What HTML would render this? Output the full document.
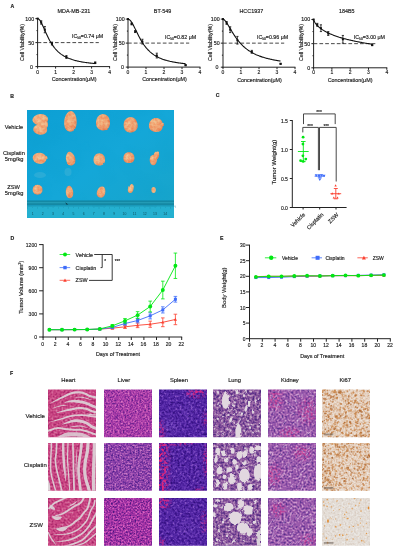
<!DOCTYPE html><html><head><meta charset="utf-8"><title>Figure</title><style>html,body{margin:0;padding:0;background:#fff;width:398px;height:550px;overflow:hidden}svg{display:block}</style></head><body><svg xmlns="http://www.w3.org/2000/svg" width="398" height="550" viewBox="0 0 398 550" font-family="'Liberation Sans', Arial, sans-serif"><style>text{stroke:#1e1e1e;stroke-width:0.16px}</style><defs><filter id="n_heart0" x="0" y="0" width="100%" height="100%" color-interpolation-filters="sRGB"><feTurbulence type="fractalNoise" baseFrequency="0.5" numOctaves="2" seed="1"/><feColorMatrix type="matrix" values="1 0 0 0 0 1 0 0 0 0 1 0 0 0 0 0 0 0 0 1"/><feComponentTransfer><feFuncR type="table" tableValues="0.604 0.604 0.604 0.604 0.604 0.646 0.688 0.729 0.748 0.766 0.784 0.795 0.805 0.816 0.824 0.831 0.839 0.839 0.839 0.839 0.839"/><feFuncG type="table" tableValues="0.141 0.141 0.141 0.141 0.141 0.162 0.183 0.204 0.225 0.246 0.267 0.295 0.324 0.353 0.403 0.452 0.502 0.502 0.502 0.502 0.502"/><feFuncB type="table" tableValues="0.384 0.384 0.384 0.384 0.384 0.410 0.437 0.463 0.478 0.494 0.510 0.528 0.546 0.565 0.593 0.622 0.651 0.651 0.651 0.651 0.651"/></feComponentTransfer></filter><filter id="n_heart1" x="0" y="0" width="100%" height="100%" color-interpolation-filters="sRGB"><feTurbulence type="fractalNoise" baseFrequency="0.5" numOctaves="2" seed="8"/><feColorMatrix type="matrix" values="1 0 0 0 0 1 0 0 0 0 1 0 0 0 0 0 0 0 0 1"/><feComponentTransfer><feFuncR type="table" tableValues="0.604 0.604 0.604 0.604 0.604 0.646 0.688 0.729 0.748 0.766 0.784 0.795 0.805 0.816 0.824 0.831 0.839 0.839 0.839 0.839 0.839"/><feFuncG type="table" tableValues="0.141 0.141 0.141 0.141 0.141 0.162 0.183 0.204 0.225 0.246 0.267 0.295 0.324 0.353 0.403 0.452 0.502 0.502 0.502 0.502 0.502"/><feFuncB type="table" tableValues="0.384 0.384 0.384 0.384 0.384 0.410 0.437 0.463 0.478 0.494 0.510 0.528 0.546 0.565 0.593 0.622 0.651 0.651 0.651 0.651 0.651"/></feComponentTransfer></filter><filter id="n_heart2" x="0" y="0" width="100%" height="100%" color-interpolation-filters="sRGB"><feTurbulence type="fractalNoise" baseFrequency="0.5" numOctaves="2" seed="15"/><feColorMatrix type="matrix" values="1 0 0 0 0 1 0 0 0 0 1 0 0 0 0 0 0 0 0 1"/><feComponentTransfer><feFuncR type="table" tableValues="0.604 0.604 0.604 0.604 0.604 0.646 0.688 0.729 0.748 0.766 0.784 0.795 0.805 0.816 0.824 0.831 0.839 0.839 0.839 0.839 0.839"/><feFuncG type="table" tableValues="0.141 0.141 0.141 0.141 0.141 0.162 0.183 0.204 0.225 0.246 0.267 0.295 0.324 0.353 0.403 0.452 0.502 0.502 0.502 0.502 0.502"/><feFuncB type="table" tableValues="0.384 0.384 0.384 0.384 0.384 0.410 0.437 0.463 0.478 0.494 0.510 0.528 0.546 0.565 0.593 0.622 0.651 0.651 0.651 0.651 0.651"/></feComponentTransfer></filter><filter id="n_liver0" x="0" y="0" width="100%" height="100%" color-interpolation-filters="sRGB"><feTurbulence type="fractalNoise" baseFrequency="0.6" numOctaves="2" seed="4"/><feColorMatrix type="matrix" values="1 0 0 0 0 1 0 0 0 0 1 0 0 0 0 0 0 0 0 1"/><feComponentTransfer><feFuncR type="table" tableValues="0.353 0.353 0.353 0.353 0.353 0.413 0.473 0.533 0.575 0.617 0.659 0.695 0.732 0.769 0.795 0.821 0.847 0.847 0.847 0.847 0.847"/><feFuncG type="table" tableValues="0.125 0.125 0.125 0.125 0.125 0.141 0.157 0.173 0.193 0.214 0.235 0.269 0.303 0.337 0.382 0.426 0.471 0.471 0.471 0.471 0.471"/><feFuncB type="table" tableValues="0.533 0.533 0.533 0.533 0.533 0.559 0.586 0.612 0.627 0.643 0.659 0.675 0.690 0.706 0.727 0.748 0.769 0.769 0.769 0.769 0.769"/></feComponentTransfer></filter><filter id="n_liver1" x="0" y="0" width="100%" height="100%" color-interpolation-filters="sRGB"><feTurbulence type="fractalNoise" baseFrequency="0.6" numOctaves="2" seed="11"/><feColorMatrix type="matrix" values="1 0 0 0 0 1 0 0 0 0 1 0 0 0 0 0 0 0 0 1"/><feComponentTransfer><feFuncR type="table" tableValues="0.290 0.290 0.290 0.290 0.290 0.337 0.384 0.431 0.473 0.515 0.557 0.599 0.641 0.682 0.722 0.761 0.800 0.800 0.800 0.800 0.800"/><feFuncG type="table" tableValues="0.125 0.125 0.125 0.125 0.125 0.146 0.167 0.188 0.212 0.235 0.259 0.293 0.327 0.361 0.408 0.455 0.502 0.502 0.502 0.502 0.502"/><feFuncB type="table" tableValues="0.533 0.533 0.533 0.533 0.533 0.559 0.586 0.612 0.630 0.648 0.667 0.685 0.703 0.722 0.742 0.763 0.784 0.784 0.784 0.784 0.784"/></feComponentTransfer></filter><filter id="n_liver2" x="0" y="0" width="100%" height="100%" color-interpolation-filters="sRGB"><feTurbulence type="fractalNoise" baseFrequency="0.6" numOctaves="2" seed="18"/><feColorMatrix type="matrix" values="1 0 0 0 0 1 0 0 0 0 1 0 0 0 0 0 0 0 0 1"/><feComponentTransfer><feFuncR type="table" tableValues="0.290 0.290 0.290 0.290 0.290 0.353 0.416 0.478 0.531 0.583 0.635 0.680 0.724 0.769 0.800 0.831 0.863 0.863 0.863 0.863 0.863"/><feFuncG type="table" tableValues="0.094 0.094 0.094 0.094 0.094 0.110 0.125 0.141 0.159 0.178 0.196 0.230 0.264 0.298 0.345 0.392 0.439 0.439 0.439 0.439 0.439"/><feFuncB type="table" tableValues="0.502 0.502 0.502 0.502 0.502 0.531 0.559 0.588 0.607 0.625 0.643 0.664 0.685 0.706 0.727 0.748 0.769 0.769 0.769 0.769 0.769"/></feComponentTransfer></filter><filter id="n_spleen0" x="0" y="0" width="100%" height="100%" color-interpolation-filters="sRGB"><feTurbulence type="fractalNoise" baseFrequency="0.45" numOctaves="2" seed="7"/><feColorMatrix type="matrix" values="1 0 0 0 0 1 0 0 0 0 1 0 0 0 0 0 0 0 0 1"/><feComponentTransfer><feFuncR type="table" tableValues="0.188 0.188 0.188 0.188 0.188 0.212 0.235 0.259 0.280 0.301 0.322 0.348 0.374 0.400 0.447 0.494 0.541 0.541 0.541 0.541 0.541"/><feFuncG type="table" tableValues="0.063 0.063 0.063 0.063 0.063 0.073 0.084 0.094 0.112 0.131 0.149 0.170 0.191 0.212 0.254 0.295 0.337 0.337 0.337 0.337 0.337"/><feFuncB type="table" tableValues="0.478 0.478 0.478 0.478 0.478 0.510 0.541 0.573 0.596 0.620 0.643 0.664 0.685 0.706 0.727 0.748 0.769 0.769 0.769 0.769 0.769"/></feComponentTransfer></filter><filter id="n_spleen1" x="0" y="0" width="100%" height="100%" color-interpolation-filters="sRGB"><feTurbulence type="fractalNoise" baseFrequency="0.45" numOctaves="2" seed="14"/><feColorMatrix type="matrix" values="1 0 0 0 0 1 0 0 0 0 1 0 0 0 0 0 0 0 0 1"/><feComponentTransfer><feFuncR type="table" tableValues="0.188 0.188 0.188 0.188 0.188 0.212 0.235 0.259 0.280 0.301 0.322 0.348 0.374 0.400 0.447 0.494 0.541 0.541 0.541 0.541 0.541"/><feFuncG type="table" tableValues="0.063 0.063 0.063 0.063 0.063 0.073 0.084 0.094 0.112 0.131 0.149 0.170 0.191 0.212 0.254 0.295 0.337 0.337 0.337 0.337 0.337"/><feFuncB type="table" tableValues="0.478 0.478 0.478 0.478 0.478 0.510 0.541 0.573 0.596 0.620 0.643 0.664 0.685 0.706 0.727 0.748 0.769 0.769 0.769 0.769 0.769"/></feComponentTransfer></filter><filter id="n_spleen2" x="0" y="0" width="100%" height="100%" color-interpolation-filters="sRGB"><feTurbulence type="fractalNoise" baseFrequency="0.45" numOctaves="2" seed="21"/><feColorMatrix type="matrix" values="1 0 0 0 0 1 0 0 0 0 1 0 0 0 0 0 0 0 0 1"/><feComponentTransfer><feFuncR type="table" tableValues="0.188 0.188 0.188 0.188 0.188 0.212 0.235 0.259 0.280 0.301 0.322 0.348 0.374 0.400 0.447 0.494 0.541 0.541 0.541 0.541 0.541"/><feFuncG type="table" tableValues="0.063 0.063 0.063 0.063 0.063 0.073 0.084 0.094 0.112 0.131 0.149 0.170 0.191 0.212 0.254 0.295 0.337 0.337 0.337 0.337 0.337"/><feFuncB type="table" tableValues="0.478 0.478 0.478 0.478 0.478 0.510 0.541 0.573 0.596 0.620 0.643 0.664 0.685 0.706 0.727 0.748 0.769 0.769 0.769 0.769 0.769"/></feComponentTransfer></filter><filter id="n_lung0" x="0" y="0" width="100%" height="100%" color-interpolation-filters="sRGB"><feTurbulence type="fractalNoise" baseFrequency="0.42" numOctaves="2" seed="10"/><feColorMatrix type="matrix" values="1 0 0 0 0 1 0 0 0 0 1 0 0 0 0 0 0 0 0 1"/><feComponentTransfer><feFuncR type="table" tableValues="0.267 0.267 0.267 0.267 0.267 0.311 0.356 0.400 0.450 0.499 0.549 0.588 0.627 0.667 0.716 0.766 0.816 0.816 0.816 0.816 0.816"/><feFuncG type="table" tableValues="0.157 0.157 0.157 0.157 0.157 0.180 0.204 0.227 0.264 0.301 0.337 0.392 0.447 0.502 0.575 0.648 0.722 0.722 0.722 0.722 0.722"/><feFuncB type="table" tableValues="0.478 0.478 0.478 0.478 0.478 0.505 0.531 0.557 0.578 0.599 0.620 0.646 0.672 0.698 0.737 0.776 0.816 0.816 0.816 0.816 0.816"/></feComponentTransfer></filter><filter id="n_lung1" x="0" y="0" width="100%" height="100%" color-interpolation-filters="sRGB"><feTurbulence type="fractalNoise" baseFrequency="0.42" numOctaves="2" seed="17"/><feColorMatrix type="matrix" values="1 0 0 0 0 1 0 0 0 0 1 0 0 0 0 0 0 0 0 1"/><feComponentTransfer><feFuncR type="table" tableValues="0.267 0.267 0.267 0.267 0.267 0.311 0.356 0.400 0.450 0.499 0.549 0.588 0.627 0.667 0.716 0.766 0.816 0.816 0.816 0.816 0.816"/><feFuncG type="table" tableValues="0.157 0.157 0.157 0.157 0.157 0.180 0.204 0.227 0.264 0.301 0.337 0.392 0.447 0.502 0.575 0.648 0.722 0.722 0.722 0.722 0.722"/><feFuncB type="table" tableValues="0.478 0.478 0.478 0.478 0.478 0.505 0.531 0.557 0.578 0.599 0.620 0.646 0.672 0.698 0.737 0.776 0.816 0.816 0.816 0.816 0.816"/></feComponentTransfer></filter><filter id="n_lung2" x="0" y="0" width="100%" height="100%" color-interpolation-filters="sRGB"><feTurbulence type="fractalNoise" baseFrequency="0.42" numOctaves="2" seed="24"/><feColorMatrix type="matrix" values="1 0 0 0 0 1 0 0 0 0 1 0 0 0 0 0 0 0 0 1"/><feComponentTransfer><feFuncR type="table" tableValues="0.267 0.267 0.267 0.267 0.267 0.311 0.356 0.400 0.450 0.499 0.549 0.588 0.627 0.667 0.716 0.766 0.816 0.816 0.816 0.816 0.816"/><feFuncG type="table" tableValues="0.157 0.157 0.157 0.157 0.157 0.180 0.204 0.227 0.264 0.301 0.337 0.392 0.447 0.502 0.575 0.648 0.722 0.722 0.722 0.722 0.722"/><feFuncB type="table" tableValues="0.478 0.478 0.478 0.478 0.478 0.505 0.531 0.557 0.578 0.599 0.620 0.646 0.672 0.698 0.737 0.776 0.816 0.816 0.816 0.816 0.816"/></feComponentTransfer></filter><filter id="n_kidney0" x="0" y="0" width="100%" height="100%" color-interpolation-filters="sRGB"><feTurbulence type="fractalNoise" baseFrequency="0.5" numOctaves="2" seed="13"/><feColorMatrix type="matrix" values="1 0 0 0 0 1 0 0 0 0 1 0 0 0 0 0 0 0 0 1"/><feComponentTransfer><feFuncR type="table" tableValues="0.322 0.322 0.322 0.322 0.322 0.374 0.426 0.478 0.520 0.562 0.604 0.643 0.682 0.722 0.763 0.805 0.847 0.847 0.847 0.847 0.847"/><feFuncG type="table" tableValues="0.188 0.188 0.188 0.188 0.188 0.214 0.241 0.267 0.295 0.324 0.353 0.395 0.437 0.478 0.544 0.609 0.675 0.675 0.675 0.675 0.675"/><feFuncB type="table" tableValues="0.541 0.541 0.541 0.541 0.541 0.567 0.593 0.620 0.638 0.656 0.675 0.695 0.716 0.737 0.771 0.805 0.839 0.839 0.839 0.839 0.839"/></feComponentTransfer></filter><filter id="n_kidney1" x="0" y="0" width="100%" height="100%" color-interpolation-filters="sRGB"><feTurbulence type="fractalNoise" baseFrequency="0.5" numOctaves="2" seed="20"/><feColorMatrix type="matrix" values="1 0 0 0 0 1 0 0 0 0 1 0 0 0 0 0 0 0 0 1"/><feComponentTransfer><feFuncR type="table" tableValues="0.322 0.322 0.322 0.322 0.322 0.374 0.426 0.478 0.520 0.562 0.604 0.643 0.682 0.722 0.763 0.805 0.847 0.847 0.847 0.847 0.847"/><feFuncG type="table" tableValues="0.188 0.188 0.188 0.188 0.188 0.214 0.241 0.267 0.295 0.324 0.353 0.395 0.437 0.478 0.544 0.609 0.675 0.675 0.675 0.675 0.675"/><feFuncB type="table" tableValues="0.541 0.541 0.541 0.541 0.541 0.567 0.593 0.620 0.638 0.656 0.675 0.695 0.716 0.737 0.771 0.805 0.839 0.839 0.839 0.839 0.839"/></feComponentTransfer></filter><filter id="n_kidney2" x="0" y="0" width="100%" height="100%" color-interpolation-filters="sRGB"><feTurbulence type="fractalNoise" baseFrequency="0.5" numOctaves="2" seed="27"/><feColorMatrix type="matrix" values="1 0 0 0 0 1 0 0 0 0 1 0 0 0 0 0 0 0 0 1"/><feComponentTransfer><feFuncR type="table" tableValues="0.322 0.322 0.322 0.322 0.322 0.374 0.426 0.478 0.520 0.562 0.604 0.643 0.682 0.722 0.763 0.805 0.847 0.847 0.847 0.847 0.847"/><feFuncG type="table" tableValues="0.188 0.188 0.188 0.188 0.188 0.214 0.241 0.267 0.295 0.324 0.353 0.395 0.437 0.478 0.544 0.609 0.675 0.675 0.675 0.675 0.675"/><feFuncB type="table" tableValues="0.541 0.541 0.541 0.541 0.541 0.567 0.593 0.620 0.638 0.656 0.675 0.695 0.716 0.737 0.771 0.805 0.839 0.839 0.839 0.839 0.839"/></feComponentTransfer></filter><filter id="n_ki670" x="0" y="0" width="100%" height="100%" color-interpolation-filters="sRGB"><feTurbulence type="fractalNoise" baseFrequency="0.55" numOctaves="2" seed="16"/><feColorMatrix type="matrix" values="1 0 0 0 0 1 0 0 0 0 1 0 0 0 0 0 0 0 0 1"/><feComponentTransfer><feFuncR type="table" tableValues="0.847 0.847 0.847 0.847 0.847 0.858 0.868 0.878 0.886 0.894 0.902 0.907 0.912 0.918 0.923 0.928 0.933 0.933 0.933 0.933 0.933"/><feFuncG type="table" tableValues="0.706 0.706 0.706 0.706 0.706 0.727 0.748 0.769 0.787 0.805 0.824 0.837 0.850 0.863 0.876 0.889 0.902 0.902 0.902 0.902 0.902"/><feFuncB type="table" tableValues="0.596 0.596 0.596 0.596 0.596 0.622 0.648 0.675 0.703 0.732 0.761 0.779 0.797 0.816 0.834 0.852 0.871 0.871 0.871 0.871 0.871"/></feComponentTransfer></filter><filter id="n_ki671" x="0" y="0" width="100%" height="100%" color-interpolation-filters="sRGB"><feTurbulence type="fractalNoise" baseFrequency="0.55" numOctaves="2" seed="23"/><feColorMatrix type="matrix" values="1 0 0 0 0 1 0 0 0 0 1 0 0 0 0 0 0 0 0 1"/><feComponentTransfer><feFuncR type="table" tableValues="0.847 0.847 0.847 0.847 0.847 0.858 0.868 0.878 0.886 0.894 0.902 0.907 0.912 0.918 0.923 0.928 0.933 0.933 0.933 0.933 0.933"/><feFuncG type="table" tableValues="0.706 0.706 0.706 0.706 0.706 0.727 0.748 0.769 0.787 0.805 0.824 0.837 0.850 0.863 0.876 0.889 0.902 0.902 0.902 0.902 0.902"/><feFuncB type="table" tableValues="0.596 0.596 0.596 0.596 0.596 0.622 0.648 0.675 0.703 0.732 0.761 0.779 0.797 0.816 0.834 0.852 0.871 0.871 0.871 0.871 0.871"/></feComponentTransfer></filter><filter id="n_ki672" x="0" y="0" width="100%" height="100%" color-interpolation-filters="sRGB"><feTurbulence type="fractalNoise" baseFrequency="0.55" numOctaves="2" seed="30"/><feColorMatrix type="matrix" values="1 0 0 0 0 1 0 0 0 0 1 0 0 0 0 0 0 0 0 1"/><feComponentTransfer><feFuncR type="table" tableValues="0.847 0.847 0.847 0.847 0.847 0.856 0.865 0.875 0.881 0.888 0.894 0.899 0.905 0.910 0.915 0.920 0.925 0.925 0.925 0.925 0.925"/><feFuncG type="table" tableValues="0.800 0.800 0.800 0.800 0.800 0.813 0.826 0.839 0.848 0.858 0.867 0.875 0.882 0.890 0.901 0.911 0.922 0.922 0.922 0.922 0.922"/><feFuncB type="table" tableValues="0.753 0.753 0.753 0.753 0.753 0.771 0.790 0.808 0.818 0.829 0.839 0.850 0.860 0.871 0.884 0.897 0.910 0.910 0.910 0.910 0.910"/></feComponentTransfer></filter><filter id="spk" x="-5%" y="-5%" width="110%" height="110%" color-interpolation-filters="sRGB"><feTurbulence type="fractalNoise" baseFrequency="0.45" numOctaves="1" seed="9" result="n"/><feColorMatrix in="n" type="matrix" values="0 0 0 0 0  0 0 0 0 0  0 0 0 0 0  5 0 0 0 -2.2" result="m"/><feComposite in="SourceGraphic" in2="m" operator="in"/></filter><filter id="lumpy" x="-5%" y="-5%" width="110%" height="110%"><feTurbulence type="fractalNoise" baseFrequency="0.22" numOctaves="2" seed="4" result="n"/><feDisplacementMap in="SourceGraphic" in2="n" scale="3.2" xChannelSelector="R" yChannelSelector="G"/></filter><radialGradient id="pinkR"><stop offset="0" stop-color="#f0287c"/><stop offset="0.6" stop-color="#e02a8a" stop-opacity="0.8"/><stop offset="1" stop-color="#d030a0" stop-opacity="0"/></radialGradient><filter id="spk2" x="-5%" y="-5%" width="110%" height="110%" color-interpolation-filters="sRGB"><feTurbulence type="fractalNoise" baseFrequency="0.5" numOctaves="1" seed="3" result="n"/><feColorMatrix in="n" type="matrix" values="0 0 0 0 0  0 0 0 0 0  0 0 0 0 0  7 0 0 0 -3.7" result="m"/><feComposite in="SourceGraphic" in2="m" operator="in"/></filter><radialGradient id="resR"><stop offset="0" stop-color="#a8dcec" stop-opacity="0.8"/><stop offset="1" stop-color="#a8dcec" stop-opacity="0"/></radialGradient><radialGradient id="lavR"><stop offset="0" stop-color="#9a70d8"/><stop offset="1" stop-color="#9a70d8" stop-opacity="0"/></radialGradient><linearGradient id="pinkL" x1="0" y1="0" x2="1" y2="0"><stop offset="0" stop-color="#f02270"/><stop offset="0.5" stop-color="#e82a80" stop-opacity="0.85"/><stop offset="1" stop-color="#d0309a" stop-opacity="0"/></linearGradient><filter id="soft2" x="-10%" y="-10%" width="120%" height="120%"><feGaussianBlur stdDeviation="0.7"/></filter><clipPath id="clip00"><rect x="48" y="389.5" width="48" height="47.8"/></clipPath><clipPath id="clip01"><rect x="104" y="389.5" width="48" height="47.8"/></clipPath><clipPath id="clip02"><rect x="159" y="389.5" width="48" height="47.8"/></clipPath><clipPath id="clip03"><rect x="213" y="389.5" width="48" height="47.8"/></clipPath><clipPath id="clip04"><rect x="268" y="389.5" width="48" height="47.8"/></clipPath><clipPath id="clip05"><rect x="322" y="389.5" width="48" height="47.8"/></clipPath><clipPath id="clip10"><rect x="48" y="443.0" width="48" height="47.8"/></clipPath><clipPath id="clip11"><rect x="104" y="443.0" width="48" height="47.8"/></clipPath><clipPath id="clip12"><rect x="159" y="443.0" width="48" height="47.8"/></clipPath><clipPath id="clip13"><rect x="213" y="443.0" width="48" height="47.8"/></clipPath><clipPath id="clip14"><rect x="268" y="443.0" width="48" height="47.8"/></clipPath><clipPath id="clip15"><rect x="322" y="443.0" width="48" height="47.8"/></clipPath><clipPath id="clip20"><rect x="48" y="498.0" width="48" height="47.8"/></clipPath><clipPath id="clip21"><rect x="104" y="498.0" width="48" height="47.8"/></clipPath><clipPath id="clip22"><rect x="159" y="498.0" width="48" height="47.8"/></clipPath><clipPath id="clip23"><rect x="213" y="498.0" width="48" height="47.8"/></clipPath><clipPath id="clip24"><rect x="268" y="498.0" width="48" height="47.8"/></clipPath><clipPath id="clip25"><rect x="322" y="498.0" width="48" height="47.8"/></clipPath><radialGradient id="tumL" cx="42%" cy="40%" r="65%"><stop offset="0" stop-color="#f8cca2"/><stop offset="0.6" stop-color="#f2b080"/><stop offset="1" stop-color="#e89466"/></radialGradient><radialGradient id="tumO" cx="40%" cy="40%" r="65%"><stop offset="0" stop-color="#f6c08e"/><stop offset="0.6" stop-color="#f0a474"/><stop offset="1" stop-color="#e4845a"/></radialGradient><radialGradient id="tumY" cx="40%" cy="40%" r="65%"><stop offset="0" stop-color="#f6d0a0"/><stop offset="1" stop-color="#eaa870"/></radialGradient><filter id="tumf" x="-5%" y="-5%" width="110%" height="110%" color-interpolation-filters="sRGB"><feTurbulence type="fractalNoise" baseFrequency="0.35" numOctaves="2" seed="11" result="n"/><feTurbulence type="fractalNoise" baseFrequency="0.18" numOctaves="1" seed="5" result="n2"/><feDisplacementMap in="SourceGraphic" in2="n2" scale="2.0" xChannelSelector="R" yChannelSelector="G" result="d0"/><feGaussianBlur in="d0" stdDeviation="0.5" result="d"/><feColorMatrix in="n" type="matrix" values="0 0 0 0 0.93  0.9 0 0 0 0.15  0.9 0 0 0 -0.05  0 0 0 0 1" result="c"/><feComposite in="c" in2="d" operator="in" result="t"/><feComposite in="t" in2="d" operator="arithmetic" k1="0" k2="0.35" k3="0.65" k4="0"/></filter><filter id="bluetex" x="0" y="0" width="100%" height="100%" color-interpolation-filters="sRGB"><feTurbulence type="fractalNoise" baseFrequency="0.04" numOctaves="2" seed="2"/><feColorMatrix type="matrix" values="0 0 0 0 0.05  0 0 0 0 0.62  0 0 0 0 0.80  1.2 0 0 0 -0.55"/></filter><linearGradient id="blueGrad" x1="0" y1="0" x2="1" y2="1"><stop offset="0" stop-color="#0c9fd4"/><stop offset="0.5" stop-color="#14a7d8"/><stop offset="1" stop-color="#18a4c8"/></linearGradient></defs><rect width="398" height="550" fill="#fff"/><text x="10.60" y="8.00" font-size="5.2" text-anchor="start" font-weight="bold" fill="#1e1e1e" >A</text>
<line x1="37.60" y1="18.20" x2="37.60" y2="67.05" stroke="#222" stroke-width="1.0" />
<line x1="37.15" y1="66.60" x2="110.05" y2="66.60" stroke="#222" stroke-width="1.0" />
<line x1="35.40" y1="66.60" x2="37.60" y2="66.60" stroke="#222" stroke-width="1.0" />
<text x="33.00" y="68.50" font-size="5.3" text-anchor="end" fill="#1e1e1e" >0</text>
<line x1="35.40" y1="42.60" x2="37.60" y2="42.60" stroke="#222" stroke-width="1.0" />
<text x="34.20" y="44.50" font-size="5.3" text-anchor="end" fill="#1e1e1e" >50</text>
<line x1="35.40" y1="18.60" x2="37.60" y2="18.60" stroke="#222" stroke-width="1.0" />
<text x="34.20" y="20.50" font-size="5.3" text-anchor="end" fill="#1e1e1e" >100</text>
<line x1="36.50" y1="54.60" x2="37.60" y2="54.60" stroke="#222" stroke-width="1.0" />
<line x1="36.50" y1="30.60" x2="37.60" y2="30.60" stroke="#222" stroke-width="1.0" />
<line x1="37.60" y1="66.60" x2="37.60" y2="68.60" stroke="#222" stroke-width="1.0" />
<text x="37.60" y="73.70" font-size="5.0" text-anchor="middle" fill="#1e1e1e" >0</text>
<line x1="55.60" y1="66.60" x2="55.60" y2="68.60" stroke="#222" stroke-width="1.0" />
<text x="55.60" y="73.70" font-size="5.0" text-anchor="middle" fill="#1e1e1e" >1</text>
<line x1="73.60" y1="66.60" x2="73.60" y2="68.60" stroke="#222" stroke-width="1.0" />
<text x="73.60" y="73.70" font-size="5.0" text-anchor="middle" fill="#1e1e1e" >2</text>
<line x1="91.60" y1="66.60" x2="91.60" y2="68.60" stroke="#222" stroke-width="1.0" />
<text x="91.60" y="73.70" font-size="5.0" text-anchor="middle" fill="#1e1e1e" >3</text>
<line x1="109.60" y1="66.60" x2="109.60" y2="68.60" stroke="#222" stroke-width="1.0" />
<text x="109.60" y="73.70" font-size="5.0" text-anchor="middle" fill="#1e1e1e" >4</text>
<text x="74.10" y="81.30" font-size="5.4" text-anchor="middle" fill="#1e1e1e" >Concentration(μM)</text>
<text x="73.90" y="12.60" font-size="5.4" text-anchor="middle" fill="#1e1e1e" >MDA-MB-231</text>
<text transform="translate(23.60,42.60) rotate(-90)" x="0" y="0" font-size="5.3" text-anchor="middle" fill="#1e1e1e">Cell Viability(%)</text>
<line x1="37.60" y1="42.60" x2="98.80" y2="42.60" stroke="#333" stroke-width="0.9" stroke-dasharray="3.7,2.1"/>
<text x="72.00" y="38.00" font-size="5.3" fill="#1e1e1e">IC<tspan font-size="3.2" dy="1.2">50</tspan><tspan dy="-1.2">=0.74 μM</tspan></text>
<polyline points="37.60,18.60 38.32,18.82 39.04,19.37 39.76,20.20 40.48,21.27 41.20,22.52 41.92,23.92 42.64,25.42 43.36,27.00 44.08,28.62 44.80,30.25 45.52,31.87 46.24,33.47 46.96,35.03 47.68,36.55 48.40,38.00 49.12,39.40 49.84,40.73 50.56,41.99 51.28,43.19 52.00,44.33 52.72,45.40 53.44,46.41 54.16,47.37 54.88,48.27 55.60,49.12 56.32,49.92 57.04,50.67 57.76,51.37 58.48,52.04 59.20,52.67 59.92,53.26 60.64,53.82 61.36,54.35 62.08,54.84 62.80,55.31 63.52,55.76 64.24,56.18 64.96,56.57 65.68,56.95 66.40,57.31 67.12,57.64 67.84,57.96 68.56,58.27 69.28,58.56 70.00,58.83 70.72,59.09 71.44,59.34 72.16,59.58 72.88,59.80 73.60,60.02 74.32,60.22 75.04,60.42 75.76,60.61 76.48,60.79 77.20,60.96 77.92,61.12 78.64,61.28 79.36,61.43 80.08,61.57 80.80,61.71 81.52,61.84 82.24,61.97 82.96,62.09 83.68,62.21 84.40,62.32 85.12,62.43 85.84,62.54 86.56,62.64 87.28,62.73 88.00,62.83 88.72,62.92 89.44,63.01 90.16,63.09 90.88,63.17 91.60,63.25 92.32,63.32 93.04,63.40 93.76,63.47 94.48,63.54 95.20,63.60" fill="none" stroke="#111" stroke-width="1.1"/>
<rect x="36.60" y="17.60" width="2.0" height="2.0" fill="#111"/>
<line x1="41.20" y1="20.76" x2="41.20" y2="24.12" stroke="#111" stroke-width="0.8" />
<line x1="40.10" y1="20.76" x2="42.30" y2="20.76" stroke="#111" stroke-width="0.8" />
<line x1="40.10" y1="24.12" x2="42.30" y2="24.12" stroke="#111" stroke-width="0.8" />
<rect x="40.20" y="21.44" width="2.0" height="2.0" fill="#111"/>
<line x1="44.80" y1="26.52" x2="44.80" y2="32.76" stroke="#111" stroke-width="0.8" />
<line x1="43.70" y1="26.52" x2="45.90" y2="26.52" stroke="#111" stroke-width="0.8" />
<line x1="43.70" y1="32.76" x2="45.90" y2="32.76" stroke="#111" stroke-width="0.8" />
<rect x="43.80" y="28.64" width="2.0" height="2.0" fill="#111"/>
<line x1="52.00" y1="42.12" x2="52.00" y2="45.00" stroke="#111" stroke-width="0.8" />
<line x1="50.90" y1="42.12" x2="53.10" y2="42.12" stroke="#111" stroke-width="0.8" />
<line x1="50.90" y1="45.00" x2="53.10" y2="45.00" stroke="#111" stroke-width="0.8" />
<rect x="51.00" y="42.56" width="2.0" height="2.0" fill="#111"/>
<line x1="66.40" y1="55.56" x2="66.40" y2="58.44" stroke="#111" stroke-width="0.8" />
<line x1="65.30" y1="55.56" x2="67.50" y2="55.56" stroke="#111" stroke-width="0.8" />
<line x1="65.30" y1="58.44" x2="67.50" y2="58.44" stroke="#111" stroke-width="0.8" />
<rect x="65.40" y="56.00" width="2.0" height="2.0" fill="#111"/>
<line x1="95.20" y1="62.04" x2="95.20" y2="63.48" stroke="#111" stroke-width="0.8" />
<line x1="94.10" y1="62.04" x2="96.30" y2="62.04" stroke="#111" stroke-width="0.8" />
<line x1="94.10" y1="63.48" x2="96.30" y2="63.48" stroke="#111" stroke-width="0.8" />
<rect x="94.20" y="61.76" width="2.0" height="2.0" fill="#111"/>
<line x1="128.00" y1="18.70" x2="128.00" y2="67.55" stroke="#222" stroke-width="1.0" />
<line x1="127.55" y1="67.10" x2="200.45" y2="67.10" stroke="#222" stroke-width="1.0" />
<line x1="125.80" y1="67.10" x2="128.00" y2="67.10" stroke="#222" stroke-width="1.0" />
<text x="124.00" y="69.00" font-size="5.3" text-anchor="end" fill="#1e1e1e" >0</text>
<line x1="125.80" y1="43.10" x2="128.00" y2="43.10" stroke="#222" stroke-width="1.0" />
<text x="124.60" y="45.00" font-size="5.3" text-anchor="end" fill="#1e1e1e" >50</text>
<line x1="125.80" y1="19.10" x2="128.00" y2="19.10" stroke="#222" stroke-width="1.0" />
<text x="124.60" y="21.00" font-size="5.3" text-anchor="end" fill="#1e1e1e" >100</text>
<line x1="126.90" y1="55.10" x2="128.00" y2="55.10" stroke="#222" stroke-width="1.0" />
<line x1="126.90" y1="31.10" x2="128.00" y2="31.10" stroke="#222" stroke-width="1.0" />
<line x1="128.00" y1="67.10" x2="128.00" y2="69.10" stroke="#222" stroke-width="1.0" />
<text x="128.00" y="73.95" font-size="5.0" text-anchor="middle" fill="#1e1e1e" >0</text>
<line x1="146.00" y1="67.10" x2="146.00" y2="69.10" stroke="#222" stroke-width="1.0" />
<text x="146.00" y="73.95" font-size="5.0" text-anchor="middle" fill="#1e1e1e" >1</text>
<line x1="164.00" y1="67.10" x2="164.00" y2="69.10" stroke="#222" stroke-width="1.0" />
<text x="164.00" y="73.95" font-size="5.0" text-anchor="middle" fill="#1e1e1e" >2</text>
<line x1="182.00" y1="67.10" x2="182.00" y2="69.10" stroke="#222" stroke-width="1.0" />
<text x="182.00" y="73.95" font-size="5.0" text-anchor="middle" fill="#1e1e1e" >3</text>
<line x1="200.00" y1="67.10" x2="200.00" y2="69.10" stroke="#222" stroke-width="1.0" />
<text x="200.00" y="73.95" font-size="5.0" text-anchor="middle" fill="#1e1e1e" >4</text>
<text x="164.50" y="81.47" font-size="5.4" text-anchor="middle" fill="#1e1e1e" >Concentration(μM)</text>
<text x="162.50" y="12.60" font-size="5.4" text-anchor="middle" fill="#1e1e1e" >BT-549</text>
<text transform="translate(116.90,42.60) rotate(-90)" x="0" y="0" font-size="5.3" text-anchor="middle" fill="#1e1e1e">Cell Viability(%)</text>
<line x1="128.00" y1="43.10" x2="189.20" y2="43.10" stroke="#333" stroke-width="0.9" stroke-dasharray="3.7,2.1"/>
<text x="165.00" y="38.70" font-size="5.3" fill="#1e1e1e">IC<tspan font-size="3.2" dy="1.2">50</tspan><tspan dy="-1.2">=0.82 μM</tspan></text>
<polyline points="128.00,19.10 128.72,19.25 129.44,19.67 130.16,20.31 130.88,21.16 131.60,22.18 132.32,23.34 133.04,24.62 133.76,25.98 134.48,27.41 135.20,28.87 135.92,30.36 136.64,31.84 137.36,33.32 138.08,34.77 138.80,36.18 139.52,37.55 140.24,38.88 140.96,40.15 141.68,41.37 142.40,42.54 143.12,43.65 143.84,44.71 144.56,45.71 145.28,46.67 146.00,47.57 146.72,48.43 147.44,49.24 148.16,50.01 148.88,50.73 149.60,51.42 150.32,52.07 151.04,52.69 151.76,53.27 152.48,53.82 153.20,54.34 153.92,54.84 154.64,55.31 155.36,55.75 156.08,56.18 156.80,56.58 157.52,56.96 158.24,57.32 158.96,57.66 159.68,57.99 160.40,58.30 161.12,58.60 161.84,58.88 162.56,59.15 163.28,59.40 164.00,59.65 164.72,59.88 165.44,60.11 166.16,60.32 166.88,60.52 167.60,60.72 168.32,60.91 169.04,61.08 169.76,61.26 170.48,61.42 171.20,61.58 171.92,61.73 172.64,61.88 173.36,62.02 174.08,62.15 174.80,62.28 175.52,62.40 176.24,62.52 176.96,62.64 177.68,62.75 178.40,62.86 179.12,62.96 179.84,63.06 180.56,63.16 181.28,63.25 182.00,63.34 182.72,63.42 183.44,63.51 184.16,63.59 184.88,63.67 185.60,63.74" fill="none" stroke="#111" stroke-width="1.1"/>
<rect x="127.00" y="18.10" width="2.0" height="2.0" fill="#111"/>
<line x1="131.60" y1="22.94" x2="131.60" y2="24.86" stroke="#111" stroke-width="0.8" />
<line x1="130.50" y1="22.94" x2="132.70" y2="22.94" stroke="#111" stroke-width="0.8" />
<line x1="130.50" y1="24.86" x2="132.70" y2="24.86" stroke="#111" stroke-width="0.8" />
<rect x="130.60" y="22.90" width="2.0" height="2.0" fill="#111"/>
<line x1="135.20" y1="30.62" x2="135.20" y2="32.54" stroke="#111" stroke-width="0.8" />
<line x1="134.10" y1="30.62" x2="136.30" y2="30.62" stroke="#111" stroke-width="0.8" />
<line x1="134.10" y1="32.54" x2="136.30" y2="32.54" stroke="#111" stroke-width="0.8" />
<rect x="134.20" y="30.58" width="2.0" height="2.0" fill="#111"/>
<line x1="142.40" y1="39.26" x2="142.40" y2="44.06" stroke="#111" stroke-width="0.8" />
<line x1="141.30" y1="39.26" x2="143.50" y2="39.26" stroke="#111" stroke-width="0.8" />
<line x1="141.30" y1="44.06" x2="143.50" y2="44.06" stroke="#111" stroke-width="0.8" />
<rect x="141.40" y="40.66" width="2.0" height="2.0" fill="#111"/>
<line x1="156.80" y1="53.18" x2="156.80" y2="57.98" stroke="#111" stroke-width="0.8" />
<line x1="155.70" y1="53.18" x2="157.90" y2="53.18" stroke="#111" stroke-width="0.8" />
<line x1="155.70" y1="57.98" x2="157.90" y2="57.98" stroke="#111" stroke-width="0.8" />
<rect x="155.80" y="54.58" width="2.0" height="2.0" fill="#111"/>
<line x1="185.60" y1="64.70" x2="185.60" y2="65.66" stroke="#111" stroke-width="0.8" />
<line x1="184.50" y1="64.70" x2="186.70" y2="64.70" stroke="#111" stroke-width="0.8" />
<line x1="184.50" y1="65.66" x2="186.70" y2="65.66" stroke="#111" stroke-width="0.8" />
<rect x="184.60" y="64.18" width="2.0" height="2.0" fill="#111"/>
<line x1="223.00" y1="18.70" x2="223.00" y2="67.65" stroke="#222" stroke-width="1.0" />
<line x1="222.55" y1="67.20" x2="295.45" y2="67.20" stroke="#222" stroke-width="1.0" />
<line x1="220.80" y1="67.20" x2="223.00" y2="67.20" stroke="#222" stroke-width="1.0" />
<text x="218.40" y="69.10" font-size="5.3" text-anchor="end" fill="#1e1e1e" >0</text>
<line x1="220.80" y1="43.15" x2="223.00" y2="43.15" stroke="#222" stroke-width="1.0" />
<text x="219.60" y="45.05" font-size="5.3" text-anchor="end" fill="#1e1e1e" >50</text>
<line x1="220.80" y1="19.10" x2="223.00" y2="19.10" stroke="#222" stroke-width="1.0" />
<text x="219.60" y="21.00" font-size="5.3" text-anchor="end" fill="#1e1e1e" >100</text>
<line x1="221.90" y1="55.18" x2="223.00" y2="55.18" stroke="#222" stroke-width="1.0" />
<line x1="221.90" y1="31.12" x2="223.00" y2="31.12" stroke="#222" stroke-width="1.0" />
<line x1="223.00" y1="67.20" x2="223.00" y2="69.20" stroke="#222" stroke-width="1.0" />
<text x="223.00" y="74.20" font-size="5.0" text-anchor="middle" fill="#1e1e1e" >0</text>
<line x1="241.00" y1="67.20" x2="241.00" y2="69.20" stroke="#222" stroke-width="1.0" />
<text x="241.00" y="74.20" font-size="5.0" text-anchor="middle" fill="#1e1e1e" >1</text>
<line x1="259.00" y1="67.20" x2="259.00" y2="69.20" stroke="#222" stroke-width="1.0" />
<text x="259.00" y="74.20" font-size="5.0" text-anchor="middle" fill="#1e1e1e" >2</text>
<line x1="277.00" y1="67.20" x2="277.00" y2="69.20" stroke="#222" stroke-width="1.0" />
<text x="277.00" y="74.20" font-size="5.0" text-anchor="middle" fill="#1e1e1e" >3</text>
<line x1="295.00" y1="67.20" x2="295.00" y2="69.20" stroke="#222" stroke-width="1.0" />
<text x="295.00" y="74.20" font-size="5.0" text-anchor="middle" fill="#1e1e1e" >4</text>
<text x="259.50" y="81.64" font-size="5.4" text-anchor="middle" fill="#1e1e1e" >Concentration(μM)</text>
<text x="251.30" y="12.60" font-size="5.4" text-anchor="middle" fill="#1e1e1e" >HCC1937</text>
<text transform="translate(211.90,42.60) rotate(-90)" x="0" y="0" font-size="5.3" text-anchor="middle" fill="#1e1e1e">Cell Viability(%)</text>
<line x1="223.00" y1="43.15" x2="284.20" y2="43.15" stroke="#333" stroke-width="0.9" stroke-dasharray="3.7,2.1"/>
<text x="257.00" y="39.25" font-size="5.3" fill="#1e1e1e">IC<tspan font-size="3.2" dy="1.2">50</tspan><tspan dy="-1.2">=0.96 μM</tspan></text>
<polyline points="223.00,19.10 223.72,19.40 224.44,19.99 225.16,20.77 225.88,21.69 226.60,22.72 227.32,23.82 228.04,24.98 228.76,26.17 229.48,27.39 230.20,28.61 230.92,29.83 231.64,31.03 232.36,32.22 233.08,33.38 233.80,34.51 234.52,35.61 235.24,36.68 235.96,37.71 236.68,38.71 237.40,39.67 238.12,40.59 238.84,41.48 239.56,42.33 240.28,43.15 241.00,43.94 241.72,44.69 242.44,45.41 243.16,46.10 243.88,46.76 244.60,47.40 245.32,48.01 246.04,48.59 246.76,49.15 247.48,49.68 248.20,50.20 248.92,50.69 249.64,51.16 250.36,51.61 251.08,52.05 251.80,52.47 252.52,52.87 253.24,53.25 253.96,53.62 254.68,53.98 255.40,54.32 256.12,54.65 256.84,54.96 257.56,55.27 258.28,55.56 259.00,55.85 259.72,56.12 260.44,56.38 261.16,56.63 261.88,56.88 262.60,57.11 263.32,57.34 264.04,57.56 264.76,57.77 265.48,57.98 266.20,58.18 266.92,58.37 267.64,58.56 268.36,58.74 269.08,58.91 269.80,59.08 270.52,59.24 271.24,59.40 271.96,59.56 272.68,59.71 273.40,59.85 274.12,59.99 274.84,60.13 275.56,60.26 276.28,60.39 277.00,60.51 277.72,60.63 278.44,60.75 279.16,60.86 279.88,60.98 280.60,61.08" fill="none" stroke="#111" stroke-width="1.1"/>
<rect x="222.00" y="18.10" width="2.0" height="2.0" fill="#111"/>
<line x1="226.60" y1="21.51" x2="226.60" y2="24.39" stroke="#111" stroke-width="0.8" />
<line x1="225.50" y1="21.51" x2="227.70" y2="21.51" stroke="#111" stroke-width="0.8" />
<line x1="225.50" y1="24.39" x2="227.70" y2="24.39" stroke="#111" stroke-width="0.8" />
<rect x="225.60" y="21.95" width="2.0" height="2.0" fill="#111"/>
<line x1="230.20" y1="26.80" x2="230.20" y2="32.57" stroke="#111" stroke-width="0.8" />
<line x1="229.10" y1="26.80" x2="231.30" y2="26.80" stroke="#111" stroke-width="0.8" />
<line x1="229.10" y1="32.57" x2="231.30" y2="32.57" stroke="#111" stroke-width="0.8" />
<rect x="229.20" y="28.68" width="2.0" height="2.0" fill="#111"/>
<line x1="237.40" y1="36.42" x2="237.40" y2="44.11" stroke="#111" stroke-width="0.8" />
<line x1="236.30" y1="36.42" x2="238.50" y2="36.42" stroke="#111" stroke-width="0.8" />
<line x1="236.30" y1="44.11" x2="238.50" y2="44.11" stroke="#111" stroke-width="0.8" />
<rect x="236.40" y="39.26" width="2.0" height="2.0" fill="#111"/>
<line x1="251.80" y1="50.37" x2="251.80" y2="53.25" stroke="#111" stroke-width="0.8" />
<line x1="250.70" y1="50.37" x2="252.90" y2="50.37" stroke="#111" stroke-width="0.8" />
<line x1="250.70" y1="53.25" x2="252.90" y2="53.25" stroke="#111" stroke-width="0.8" />
<rect x="250.80" y="50.81" width="2.0" height="2.0" fill="#111"/>
<line x1="280.60" y1="63.35" x2="280.60" y2="64.31" stroke="#111" stroke-width="0.8" />
<line x1="279.50" y1="63.35" x2="281.70" y2="63.35" stroke="#111" stroke-width="0.8" />
<line x1="279.50" y1="64.31" x2="281.70" y2="64.31" stroke="#111" stroke-width="0.8" />
<rect x="279.60" y="62.83" width="2.0" height="2.0" fill="#111"/>
<line x1="313.60" y1="19.10" x2="313.60" y2="68.25" stroke="#222" stroke-width="1.0" />
<line x1="313.15" y1="67.80" x2="387.25" y2="67.80" stroke="#222" stroke-width="1.0" />
<line x1="311.40" y1="67.80" x2="313.60" y2="67.80" stroke="#222" stroke-width="1.0" />
<text x="310.20" y="69.70" font-size="5.3" text-anchor="end" fill="#1e1e1e" >0</text>
<line x1="311.40" y1="43.65" x2="313.60" y2="43.65" stroke="#222" stroke-width="1.0" />
<text x="310.20" y="45.55" font-size="5.3" text-anchor="end" fill="#1e1e1e" >50</text>
<line x1="311.40" y1="19.50" x2="313.60" y2="19.50" stroke="#222" stroke-width="1.0" />
<text x="310.20" y="21.40" font-size="5.3" text-anchor="end" fill="#1e1e1e" >100</text>
<line x1="312.50" y1="55.72" x2="313.60" y2="55.72" stroke="#222" stroke-width="1.0" />
<line x1="312.50" y1="31.57" x2="313.60" y2="31.57" stroke="#222" stroke-width="1.0" />
<line x1="313.60" y1="67.80" x2="313.60" y2="69.80" stroke="#222" stroke-width="1.0" />
<text x="313.60" y="74.45" font-size="5.0" text-anchor="middle" fill="#1e1e1e" >0</text>
<line x1="331.90" y1="67.80" x2="331.90" y2="69.80" stroke="#222" stroke-width="1.0" />
<text x="331.90" y="74.45" font-size="5.0" text-anchor="middle" fill="#1e1e1e" >1</text>
<line x1="350.20" y1="67.80" x2="350.20" y2="69.80" stroke="#222" stroke-width="1.0" />
<text x="350.20" y="74.45" font-size="5.0" text-anchor="middle" fill="#1e1e1e" >2</text>
<line x1="368.50" y1="67.80" x2="368.50" y2="69.80" stroke="#222" stroke-width="1.0" />
<text x="368.50" y="74.45" font-size="5.0" text-anchor="middle" fill="#1e1e1e" >3</text>
<line x1="386.80" y1="67.80" x2="386.80" y2="69.80" stroke="#222" stroke-width="1.0" />
<text x="386.80" y="74.45" font-size="5.0" text-anchor="middle" fill="#1e1e1e" >4</text>
<text x="350.10" y="81.81" font-size="5.4" text-anchor="middle" fill="#1e1e1e" >Concentration(μM)</text>
<text x="346.70" y="12.60" font-size="5.4" text-anchor="middle" fill="#1e1e1e" >184B5</text>
<text transform="translate(303.00,42.60) rotate(-90)" x="0" y="0" font-size="5.3" text-anchor="middle" fill="#1e1e1e">Cell Viability(%)</text>
<line x1="313.60" y1="43.65" x2="375.82" y2="43.65" stroke="#333" stroke-width="0.9" stroke-dasharray="3.7,2.1"/>
<text x="353.80" y="39.05" font-size="5.3" fill="#1e1e1e">IC<tspan font-size="3.2" dy="1.2">50</tspan><tspan dy="-1.2">=3.00 μM</tspan></text>
<polyline points="313.60,19.50 314.33,21.57 315.06,22.81 315.80,23.83 316.53,24.72 317.26,25.52 317.99,26.24 318.72,26.91 319.46,27.54 320.19,28.12 320.92,28.67 321.65,29.19 322.38,29.69 323.12,30.16 323.85,30.61 324.58,31.04 325.31,31.45 326.04,31.85 326.78,32.23 327.51,32.60 328.24,32.95 328.97,33.30 329.70,33.63 330.44,33.95 331.17,34.26 331.90,34.57 332.63,34.86 333.36,35.15 334.10,35.43 334.83,35.70 335.56,35.96 336.29,36.22 337.02,36.47 337.76,36.71 338.49,36.95 339.22,37.19 339.95,37.41 340.68,37.64 341.42,37.85 342.15,38.07 342.88,38.28 343.61,38.48 344.34,38.68 345.08,38.88 345.81,39.07 346.54,39.26 347.27,39.44 348.00,39.62 348.74,39.80 349.47,39.98 350.20,40.15 350.93,40.32 351.66,40.48 352.40,40.65 353.13,40.81 353.86,40.96 354.59,41.12 355.32,41.27 356.06,41.42 356.79,41.57 357.52,41.71 358.25,41.86 358.98,42.00 359.72,42.14 360.45,42.27 361.18,42.41 361.91,42.54 362.64,42.67 363.38,42.80 364.11,42.93 364.84,43.05 365.57,43.17 366.30,43.30 367.04,43.42 367.77,43.53 368.50,43.65 369.23,43.77 369.96,43.88 370.70,43.99 371.43,44.10 372.16,44.21" fill="none" stroke="#111" stroke-width="1.1"/>
<rect x="312.60" y="18.50" width="2.0" height="2.0" fill="#111"/>
<line x1="317.26" y1="23.36" x2="317.26" y2="26.26" stroke="#111" stroke-width="0.8" />
<line x1="316.16" y1="23.36" x2="318.36" y2="23.36" stroke="#111" stroke-width="0.8" />
<line x1="316.16" y1="26.26" x2="318.36" y2="26.26" stroke="#111" stroke-width="0.8" />
<rect x="316.26" y="23.81" width="2.0" height="2.0" fill="#111"/>
<line x1="320.92" y1="24.81" x2="320.92" y2="31.57" stroke="#111" stroke-width="0.8" />
<line x1="319.82" y1="24.81" x2="322.02" y2="24.81" stroke="#111" stroke-width="0.8" />
<line x1="319.82" y1="31.57" x2="322.02" y2="31.57" stroke="#111" stroke-width="0.8" />
<rect x="319.92" y="27.19" width="2.0" height="2.0" fill="#111"/>
<line x1="328.24" y1="31.57" x2="328.24" y2="35.44" stroke="#111" stroke-width="0.8" />
<line x1="327.14" y1="31.57" x2="329.34" y2="31.57" stroke="#111" stroke-width="0.8" />
<line x1="327.14" y1="35.44" x2="329.34" y2="35.44" stroke="#111" stroke-width="0.8" />
<rect x="327.24" y="32.51" width="2.0" height="2.0" fill="#111"/>
<line x1="342.88" y1="35.44" x2="342.88" y2="43.17" stroke="#111" stroke-width="0.8" />
<line x1="341.78" y1="35.44" x2="343.98" y2="35.44" stroke="#111" stroke-width="0.8" />
<line x1="341.78" y1="43.17" x2="343.98" y2="43.17" stroke="#111" stroke-width="0.8" />
<rect x="341.88" y="38.30" width="2.0" height="2.0" fill="#111"/>
<line x1="372.16" y1="44.62" x2="372.16" y2="45.58" stroke="#111" stroke-width="0.8" />
<line x1="371.06" y1="44.62" x2="373.26" y2="44.62" stroke="#111" stroke-width="0.8" />
<line x1="371.06" y1="45.58" x2="373.26" y2="45.58" stroke="#111" stroke-width="0.8" />
<rect x="371.16" y="44.10" width="2.0" height="2.0" fill="#111"/>
<text x="10.20" y="97.60" font-size="5.2" text-anchor="start" font-weight="bold" fill="#1e1e1e" >B</text>
<text x="13.90" y="128.80" font-size="5.7" text-anchor="middle" fill="#1e1e1e" >Vehicle</text>
<text x="13.90" y="154.60" font-size="5.7" text-anchor="middle" fill="#1e1e1e" >Cisplatin</text>
<text x="14.10" y="160.80" font-size="5.7" text-anchor="middle" fill="#1e1e1e" >5mg/kg</text>
<text x="13.60" y="188.90" font-size="5.7" text-anchor="middle" fill="#1e1e1e" >ZSW</text>
<text x="14.10" y="194.90" font-size="5.7" text-anchor="middle" fill="#1e1e1e" >5mg/kg</text>
<g><rect x="27" y="110" width="147" height="108" fill="url(#blueGrad)"/><rect x="27" y="110" width="147" height="91" filter="url(#bluetex)" opacity="0.5"/><ellipse cx="40" cy="175" rx="6" ry="3" fill="#60bcd8" opacity="0.3" filter="url(#soft2)"/><ellipse cx="68" cy="172" rx="3.5" ry="4" fill="#60bcd8" opacity="0.3" filter="url(#soft2)"/><rect x="27" y="200.4" width="147" height="5.2" fill="#1488a4"/><rect x="27" y="202.2" width="147" height="1.0" fill="#2ca6bf" opacity="0.8"/><rect x="27" y="205.6" width="147" height="12.2" fill="#24b0d0"/><line x1="27.60" y1="205.6" x2="27.60" y2="208.80" stroke="#106a80" stroke-width="0.3" opacity="0.8"/><line x1="28.62" y1="205.6" x2="28.62" y2="206.90" stroke="#106a80" stroke-width="0.3" opacity="0.8"/><line x1="29.64" y1="205.6" x2="29.64" y2="206.90" stroke="#106a80" stroke-width="0.3" opacity="0.8"/><line x1="30.66" y1="205.6" x2="30.66" y2="206.90" stroke="#106a80" stroke-width="0.3" opacity="0.8"/><line x1="31.68" y1="205.6" x2="31.68" y2="206.90" stroke="#106a80" stroke-width="0.3" opacity="0.8"/><line x1="32.70" y1="205.6" x2="32.70" y2="207.90" stroke="#106a80" stroke-width="0.3" opacity="0.8"/><line x1="33.72" y1="205.6" x2="33.72" y2="206.90" stroke="#106a80" stroke-width="0.3" opacity="0.8"/><line x1="34.74" y1="205.6" x2="34.74" y2="206.90" stroke="#106a80" stroke-width="0.3" opacity="0.8"/><line x1="35.76" y1="205.6" x2="35.76" y2="206.90" stroke="#106a80" stroke-width="0.3" opacity="0.8"/><line x1="36.78" y1="205.6" x2="36.78" y2="206.90" stroke="#106a80" stroke-width="0.3" opacity="0.8"/><line x1="37.80" y1="205.6" x2="37.80" y2="208.80" stroke="#106a80" stroke-width="0.3" opacity="0.8"/><line x1="38.82" y1="205.6" x2="38.82" y2="206.90" stroke="#106a80" stroke-width="0.3" opacity="0.8"/><line x1="39.84" y1="205.6" x2="39.84" y2="206.90" stroke="#106a80" stroke-width="0.3" opacity="0.8"/><line x1="40.86" y1="205.6" x2="40.86" y2="206.90" stroke="#106a80" stroke-width="0.3" opacity="0.8"/><line x1="41.88" y1="205.6" x2="41.88" y2="206.90" stroke="#106a80" stroke-width="0.3" opacity="0.8"/><line x1="42.90" y1="205.6" x2="42.90" y2="207.90" stroke="#106a80" stroke-width="0.3" opacity="0.8"/><line x1="43.92" y1="205.6" x2="43.92" y2="206.90" stroke="#106a80" stroke-width="0.3" opacity="0.8"/><line x1="44.94" y1="205.6" x2="44.94" y2="206.90" stroke="#106a80" stroke-width="0.3" opacity="0.8"/><line x1="45.96" y1="205.6" x2="45.96" y2="206.90" stroke="#106a80" stroke-width="0.3" opacity="0.8"/><line x1="46.98" y1="205.6" x2="46.98" y2="206.90" stroke="#106a80" stroke-width="0.3" opacity="0.8"/><line x1="48.00" y1="205.6" x2="48.00" y2="208.80" stroke="#106a80" stroke-width="0.3" opacity="0.8"/><line x1="49.02" y1="205.6" x2="49.02" y2="206.90" stroke="#106a80" stroke-width="0.3" opacity="0.8"/><line x1="50.04" y1="205.6" x2="50.04" y2="206.90" stroke="#106a80" stroke-width="0.3" opacity="0.8"/><line x1="51.06" y1="205.6" x2="51.06" y2="206.90" stroke="#106a80" stroke-width="0.3" opacity="0.8"/><line x1="52.08" y1="205.6" x2="52.08" y2="206.90" stroke="#106a80" stroke-width="0.3" opacity="0.8"/><line x1="53.10" y1="205.6" x2="53.10" y2="207.90" stroke="#106a80" stroke-width="0.3" opacity="0.8"/><line x1="54.12" y1="205.6" x2="54.12" y2="206.90" stroke="#106a80" stroke-width="0.3" opacity="0.8"/><line x1="55.14" y1="205.6" x2="55.14" y2="206.90" stroke="#106a80" stroke-width="0.3" opacity="0.8"/><line x1="56.16" y1="205.6" x2="56.16" y2="206.90" stroke="#106a80" stroke-width="0.3" opacity="0.8"/><line x1="57.18" y1="205.6" x2="57.18" y2="206.90" stroke="#106a80" stroke-width="0.3" opacity="0.8"/><line x1="58.20" y1="205.6" x2="58.20" y2="208.80" stroke="#106a80" stroke-width="0.3" opacity="0.8"/><line x1="59.22" y1="205.6" x2="59.22" y2="206.90" stroke="#106a80" stroke-width="0.3" opacity="0.8"/><line x1="60.24" y1="205.6" x2="60.24" y2="206.90" stroke="#106a80" stroke-width="0.3" opacity="0.8"/><line x1="61.26" y1="205.6" x2="61.26" y2="206.90" stroke="#106a80" stroke-width="0.3" opacity="0.8"/><line x1="62.28" y1="205.6" x2="62.28" y2="206.90" stroke="#106a80" stroke-width="0.3" opacity="0.8"/><line x1="63.30" y1="205.6" x2="63.30" y2="207.90" stroke="#106a80" stroke-width="0.3" opacity="0.8"/><line x1="64.32" y1="205.6" x2="64.32" y2="206.90" stroke="#106a80" stroke-width="0.3" opacity="0.8"/><line x1="65.34" y1="205.6" x2="65.34" y2="206.90" stroke="#106a80" stroke-width="0.3" opacity="0.8"/><line x1="66.36" y1="205.6" x2="66.36" y2="206.90" stroke="#106a80" stroke-width="0.3" opacity="0.8"/><line x1="67.38" y1="205.6" x2="67.38" y2="206.90" stroke="#106a80" stroke-width="0.3" opacity="0.8"/><line x1="68.40" y1="205.6" x2="68.40" y2="208.80" stroke="#106a80" stroke-width="0.3" opacity="0.8"/><line x1="69.42" y1="205.6" x2="69.42" y2="206.90" stroke="#106a80" stroke-width="0.3" opacity="0.8"/><line x1="70.44" y1="205.6" x2="70.44" y2="206.90" stroke="#106a80" stroke-width="0.3" opacity="0.8"/><line x1="71.46" y1="205.6" x2="71.46" y2="206.90" stroke="#106a80" stroke-width="0.3" opacity="0.8"/><line x1="72.48" y1="205.6" x2="72.48" y2="206.90" stroke="#106a80" stroke-width="0.3" opacity="0.8"/><line x1="73.50" y1="205.6" x2="73.50" y2="207.90" stroke="#106a80" stroke-width="0.3" opacity="0.8"/><line x1="74.52" y1="205.6" x2="74.52" y2="206.90" stroke="#106a80" stroke-width="0.3" opacity="0.8"/><line x1="75.54" y1="205.6" x2="75.54" y2="206.90" stroke="#106a80" stroke-width="0.3" opacity="0.8"/><line x1="76.56" y1="205.6" x2="76.56" y2="206.90" stroke="#106a80" stroke-width="0.3" opacity="0.8"/><line x1="77.58" y1="205.6" x2="77.58" y2="206.90" stroke="#106a80" stroke-width="0.3" opacity="0.8"/><line x1="78.60" y1="205.6" x2="78.60" y2="208.80" stroke="#106a80" stroke-width="0.3" opacity="0.8"/><line x1="79.62" y1="205.6" x2="79.62" y2="206.90" stroke="#106a80" stroke-width="0.3" opacity="0.8"/><line x1="80.64" y1="205.6" x2="80.64" y2="206.90" stroke="#106a80" stroke-width="0.3" opacity="0.8"/><line x1="81.66" y1="205.6" x2="81.66" y2="206.90" stroke="#106a80" stroke-width="0.3" opacity="0.8"/><line x1="82.68" y1="205.6" x2="82.68" y2="206.90" stroke="#106a80" stroke-width="0.3" opacity="0.8"/><line x1="83.70" y1="205.6" x2="83.70" y2="207.90" stroke="#106a80" stroke-width="0.3" opacity="0.8"/><line x1="84.72" y1="205.6" x2="84.72" y2="206.90" stroke="#106a80" stroke-width="0.3" opacity="0.8"/><line x1="85.74" y1="205.6" x2="85.74" y2="206.90" stroke="#106a80" stroke-width="0.3" opacity="0.8"/><line x1="86.76" y1="205.6" x2="86.76" y2="206.90" stroke="#106a80" stroke-width="0.3" opacity="0.8"/><line x1="87.78" y1="205.6" x2="87.78" y2="206.90" stroke="#106a80" stroke-width="0.3" opacity="0.8"/><line x1="88.80" y1="205.6" x2="88.80" y2="208.80" stroke="#106a80" stroke-width="0.3" opacity="0.8"/><line x1="89.82" y1="205.6" x2="89.82" y2="206.90" stroke="#106a80" stroke-width="0.3" opacity="0.8"/><line x1="90.84" y1="205.6" x2="90.84" y2="206.90" stroke="#106a80" stroke-width="0.3" opacity="0.8"/><line x1="91.86" y1="205.6" x2="91.86" y2="206.90" stroke="#106a80" stroke-width="0.3" opacity="0.8"/><line x1="92.88" y1="205.6" x2="92.88" y2="206.90" stroke="#106a80" stroke-width="0.3" opacity="0.8"/><line x1="93.90" y1="205.6" x2="93.90" y2="207.90" stroke="#106a80" stroke-width="0.3" opacity="0.8"/><line x1="94.92" y1="205.6" x2="94.92" y2="206.90" stroke="#106a80" stroke-width="0.3" opacity="0.8"/><line x1="95.94" y1="205.6" x2="95.94" y2="206.90" stroke="#106a80" stroke-width="0.3" opacity="0.8"/><line x1="96.96" y1="205.6" x2="96.96" y2="206.90" stroke="#106a80" stroke-width="0.3" opacity="0.8"/><line x1="97.98" y1="205.6" x2="97.98" y2="206.90" stroke="#106a80" stroke-width="0.3" opacity="0.8"/><line x1="99.00" y1="205.6" x2="99.00" y2="208.80" stroke="#106a80" stroke-width="0.3" opacity="0.8"/><line x1="100.02" y1="205.6" x2="100.02" y2="206.90" stroke="#106a80" stroke-width="0.3" opacity="0.8"/><line x1="101.04" y1="205.6" x2="101.04" y2="206.90" stroke="#106a80" stroke-width="0.3" opacity="0.8"/><line x1="102.06" y1="205.6" x2="102.06" y2="206.90" stroke="#106a80" stroke-width="0.3" opacity="0.8"/><line x1="103.08" y1="205.6" x2="103.08" y2="206.90" stroke="#106a80" stroke-width="0.3" opacity="0.8"/><line x1="104.10" y1="205.6" x2="104.10" y2="207.90" stroke="#106a80" stroke-width="0.3" opacity="0.8"/><line x1="105.12" y1="205.6" x2="105.12" y2="206.90" stroke="#106a80" stroke-width="0.3" opacity="0.8"/><line x1="106.14" y1="205.6" x2="106.14" y2="206.90" stroke="#106a80" stroke-width="0.3" opacity="0.8"/><line x1="107.16" y1="205.6" x2="107.16" y2="206.90" stroke="#106a80" stroke-width="0.3" opacity="0.8"/><line x1="108.18" y1="205.6" x2="108.18" y2="206.90" stroke="#106a80" stroke-width="0.3" opacity="0.8"/><line x1="109.20" y1="205.6" x2="109.20" y2="208.80" stroke="#106a80" stroke-width="0.3" opacity="0.8"/><line x1="110.22" y1="205.6" x2="110.22" y2="206.90" stroke="#106a80" stroke-width="0.3" opacity="0.8"/><line x1="111.24" y1="205.6" x2="111.24" y2="206.90" stroke="#106a80" stroke-width="0.3" opacity="0.8"/><line x1="112.26" y1="205.6" x2="112.26" y2="206.90" stroke="#106a80" stroke-width="0.3" opacity="0.8"/><line x1="113.28" y1="205.6" x2="113.28" y2="206.90" stroke="#106a80" stroke-width="0.3" opacity="0.8"/><line x1="114.30" y1="205.6" x2="114.30" y2="207.90" stroke="#106a80" stroke-width="0.3" opacity="0.8"/><line x1="115.32" y1="205.6" x2="115.32" y2="206.90" stroke="#106a80" stroke-width="0.3" opacity="0.8"/><line x1="116.34" y1="205.6" x2="116.34" y2="206.90" stroke="#106a80" stroke-width="0.3" opacity="0.8"/><line x1="117.36" y1="205.6" x2="117.36" y2="206.90" stroke="#106a80" stroke-width="0.3" opacity="0.8"/><line x1="118.38" y1="205.6" x2="118.38" y2="206.90" stroke="#106a80" stroke-width="0.3" opacity="0.8"/><line x1="119.40" y1="205.6" x2="119.40" y2="208.80" stroke="#106a80" stroke-width="0.3" opacity="0.8"/><line x1="120.42" y1="205.6" x2="120.42" y2="206.90" stroke="#106a80" stroke-width="0.3" opacity="0.8"/><line x1="121.44" y1="205.6" x2="121.44" y2="206.90" stroke="#106a80" stroke-width="0.3" opacity="0.8"/><line x1="122.46" y1="205.6" x2="122.46" y2="206.90" stroke="#106a80" stroke-width="0.3" opacity="0.8"/><line x1="123.48" y1="205.6" x2="123.48" y2="206.90" stroke="#106a80" stroke-width="0.3" opacity="0.8"/><line x1="124.50" y1="205.6" x2="124.50" y2="207.90" stroke="#106a80" stroke-width="0.3" opacity="0.8"/><line x1="125.52" y1="205.6" x2="125.52" y2="206.90" stroke="#106a80" stroke-width="0.3" opacity="0.8"/><line x1="126.54" y1="205.6" x2="126.54" y2="206.90" stroke="#106a80" stroke-width="0.3" opacity="0.8"/><line x1="127.56" y1="205.6" x2="127.56" y2="206.90" stroke="#106a80" stroke-width="0.3" opacity="0.8"/><line x1="128.58" y1="205.6" x2="128.58" y2="206.90" stroke="#106a80" stroke-width="0.3" opacity="0.8"/><line x1="129.60" y1="205.6" x2="129.60" y2="208.80" stroke="#106a80" stroke-width="0.3" opacity="0.8"/><line x1="130.62" y1="205.6" x2="130.62" y2="206.90" stroke="#106a80" stroke-width="0.3" opacity="0.8"/><line x1="131.64" y1="205.6" x2="131.64" y2="206.90" stroke="#106a80" stroke-width="0.3" opacity="0.8"/><line x1="132.66" y1="205.6" x2="132.66" y2="206.90" stroke="#106a80" stroke-width="0.3" opacity="0.8"/><line x1="133.68" y1="205.6" x2="133.68" y2="206.90" stroke="#106a80" stroke-width="0.3" opacity="0.8"/><line x1="134.70" y1="205.6" x2="134.70" y2="207.90" stroke="#106a80" stroke-width="0.3" opacity="0.8"/><line x1="135.72" y1="205.6" x2="135.72" y2="206.90" stroke="#106a80" stroke-width="0.3" opacity="0.8"/><line x1="136.74" y1="205.6" x2="136.74" y2="206.90" stroke="#106a80" stroke-width="0.3" opacity="0.8"/><line x1="137.76" y1="205.6" x2="137.76" y2="206.90" stroke="#106a80" stroke-width="0.3" opacity="0.8"/><line x1="138.78" y1="205.6" x2="138.78" y2="206.90" stroke="#106a80" stroke-width="0.3" opacity="0.8"/><line x1="139.80" y1="205.6" x2="139.80" y2="208.80" stroke="#106a80" stroke-width="0.3" opacity="0.8"/><line x1="140.82" y1="205.6" x2="140.82" y2="206.90" stroke="#106a80" stroke-width="0.3" opacity="0.8"/><line x1="141.84" y1="205.6" x2="141.84" y2="206.90" stroke="#106a80" stroke-width="0.3" opacity="0.8"/><line x1="142.86" y1="205.6" x2="142.86" y2="206.90" stroke="#106a80" stroke-width="0.3" opacity="0.8"/><line x1="143.88" y1="205.6" x2="143.88" y2="206.90" stroke="#106a80" stroke-width="0.3" opacity="0.8"/><line x1="144.90" y1="205.6" x2="144.90" y2="207.90" stroke="#106a80" stroke-width="0.3" opacity="0.8"/><line x1="145.92" y1="205.6" x2="145.92" y2="206.90" stroke="#106a80" stroke-width="0.3" opacity="0.8"/><line x1="146.94" y1="205.6" x2="146.94" y2="206.90" stroke="#106a80" stroke-width="0.3" opacity="0.8"/><line x1="147.96" y1="205.6" x2="147.96" y2="206.90" stroke="#106a80" stroke-width="0.3" opacity="0.8"/><line x1="148.98" y1="205.6" x2="148.98" y2="206.90" stroke="#106a80" stroke-width="0.3" opacity="0.8"/><line x1="150.00" y1="205.6" x2="150.00" y2="208.80" stroke="#106a80" stroke-width="0.3" opacity="0.8"/><line x1="151.02" y1="205.6" x2="151.02" y2="206.90" stroke="#106a80" stroke-width="0.3" opacity="0.8"/><line x1="152.04" y1="205.6" x2="152.04" y2="206.90" stroke="#106a80" stroke-width="0.3" opacity="0.8"/><line x1="153.06" y1="205.6" x2="153.06" y2="206.90" stroke="#106a80" stroke-width="0.3" opacity="0.8"/><line x1="154.08" y1="205.6" x2="154.08" y2="206.90" stroke="#106a80" stroke-width="0.3" opacity="0.8"/><line x1="155.10" y1="205.6" x2="155.10" y2="207.90" stroke="#106a80" stroke-width="0.3" opacity="0.8"/><line x1="156.12" y1="205.6" x2="156.12" y2="206.90" stroke="#106a80" stroke-width="0.3" opacity="0.8"/><line x1="157.14" y1="205.6" x2="157.14" y2="206.90" stroke="#106a80" stroke-width="0.3" opacity="0.8"/><line x1="158.16" y1="205.6" x2="158.16" y2="206.90" stroke="#106a80" stroke-width="0.3" opacity="0.8"/><line x1="159.18" y1="205.6" x2="159.18" y2="206.90" stroke="#106a80" stroke-width="0.3" opacity="0.8"/><line x1="160.20" y1="205.6" x2="160.20" y2="208.80" stroke="#106a80" stroke-width="0.3" opacity="0.8"/><line x1="161.22" y1="205.6" x2="161.22" y2="206.90" stroke="#106a80" stroke-width="0.3" opacity="0.8"/><line x1="162.24" y1="205.6" x2="162.24" y2="206.90" stroke="#106a80" stroke-width="0.3" opacity="0.8"/><line x1="163.26" y1="205.6" x2="163.26" y2="206.90" stroke="#106a80" stroke-width="0.3" opacity="0.8"/><line x1="164.28" y1="205.6" x2="164.28" y2="206.90" stroke="#106a80" stroke-width="0.3" opacity="0.8"/><line x1="165.30" y1="205.6" x2="165.30" y2="207.90" stroke="#106a80" stroke-width="0.3" opacity="0.8"/><line x1="166.32" y1="205.6" x2="166.32" y2="206.90" stroke="#106a80" stroke-width="0.3" opacity="0.8"/><line x1="167.34" y1="205.6" x2="167.34" y2="206.90" stroke="#106a80" stroke-width="0.3" opacity="0.8"/><line x1="168.36" y1="205.6" x2="168.36" y2="206.90" stroke="#106a80" stroke-width="0.3" opacity="0.8"/><line x1="169.38" y1="205.6" x2="169.38" y2="206.90" stroke="#106a80" stroke-width="0.3" opacity="0.8"/><line x1="170.40" y1="205.6" x2="170.40" y2="208.80" stroke="#106a80" stroke-width="0.3" opacity="0.8"/><line x1="171.42" y1="205.6" x2="171.42" y2="206.90" stroke="#106a80" stroke-width="0.3" opacity="0.8"/><line x1="172.44" y1="205.6" x2="172.44" y2="206.90" stroke="#106a80" stroke-width="0.3" opacity="0.8"/><line x1="173.46" y1="205.6" x2="173.46" y2="206.90" stroke="#106a80" stroke-width="0.3" opacity="0.8"/><line x1="174.48" y1="205.6" x2="174.48" y2="206.90" stroke="#106a80" stroke-width="0.3" opacity="0.8"/><line x1="175.50" y1="205.6" x2="175.50" y2="207.90" stroke="#106a80" stroke-width="0.3" opacity="0.8"/><text x="32.6" y="214.6" font-size="3.4" fill="#104e5c" style="stroke:none" text-anchor="middle">1</text><text x="42.8" y="214.6" font-size="3.4" fill="#104e5c" style="stroke:none" text-anchor="middle">2</text><text x="53.0" y="214.6" font-size="3.4" fill="#104e5c" style="stroke:none" text-anchor="middle">3</text><text x="63.2" y="214.6" font-size="3.4" fill="#104e5c" style="stroke:none" text-anchor="middle">4</text><text x="73.4" y="214.6" font-size="3.4" fill="#104e5c" style="stroke:none" text-anchor="middle">5</text><text x="83.6" y="214.6" font-size="3.4" fill="#104e5c" style="stroke:none" text-anchor="middle">6</text><text x="93.8" y="214.6" font-size="3.4" fill="#104e5c" style="stroke:none" text-anchor="middle">7</text><text x="104.0" y="214.6" font-size="3.4" fill="#104e5c" style="stroke:none" text-anchor="middle">8</text><text x="114.2" y="214.6" font-size="3.4" fill="#104e5c" style="stroke:none" text-anchor="middle">9</text><text x="124.4" y="214.6" font-size="3.4" fill="#104e5c" style="stroke:none" text-anchor="middle">10</text><text x="134.6" y="214.6" font-size="3.4" fill="#104e5c" style="stroke:none" text-anchor="middle">11</text><text x="144.8" y="214.6" font-size="3.4" fill="#104e5c" style="stroke:none" text-anchor="middle">12</text><text x="155.0" y="214.6" font-size="3.4" fill="#104e5c" style="stroke:none" text-anchor="middle">13</text><text x="165.2" y="214.6" font-size="3.4" fill="#104e5c" style="stroke:none" text-anchor="middle">14</text><path d="M65.2,202.3 L68.2,204.6 L66.4,204.4 Z" fill="#0c3440"/></g>
<g filter="url(#tumf)"><ellipse cx="40.3" cy="119.6" rx="7.9" ry="5.6" transform="rotate(-5 40.3 119.6)" fill="url(#tumL)"/><ellipse cx="40.2" cy="129.6" rx="7.0" ry="5.2" transform="rotate(5 40.2 129.6)" fill="url(#tumL)"/><ellipse cx="44.5" cy="124.5" rx="3.5" ry="4" transform="rotate(0 44.5 124.5)" fill="url(#tumL)"/><path d="M70.50,111.10 C73.42,111.10 76.80,115.71 76.80,122.43 C76.80,128.61 73.98,131.70 70.50,131.70 C67.02,131.70 64.20,128.61 64.20,122.43 C64.20,115.71 67.58,111.10 70.50,111.10Z" transform="rotate(3 70.5 121.4)" fill="url(#tumO)"/><path d="M103.00,114.10 C106.94,114.10 110.00,117.77 110.00,123.12 C110.00,128.04 106.87,130.50 103.00,130.50 C99.13,130.50 96.00,128.04 96.00,123.12 C96.00,117.77 99.06,114.10 103.00,114.10Z" transform="rotate(0 103.0 122.3)" fill="url(#tumO)"/><path d="M130.60,117.10 C134.78,117.10 137.60,120.55 137.60,125.57 C137.60,130.19 134.47,132.50 130.60,132.50 C126.73,132.50 123.60,130.19 123.60,125.57 C123.60,120.55 126.42,117.10 130.60,117.10Z" transform="rotate(-8 130.6 124.8)" fill="url(#tumO)"/><path d="M156.00,118.00 C160.18,118.00 163.00,121.13 163.00,125.70 C163.00,129.90 159.87,132.00 156.00,132.00 C152.13,132.00 149.00,129.90 149.00,125.70 C149.00,121.13 151.82,118.00 156.00,118.00Z" transform="rotate(10 156.0 125.0)" fill="url(#tumO)"/><ellipse cx="39.6" cy="158.3" rx="7.0" ry="5.6" transform="rotate(8 39.6 158.3)" fill="url(#tumL)"/><path d="M70.50,151.60 C72.18,151.60 75.10,154.73 75.10,159.30 C75.10,163.50 73.04,165.60 70.50,165.60 C67.96,165.60 65.90,163.50 65.90,159.30 C65.90,154.73 68.82,151.60 70.50,151.60Z" transform="rotate(-12 70.5 158.6)" fill="url(#tumO)"/><path d="M99.30,153.20 C102.76,153.20 105.10,155.98 105.10,160.02 C105.10,163.74 102.50,165.60 99.30,165.60 C96.10,165.60 93.50,163.74 93.50,160.02 C93.50,155.98 95.84,153.20 99.30,153.20Z" transform="rotate(0 99.3 159.4)" fill="url(#tumL)"/><path d="M128.90,152.20 C132.55,152.20 134.40,154.62 134.40,158.14 C134.40,161.38 131.94,163.00 128.90,163.00 C125.86,163.00 123.40,161.38 123.40,158.14 C123.40,154.62 125.25,152.20 128.90,152.20Z" transform="rotate(0 128.9 157.6)" fill="url(#tumO)"/><ellipse cx="153.3" cy="160.0" rx="3.6" ry="5.2" transform="rotate(0 153.3 160.0)" fill="url(#tumO)"/><ellipse cx="156.3" cy="156.0" rx="2.8" ry="4.5" transform="rotate(10 156.3 156.0)" fill="url(#tumO)"/><ellipse cx="37.6" cy="189.8" rx="5.0" ry="5.0" transform="rotate(0 37.6 189.8)" fill="url(#tumO)"/><path d="M69.50,185.80 C71.22,185.80 73.20,188.58 73.20,192.62 C73.20,196.34 71.54,198.20 69.50,198.20 C67.46,198.20 65.80,196.34 65.80,192.62 C65.80,188.58 67.78,185.80 69.50,185.80Z" transform="rotate(-5 69.5 192.0)" fill="url(#tumO)"/><path d="M101.20,186.30 C103.43,186.30 105.40,188.85 105.40,192.57 C105.40,195.99 103.52,197.70 101.20,197.70 C98.88,197.70 97.00,195.99 97.00,192.57 C97.00,188.85 98.97,186.30 101.20,186.30Z" transform="rotate(15 101.2 192.0)" fill="url(#tumO)"/><ellipse cx="130.8" cy="188.5" rx="2.8" ry="4.6" transform="rotate(12 130.8 188.5)" fill="url(#tumY)"/><ellipse cx="153.6" cy="190.1" rx="2.2" ry="3.0" transform="rotate(0 153.6 190.1)" fill="url(#tumY)"/></g>
<text x="215.80" y="97.40" font-size="5.2" text-anchor="start" font-weight="bold" fill="#1e1e1e" >C</text>
<line x1="292.30" y1="120.10" x2="292.30" y2="207.95" stroke="#222" stroke-width="1.0" />
<line x1="291.85" y1="207.50" x2="346.60" y2="207.50" stroke="#222" stroke-width="1.0" />
<line x1="289.80" y1="207.50" x2="292.30" y2="207.50" stroke="#222" stroke-width="1.0" />
<text x="287.90" y="209.80" font-size="5.0" text-anchor="end" fill="#1e1e1e" >0.0</text>
<line x1="289.80" y1="178.50" x2="292.30" y2="178.50" stroke="#222" stroke-width="1.0" />
<text x="287.90" y="180.80" font-size="5.0" text-anchor="end" fill="#1e1e1e" >0.5</text>
<line x1="289.80" y1="149.50" x2="292.30" y2="149.50" stroke="#222" stroke-width="1.0" />
<text x="287.90" y="151.80" font-size="5.0" text-anchor="end" fill="#1e1e1e" >1.0</text>
<line x1="289.80" y1="120.50" x2="292.30" y2="120.50" stroke="#222" stroke-width="1.0" />
<text x="287.90" y="122.80" font-size="5.0" text-anchor="end" fill="#1e1e1e" >1.5</text>
<line x1="303.10" y1="207.50" x2="303.10" y2="209.50" stroke="#222" stroke-width="1.0" />
<line x1="319.70" y1="207.50" x2="319.70" y2="209.50" stroke="#222" stroke-width="1.0" />
<line x1="336.00" y1="207.50" x2="336.00" y2="209.50" stroke="#222" stroke-width="1.0" />
<text transform="translate(276.20,162.10) rotate(-90)" x="0" y="0" font-size="6.0" text-anchor="middle" fill="#1e1e1e">Tumor Weight(g)</text>
<text transform="translate(305.60,215.00) rotate(-45)" x="0" y="0" font-size="5.5" text-anchor="end" fill="#1e1e1e">Vehicle</text>
<text transform="translate(323.80,215.00) rotate(-45)" x="0" y="0" font-size="5.5" text-anchor="end" fill="#1e1e1e">Cisplatin</text>
<text transform="translate(339.00,215.00) rotate(-45)" x="0" y="0" font-size="5.5" text-anchor="end" fill="#1e1e1e">ZSW</text>
<polyline points="303.5,124.1 303.5,113.9 335.2,113.9 335.2,124.1" fill="none" stroke="#333" stroke-width="0.9"/>
<polyline points="302.8,132.4 302.8,127.4 318.4,127.4 318.4,170.2" fill="none" stroke="#333" stroke-width="0.9"/>
<polyline points="319.5,170.2 319.5,127.4 336.2,127.4 336.2,181.5" fill="none" stroke="#333" stroke-width="0.9"/>
<text x="319.00" y="113.60" font-size="4.8" text-anchor="middle" fill="#333" >***</text>
<text x="310.00" y="128.40" font-size="4.8" text-anchor="middle" fill="#333" >***</text>
<text x="326.20" y="128.40" font-size="4.8" text-anchor="middle" fill="#333" >***</text>
<line x1="303.30" y1="141.50" x2="303.30" y2="161.60" stroke="#00e812" stroke-width="0.9" />
<line x1="301.00" y1="141.50" x2="305.60" y2="141.50" stroke="#00e812" stroke-width="0.9" />
<line x1="301.00" y1="161.60" x2="305.60" y2="161.60" stroke="#00e812" stroke-width="0.9" />
<line x1="297.90" y1="151.50" x2="308.70" y2="151.50" stroke="#00e812" stroke-width="0.9" />
<circle cx="303.1" cy="137.2" r="1.4" fill="#00e812"/>
<circle cx="302.9" cy="144.1" r="1.4" fill="#00e812"/>
<circle cx="302.9" cy="155.8" r="1.4" fill="#00e812"/>
<circle cx="300.6" cy="160.7" r="1.4" fill="#00e812"/>
<circle cx="303.2" cy="161.4" r="1.4" fill="#00e812"/>
<circle cx="305.8" cy="159.1" r="1.4" fill="#00e812"/>
<line x1="319.80" y1="174.80" x2="319.80" y2="177.80" stroke="#3e6cfa" stroke-width="0.9" />
<line x1="317.80" y1="174.80" x2="321.80" y2="174.80" stroke="#3e6cfa" stroke-width="0.9" />
<line x1="317.80" y1="177.80" x2="321.80" y2="177.80" stroke="#3e6cfa" stroke-width="0.9" />
<line x1="314.60" y1="176.20" x2="325.00" y2="176.20" stroke="#3e6cfa" stroke-width="0.9" />
<polygon points="314.7,174.3 317.7,174.3 316.2,176.9" fill="#3e6cfa"/>
<polygon points="317.4,174.8 320.4,174.8 318.9,177.4" fill="#3e6cfa"/>
<polygon points="320.3,174.3 323.3,174.3 321.8,176.9" fill="#3e6cfa"/>
<polygon points="322.5,174.70000000000002 325.5,174.70000000000002 324.0,177.3" fill="#3e6cfa"/>
<polygon points="318.3,178.5 321.3,178.5 319.8,181.1" fill="#3e6cfa"/>
<line x1="335.80" y1="188.50" x2="335.80" y2="198.80" stroke="#fb4030" stroke-width="0.9" />
<line x1="333.80" y1="188.50" x2="337.80" y2="188.50" stroke="#fb4030" stroke-width="0.9" />
<line x1="333.80" y1="198.80" x2="337.80" y2="198.80" stroke="#fb4030" stroke-width="0.9" />
<line x1="330.40" y1="193.70" x2="341.20" y2="193.70" stroke="#fb4030" stroke-width="0.9" />
<polygon points="334.40000000000003,186.5 336.8,186.5 335.6,184.3" fill="#fb4030"/>
<polygon points="331.0,194.4 333.4,194.4 332.2,192.20000000000002" fill="#fb4030"/>
<polygon points="337.40000000000003,194.6 339.8,194.6 338.6,192.4" fill="#fb4030"/>
<polygon points="332.6,198.6 335.0,198.6 333.8,196.4" fill="#fb4030"/>
<polygon points="336.3,198.6 338.7,198.6 337.5,196.4" fill="#fb4030"/>
<text x="10.50" y="240.20" font-size="5.2" text-anchor="start" font-weight="bold" fill="#1e1e1e" >D</text>
<line x1="43.10" y1="244.20" x2="43.10" y2="337.45" stroke="#222" stroke-width="1.0" />
<line x1="42.65" y1="337.00" x2="182.15" y2="337.00" stroke="#222" stroke-width="1.0" />
<line x1="39.10" y1="337.00" x2="43.10" y2="337.00" stroke="#222" stroke-width="1.0" />
<text transform="translate(37.00,339.10) scale(0.9,1)" font-size="5.6" text-anchor="end" fill="#1e1e1e">0</text>
<line x1="39.10" y1="313.90" x2="43.10" y2="313.90" stroke="#222" stroke-width="1.0" />
<text transform="translate(37.00,316.00) scale(0.9,1)" font-size="5.6" text-anchor="end" fill="#1e1e1e">300</text>
<line x1="39.10" y1="290.80" x2="43.10" y2="290.80" stroke="#222" stroke-width="1.0" />
<text transform="translate(37.00,292.90) scale(0.9,1)" font-size="5.6" text-anchor="end" fill="#1e1e1e">600</text>
<line x1="39.10" y1="267.70" x2="43.10" y2="267.70" stroke="#222" stroke-width="1.0" />
<text transform="translate(37.00,269.80) scale(0.9,1)" font-size="5.6" text-anchor="end" fill="#1e1e1e">900</text>
<line x1="39.10" y1="244.60" x2="43.10" y2="244.60" stroke="#222" stroke-width="1.0" />
<text transform="translate(37.00,246.70) scale(0.9,1)" font-size="5.6" text-anchor="end" fill="#1e1e1e">1200</text>
<line x1="43.10" y1="337.00" x2="43.10" y2="340.00" stroke="#222" stroke-width="1.0" />
<text transform="translate(42.60,346.00) scale(0.9,1)" font-size="5.6" text-anchor="middle" fill="#1e1e1e">0</text>
<line x1="55.70" y1="337.00" x2="55.70" y2="340.00" stroke="#222" stroke-width="1.0" />
<text transform="translate(55.20,346.00) scale(0.9,1)" font-size="5.6" text-anchor="middle" fill="#1e1e1e">2</text>
<line x1="68.30" y1="337.00" x2="68.30" y2="340.00" stroke="#222" stroke-width="1.0" />
<text transform="translate(67.80,346.00) scale(0.9,1)" font-size="5.6" text-anchor="middle" fill="#1e1e1e">4</text>
<line x1="80.90" y1="337.00" x2="80.90" y2="340.00" stroke="#222" stroke-width="1.0" />
<text transform="translate(80.40,346.00) scale(0.9,1)" font-size="5.6" text-anchor="middle" fill="#1e1e1e">6</text>
<line x1="93.50" y1="337.00" x2="93.50" y2="340.00" stroke="#222" stroke-width="1.0" />
<text transform="translate(93.00,346.00) scale(0.9,1)" font-size="5.6" text-anchor="middle" fill="#1e1e1e">8</text>
<line x1="106.10" y1="337.00" x2="106.10" y2="340.00" stroke="#222" stroke-width="1.0" />
<text transform="translate(105.60,346.00) scale(0.9,1)" font-size="5.6" text-anchor="middle" fill="#1e1e1e">10</text>
<line x1="118.70" y1="337.00" x2="118.70" y2="340.00" stroke="#222" stroke-width="1.0" />
<text transform="translate(118.20,346.00) scale(0.9,1)" font-size="5.6" text-anchor="middle" fill="#1e1e1e">12</text>
<line x1="131.30" y1="337.00" x2="131.30" y2="340.00" stroke="#222" stroke-width="1.0" />
<text transform="translate(130.80,346.00) scale(0.9,1)" font-size="5.6" text-anchor="middle" fill="#1e1e1e">14</text>
<line x1="143.90" y1="337.00" x2="143.90" y2="340.00" stroke="#222" stroke-width="1.0" />
<text transform="translate(143.40,346.00) scale(0.9,1)" font-size="5.6" text-anchor="middle" fill="#1e1e1e">16</text>
<line x1="156.50" y1="337.00" x2="156.50" y2="340.00" stroke="#222" stroke-width="1.0" />
<text transform="translate(156.00,346.00) scale(0.9,1)" font-size="5.6" text-anchor="middle" fill="#1e1e1e">18</text>
<line x1="169.10" y1="337.00" x2="169.10" y2="340.00" stroke="#222" stroke-width="1.0" />
<text transform="translate(168.60,346.00) scale(0.9,1)" font-size="5.6" text-anchor="middle" fill="#1e1e1e">20</text>
<line x1="181.70" y1="337.00" x2="181.70" y2="340.00" stroke="#222" stroke-width="1.0" />
<text transform="translate(181.20,346.00) scale(0.9,1)" font-size="5.6" text-anchor="middle" fill="#1e1e1e">22</text>
<text x="117.90" y="356.30" font-size="5.4" text-anchor="middle" fill="#1e1e1e" >Days of Treatment</text>
<text transform="translate(23.0,287.2) rotate(-90)" font-size="5.65" text-anchor="middle" fill="#1e1e1e">Tumor Volume (mm<tspan font-size="3.4" dy="-2">3</tspan><tspan dy="2">)</tspan></text>
<polyline points="49.40,329.69 62.00,329.69 74.60,329.61 87.20,329.53 99.80,329.15 112.40,328.14 125.00,326.84 137.60,325.30 150.20,324.22 162.80,322.29 175.40,319.44" fill="none" stroke="#fb4030" stroke-width="0.9"/>
<polygon points="47.80,330.99 51.00,330.99 49.40,328.08" fill="#fb4030"/>
<polygon points="60.40,330.99 63.60,330.99 62.00,328.08" fill="#fb4030"/>
<polygon points="73.00,330.91 76.20,330.91 74.60,328.01" fill="#fb4030"/>
<polygon points="85.60,330.83 88.80,330.83 87.20,327.93" fill="#fb4030"/>
<polygon points="98.20,330.45 101.40,330.45 99.80,327.55" fill="#fb4030"/>
<line x1="112.40" y1="327.22" x2="112.40" y2="329.07" stroke="#fb4030" stroke-width="0.8" />
<line x1="110.60" y1="327.22" x2="114.20" y2="327.22" stroke="#fb4030" stroke-width="0.8" />
<line x1="110.60" y1="329.07" x2="114.20" y2="329.07" stroke="#fb4030" stroke-width="0.8" />
<polygon points="110.80,329.44 114.00,329.44 112.40,326.54" fill="#fb4030"/>
<line x1="125.00" y1="325.30" x2="125.00" y2="328.38" stroke="#fb4030" stroke-width="0.8" />
<line x1="123.20" y1="325.30" x2="126.80" y2="325.30" stroke="#fb4030" stroke-width="0.8" />
<line x1="123.20" y1="328.38" x2="126.80" y2="328.38" stroke="#fb4030" stroke-width="0.8" />
<polygon points="123.40,328.14 126.60,328.14 125.00,325.24" fill="#fb4030"/>
<line x1="137.60" y1="322.99" x2="137.60" y2="327.61" stroke="#fb4030" stroke-width="0.8" />
<line x1="135.80" y1="322.99" x2="139.40" y2="322.99" stroke="#fb4030" stroke-width="0.8" />
<line x1="135.80" y1="327.61" x2="139.40" y2="327.61" stroke="#fb4030" stroke-width="0.8" />
<polygon points="136.00,326.60 139.20,326.60 137.60,323.70" fill="#fb4030"/>
<line x1="150.20" y1="321.14" x2="150.20" y2="327.30" stroke="#fb4030" stroke-width="0.8" />
<line x1="148.40" y1="321.14" x2="152.00" y2="321.14" stroke="#fb4030" stroke-width="0.8" />
<line x1="148.40" y1="327.30" x2="152.00" y2="327.30" stroke="#fb4030" stroke-width="0.8" />
<polygon points="148.60,325.52 151.80,325.52 150.20,322.62" fill="#fb4030"/>
<line x1="162.80" y1="317.90" x2="162.80" y2="326.68" stroke="#fb4030" stroke-width="0.8" />
<line x1="161.00" y1="317.90" x2="164.60" y2="317.90" stroke="#fb4030" stroke-width="0.8" />
<line x1="161.00" y1="326.68" x2="164.60" y2="326.68" stroke="#fb4030" stroke-width="0.8" />
<polygon points="161.20,323.59 164.40,323.59 162.80,320.69" fill="#fb4030"/>
<line x1="175.40" y1="314.21" x2="175.40" y2="324.68" stroke="#fb4030" stroke-width="0.8" />
<line x1="173.60" y1="314.21" x2="177.20" y2="314.21" stroke="#fb4030" stroke-width="0.8" />
<line x1="173.60" y1="324.68" x2="177.20" y2="324.68" stroke="#fb4030" stroke-width="0.8" />
<polygon points="173.80,320.74 177.00,320.74 175.40,317.84" fill="#fb4030"/>
<polyline points="49.40,329.69 62.00,329.69 74.60,329.61 87.20,329.53 99.80,329.07 112.40,327.38 125.00,323.52 137.60,320.52 150.20,315.82 162.80,309.90 175.40,299.27" fill="none" stroke="#3e6cfa" stroke-width="0.9"/>
<rect x="47.90" y="328.19" width="3" height="3" fill="#3e6cfa"/>
<rect x="60.50" y="328.19" width="3" height="3" fill="#3e6cfa"/>
<rect x="73.10" y="328.11" width="3" height="3" fill="#3e6cfa"/>
<rect x="85.70" y="328.03" width="3" height="3" fill="#3e6cfa"/>
<rect x="98.30" y="327.57" width="3" height="3" fill="#3e6cfa"/>
<line x1="112.40" y1="326.45" x2="112.40" y2="328.30" stroke="#3e6cfa" stroke-width="0.8" />
<line x1="110.60" y1="326.45" x2="114.20" y2="326.45" stroke="#3e6cfa" stroke-width="0.8" />
<line x1="110.60" y1="328.30" x2="114.20" y2="328.30" stroke="#3e6cfa" stroke-width="0.8" />
<rect x="110.90" y="325.88" width="3" height="3" fill="#3e6cfa"/>
<line x1="125.00" y1="321.99" x2="125.00" y2="325.06" stroke="#3e6cfa" stroke-width="0.8" />
<line x1="123.20" y1="321.99" x2="126.80" y2="321.99" stroke="#3e6cfa" stroke-width="0.8" />
<line x1="123.20" y1="325.06" x2="126.80" y2="325.06" stroke="#3e6cfa" stroke-width="0.8" />
<rect x="123.50" y="322.02" width="3" height="3" fill="#3e6cfa"/>
<line x1="137.60" y1="318.21" x2="137.60" y2="322.83" stroke="#3e6cfa" stroke-width="0.8" />
<line x1="135.80" y1="318.21" x2="139.40" y2="318.21" stroke="#3e6cfa" stroke-width="0.8" />
<line x1="135.80" y1="322.83" x2="139.40" y2="322.83" stroke="#3e6cfa" stroke-width="0.8" />
<rect x="136.10" y="319.02" width="3" height="3" fill="#3e6cfa"/>
<line x1="150.20" y1="312.75" x2="150.20" y2="318.90" stroke="#3e6cfa" stroke-width="0.8" />
<line x1="148.40" y1="312.75" x2="152.00" y2="312.75" stroke="#3e6cfa" stroke-width="0.8" />
<line x1="148.40" y1="318.90" x2="152.00" y2="318.90" stroke="#3e6cfa" stroke-width="0.8" />
<rect x="148.70" y="314.32" width="3" height="3" fill="#3e6cfa"/>
<line x1="162.80" y1="306.82" x2="162.80" y2="312.98" stroke="#3e6cfa" stroke-width="0.8" />
<line x1="161.00" y1="306.82" x2="164.60" y2="306.82" stroke="#3e6cfa" stroke-width="0.8" />
<line x1="161.00" y1="312.98" x2="164.60" y2="312.98" stroke="#3e6cfa" stroke-width="0.8" />
<rect x="161.30" y="308.40" width="3" height="3" fill="#3e6cfa"/>
<line x1="175.40" y1="296.42" x2="175.40" y2="302.12" stroke="#3e6cfa" stroke-width="0.8" />
<line x1="173.60" y1="296.42" x2="177.20" y2="296.42" stroke="#3e6cfa" stroke-width="0.8" />
<line x1="173.60" y1="302.12" x2="177.20" y2="302.12" stroke="#3e6cfa" stroke-width="0.8" />
<rect x="173.90" y="297.77" width="3" height="3" fill="#3e6cfa"/>
<polyline points="49.40,329.69 62.00,329.69 74.60,329.61 87.20,329.53 99.80,328.92 112.40,325.83 125.00,320.83 137.60,315.13 150.20,306.51 162.80,290.03 175.40,265.77" fill="none" stroke="#00e812" stroke-width="0.9"/>
<circle cx="49.40" cy="329.69" r="1.95" fill="#00e812"/>
<circle cx="62.00" cy="329.69" r="1.95" fill="#00e812"/>
<circle cx="74.60" cy="329.61" r="1.95" fill="#00e812"/>
<circle cx="87.20" cy="329.53" r="1.95" fill="#00e812"/>
<circle cx="99.80" cy="328.92" r="1.95" fill="#00e812"/>
<line x1="112.40" y1="324.68" x2="112.40" y2="326.99" stroke="#00e812" stroke-width="0.8" />
<line x1="110.60" y1="324.68" x2="114.20" y2="324.68" stroke="#00e812" stroke-width="0.8" />
<line x1="110.60" y1="326.99" x2="114.20" y2="326.99" stroke="#00e812" stroke-width="0.8" />
<circle cx="112.40" cy="325.83" r="1.95" fill="#00e812"/>
<line x1="125.00" y1="318.52" x2="125.00" y2="323.14" stroke="#00e812" stroke-width="0.8" />
<line x1="123.20" y1="318.52" x2="126.80" y2="318.52" stroke="#00e812" stroke-width="0.8" />
<line x1="123.20" y1="323.14" x2="126.80" y2="323.14" stroke="#00e812" stroke-width="0.8" />
<circle cx="125.00" cy="320.83" r="1.95" fill="#00e812"/>
<line x1="137.60" y1="311.67" x2="137.60" y2="318.60" stroke="#00e812" stroke-width="0.8" />
<line x1="135.80" y1="311.67" x2="139.40" y2="311.67" stroke="#00e812" stroke-width="0.8" />
<line x1="135.80" y1="318.60" x2="139.40" y2="318.60" stroke="#00e812" stroke-width="0.8" />
<circle cx="137.60" cy="315.13" r="1.95" fill="#00e812"/>
<line x1="150.20" y1="301.12" x2="150.20" y2="311.90" stroke="#00e812" stroke-width="0.8" />
<line x1="148.40" y1="301.12" x2="152.00" y2="301.12" stroke="#00e812" stroke-width="0.8" />
<line x1="148.40" y1="311.90" x2="152.00" y2="311.90" stroke="#00e812" stroke-width="0.8" />
<circle cx="150.20" cy="306.51" r="1.95" fill="#00e812"/>
<line x1="162.80" y1="281.18" x2="162.80" y2="298.88" stroke="#00e812" stroke-width="0.8" />
<line x1="161.00" y1="281.18" x2="164.60" y2="281.18" stroke="#00e812" stroke-width="0.8" />
<line x1="161.00" y1="298.88" x2="164.60" y2="298.88" stroke="#00e812" stroke-width="0.8" />
<circle cx="162.80" cy="290.03" r="1.95" fill="#00e812"/>
<line x1="175.40" y1="253.07" x2="175.40" y2="278.48" stroke="#00e812" stroke-width="0.8" />
<line x1="173.60" y1="253.07" x2="177.20" y2="253.07" stroke="#00e812" stroke-width="0.8" />
<line x1="173.60" y1="278.48" x2="177.20" y2="278.48" stroke="#00e812" stroke-width="0.8" />
<circle cx="175.40" cy="265.77" r="1.95" fill="#00e812"/>
<line x1="59.60" y1="254.50" x2="70.20" y2="254.50" stroke="#00e812" stroke-width="0.75" />
<circle cx="65" cy="254.5" r="2.0" fill="#00e812"/>
<text x="75.60" y="256.50" font-size="5.4" text-anchor="start" fill="#1e1e1e" >Vehicle</text>
<line x1="59.60" y1="267.60" x2="70.20" y2="267.60" stroke="#3e6cfa" stroke-width="0.75" />
<rect x="63.3" y="265.90000000000003" width="3.4" height="3.4" fill="#3e6cfa"/>
<text x="75.60" y="269.60" font-size="5.4" text-anchor="start" fill="#1e1e1e" >Cisplatin</text>
<line x1="59.60" y1="280.30" x2="70.20" y2="280.30" stroke="#fb4030" stroke-width="0.75" />
<polygon points="63.2,281.7 66.8,281.7 65,278.5" fill="#fb4030"/>
<text x="75.60" y="282.30" font-size="5.4" text-anchor="start" fill="#1e1e1e" >ZSW</text>
<polyline points="94.2,254.5 112.2,254.5 112.2,280.4 89.0,280.4" fill="none" stroke="#222" stroke-width="0.9"/>
<polyline points="102.2,254.5 102.2,267.6 100.6,267.6" fill="none" stroke="#222" stroke-width="0.9"/>
<text x="105.20" y="262.80" font-size="4.6" text-anchor="middle" fill="#1e1e1e" >*</text>
<text x="117.40" y="263.40" font-size="4.6" text-anchor="middle" fill="#1e1e1e" >***</text>
<text x="220.00" y="239.60" font-size="5.2" text-anchor="start" font-weight="bold" fill="#1e1e1e" >E</text>
<line x1="249.50" y1="244.70" x2="249.50" y2="339.15" stroke="#222" stroke-width="1.0" />
<line x1="249.05" y1="338.70" x2="390.75" y2="338.70" stroke="#222" stroke-width="1.0" />
<line x1="246.00" y1="338.70" x2="249.50" y2="338.70" stroke="#222" stroke-width="1.0" />
<text transform="translate(245.40,340.80) scale(0.88,1)" font-size="5.6" text-anchor="end" fill="#1e1e1e">0</text>
<line x1="246.00" y1="323.10" x2="249.50" y2="323.10" stroke="#222" stroke-width="1.0" />
<text transform="translate(245.40,325.20) scale(0.88,1)" font-size="5.6" text-anchor="end" fill="#1e1e1e">5</text>
<line x1="246.00" y1="307.50" x2="249.50" y2="307.50" stroke="#222" stroke-width="1.0" />
<text transform="translate(245.40,309.60) scale(0.88,1)" font-size="5.6" text-anchor="end" fill="#1e1e1e">10</text>
<line x1="246.00" y1="291.90" x2="249.50" y2="291.90" stroke="#222" stroke-width="1.0" />
<text transform="translate(245.40,294.00) scale(0.88,1)" font-size="5.6" text-anchor="end" fill="#1e1e1e">15</text>
<line x1="246.00" y1="276.30" x2="249.50" y2="276.30" stroke="#222" stroke-width="1.0" />
<text transform="translate(245.40,278.40) scale(0.88,1)" font-size="5.6" text-anchor="end" fill="#1e1e1e">20</text>
<line x1="246.00" y1="260.70" x2="249.50" y2="260.70" stroke="#222" stroke-width="1.0" />
<text transform="translate(245.40,262.80) scale(0.88,1)" font-size="5.6" text-anchor="end" fill="#1e1e1e">25</text>
<line x1="246.00" y1="245.10" x2="249.50" y2="245.10" stroke="#222" stroke-width="1.0" />
<text transform="translate(245.40,247.20) scale(0.88,1)" font-size="5.6" text-anchor="end" fill="#1e1e1e">30</text>
<line x1="249.50" y1="338.70" x2="249.50" y2="341.70" stroke="#222" stroke-width="1.0" />
<text transform="translate(249.20,347.30) scale(0.9,1)" font-size="5.6" text-anchor="middle" fill="#1e1e1e">0</text>
<line x1="262.30" y1="338.70" x2="262.30" y2="341.70" stroke="#222" stroke-width="1.0" />
<text transform="translate(262.00,347.30) scale(0.9,1)" font-size="5.6" text-anchor="middle" fill="#1e1e1e">2</text>
<line x1="275.10" y1="338.70" x2="275.10" y2="341.70" stroke="#222" stroke-width="1.0" />
<text transform="translate(274.80,347.30) scale(0.9,1)" font-size="5.6" text-anchor="middle" fill="#1e1e1e">4</text>
<line x1="287.90" y1="338.70" x2="287.90" y2="341.70" stroke="#222" stroke-width="1.0" />
<text transform="translate(287.60,347.30) scale(0.9,1)" font-size="5.6" text-anchor="middle" fill="#1e1e1e">6</text>
<line x1="300.70" y1="338.70" x2="300.70" y2="341.70" stroke="#222" stroke-width="1.0" />
<text transform="translate(300.40,347.30) scale(0.9,1)" font-size="5.6" text-anchor="middle" fill="#1e1e1e">8</text>
<line x1="313.50" y1="338.70" x2="313.50" y2="341.70" stroke="#222" stroke-width="1.0" />
<text transform="translate(313.20,347.30) scale(0.9,1)" font-size="5.6" text-anchor="middle" fill="#1e1e1e">10</text>
<line x1="326.30" y1="338.70" x2="326.30" y2="341.70" stroke="#222" stroke-width="1.0" />
<text transform="translate(326.00,347.30) scale(0.9,1)" font-size="5.6" text-anchor="middle" fill="#1e1e1e">12</text>
<line x1="339.10" y1="338.70" x2="339.10" y2="341.70" stroke="#222" stroke-width="1.0" />
<text transform="translate(338.80,347.30) scale(0.9,1)" font-size="5.6" text-anchor="middle" fill="#1e1e1e">14</text>
<line x1="351.90" y1="338.70" x2="351.90" y2="341.70" stroke="#222" stroke-width="1.0" />
<text transform="translate(351.60,347.30) scale(0.9,1)" font-size="5.6" text-anchor="middle" fill="#1e1e1e">16</text>
<line x1="364.70" y1="338.70" x2="364.70" y2="341.70" stroke="#222" stroke-width="1.0" />
<text transform="translate(364.40,347.30) scale(0.9,1)" font-size="5.6" text-anchor="middle" fill="#1e1e1e">18</text>
<line x1="377.50" y1="338.70" x2="377.50" y2="341.70" stroke="#222" stroke-width="1.0" />
<text transform="translate(377.20,347.30) scale(0.9,1)" font-size="5.6" text-anchor="middle" fill="#1e1e1e">20</text>
<line x1="390.30" y1="338.70" x2="390.30" y2="341.70" stroke="#222" stroke-width="1.0" />
<text transform="translate(390.00,347.30) scale(0.9,1)" font-size="5.6" text-anchor="middle" fill="#1e1e1e">22</text>
<text x="322.20" y="358.30" font-size="5.4" text-anchor="middle" fill="#1e1e1e" >Days of Treatment</text>
<text transform="translate(226.20,287.70) rotate(-90)" x="0" y="0" font-size="5.9" text-anchor="middle" fill="#1e1e1e">Body Weight(g)</text>
<polyline points="255.90,277.55 268.70,277.55 281.50,277.24 294.30,276.61 307.10,276.30 319.90,275.99 332.70,275.68 345.50,275.68 358.30,275.36 371.10,275.05 383.90,274.74" fill="none" stroke="#3e6cfa" stroke-width="0.9"/>
<rect x="254.40" y="276.05" width="3" height="3" fill="#3e6cfa"/>
<rect x="267.20" y="276.05" width="3" height="3" fill="#3e6cfa"/>
<rect x="280.00" y="275.74" width="3" height="3" fill="#3e6cfa"/>
<rect x="292.80" y="275.11" width="3" height="3" fill="#3e6cfa"/>
<rect x="305.60" y="274.80" width="3" height="3" fill="#3e6cfa"/>
<rect x="318.40" y="274.49" width="3" height="3" fill="#3e6cfa"/>
<rect x="331.20" y="274.18" width="3" height="3" fill="#3e6cfa"/>
<rect x="344.00" y="274.18" width="3" height="3" fill="#3e6cfa"/>
<rect x="356.80" y="273.86" width="3" height="3" fill="#3e6cfa"/>
<rect x="369.60" y="273.55" width="3" height="3" fill="#3e6cfa"/>
<rect x="382.40" y="273.24" width="3" height="3" fill="#3e6cfa"/>
<polyline points="255.90,276.61 268.70,276.30 281.50,276.30 294.30,275.99 307.10,275.99 319.90,275.99 332.70,275.68 345.50,275.68 358.30,275.68 371.10,275.36 383.90,275.36" fill="none" stroke="#fb4030" stroke-width="0.9"/>
<polygon points="254.30,277.91 257.50,277.91 255.90,275.01" fill="#fb4030"/>
<polygon points="267.10,277.60 270.30,277.60 268.70,274.70" fill="#fb4030"/>
<polygon points="279.90,277.60 283.10,277.60 281.50,274.70" fill="#fb4030"/>
<polygon points="292.70,277.29 295.90,277.29 294.30,274.39" fill="#fb4030"/>
<polygon points="305.50,277.29 308.70,277.29 307.10,274.39" fill="#fb4030"/>
<polygon points="318.30,277.29 321.50,277.29 319.90,274.39" fill="#fb4030"/>
<polygon points="331.10,276.98 334.30,276.98 332.70,274.08" fill="#fb4030"/>
<polygon points="343.90,276.98 347.10,276.98 345.50,274.08" fill="#fb4030"/>
<polygon points="356.70,276.98 359.90,276.98 358.30,274.08" fill="#fb4030"/>
<polygon points="369.50,276.66 372.70,276.66 371.10,273.76" fill="#fb4030"/>
<polygon points="382.30,276.66 385.50,276.66 383.90,273.76" fill="#fb4030"/>
<polyline points="255.90,276.92 268.70,276.30 281.50,276.30 294.30,275.99 307.10,275.68 319.90,275.99 332.70,275.68 345.50,275.36 358.30,275.68 371.10,275.36 383.90,275.05" fill="none" stroke="#00e812" stroke-width="0.9"/>
<circle cx="255.90" cy="276.92" r="1.9" fill="#00e812"/>
<circle cx="268.70" cy="276.30" r="1.9" fill="#00e812"/>
<circle cx="281.50" cy="276.30" r="1.9" fill="#00e812"/>
<circle cx="294.30" cy="275.99" r="1.9" fill="#00e812"/>
<circle cx="307.10" cy="275.68" r="1.9" fill="#00e812"/>
<circle cx="319.90" cy="275.99" r="1.9" fill="#00e812"/>
<circle cx="332.70" cy="275.68" r="1.9" fill="#00e812"/>
<circle cx="345.50" cy="275.36" r="1.9" fill="#00e812"/>
<circle cx="358.30" cy="275.68" r="1.9" fill="#00e812"/>
<circle cx="371.10" cy="275.36" r="1.9" fill="#00e812"/>
<circle cx="383.90" cy="275.05" r="1.9" fill="#00e812"/>
<line x1="264.90" y1="257.80" x2="276.30" y2="257.80" stroke="#00e812" stroke-width="0.8" />
<circle cx="271.20" cy="257.8" r="2.2" fill="#00e812"/>
<text x="281.90" y="259.70" font-size="5.0" text-anchor="start" fill="#1e1e1e" >Vehicle</text>
<line x1="311.60" y1="257.80" x2="322.00" y2="257.80" stroke="#3e6cfa" stroke-width="0.8" />
<rect x="315.60" y="255.8" width="4.0" height="4.0" fill="#3e6cfa"/>
<text x="325.40" y="259.70" font-size="5.0" text-anchor="start" fill="#1e1e1e" >Cisplatin</text>
<line x1="357.40" y1="257.80" x2="367.80" y2="257.80" stroke="#fb4030" stroke-width="0.8" />
<polygon points="361.90,259.5 365.90,259.5 363.90,255.70000000000002" fill="#fb4030"/>
<text x="372.70" y="259.70" font-size="5.0" text-anchor="start" fill="#1e1e1e" >ZSW</text>
<text x="10.00" y="375.20" font-size="5.2" text-anchor="start" font-weight="bold" fill="#1e1e1e" >F</text>
<text x="68.40" y="381.70" font-size="5.8" text-anchor="middle" fill="#1e1e1e" >Heart</text>
<text x="123.90" y="381.70" font-size="5.8" text-anchor="middle" fill="#1e1e1e" >Liver</text>
<text x="179.00" y="381.70" font-size="5.8" text-anchor="middle" fill="#1e1e1e" >Spleen</text>
<text x="234.60" y="381.70" font-size="5.8" text-anchor="middle" fill="#1e1e1e" >Lung</text>
<text x="289.90" y="381.70" font-size="5.8" text-anchor="middle" fill="#1e1e1e" >Kidney</text>
<text x="345.20" y="381.70" font-size="5.8" text-anchor="middle" fill="#1e1e1e" >Ki67</text>
<text x="35.30" y="417.80" font-size="6.0" text-anchor="middle" fill="#1e1e1e" >Vehicle</text>
<text x="35.30" y="467.10" font-size="6.0" text-anchor="middle" fill="#1e1e1e" >Cisplatin</text>
<text x="36.20" y="526.90" font-size="6.0" text-anchor="middle" fill="#1e1e1e" >ZSW</text>
<g clip-path="url(#clip00)">
<rect x="48" y="389.5" width="48" height="47.8" filter="url(#n_heart0)"/>
<g><polygon points="50.46,403.51 51.20,403.18 52.20,402.78 53.37,402.29 54.67,401.72 56.07,401.10 57.50,400.47 58.95,399.84 60.36,399.23 61.79,398.61 63.32,397.92 64.91,397.22 66.50,396.51 68.06,395.78 69.57,395.12 70.99,394.56 72.30,394.14 73.52,393.84 74.71,393.63 75.86,393.50 76.97,393.44 78.04,393.43 79.06,393.46 80.02,393.51 80.90,393.58 81.66,393.66 82.31,393.79 82.88,393.95 83.42,394.14 83.94,394.36 84.47,394.60 85.01,394.85 85.57,395.09 86.06,395.31 86.49,395.53 86.92,395.78 87.36,396.04 87.84,396.32 88.37,396.60 88.98,396.88 89.67,397.13 90.46,397.36 91.36,397.58 92.32,397.79 93.29,397.98 94.23,398.16 95.07,398.32 95.78,398.46 96.29,398.56 96.71,396.44 96.19,396.34 95.47,396.20 94.63,396.04 93.71,395.87 92.76,395.67 91.85,395.47 91.01,395.27 90.33,395.07 89.79,394.88 89.32,394.66 88.88,394.43 88.45,394.18 88.01,393.92 87.53,393.64 87.00,393.36 86.43,393.11 85.89,392.88 85.36,392.64 84.81,392.38 84.20,392.13 83.54,391.89 82.80,391.69 81.99,391.52 81.10,391.42 80.15,391.36 79.15,391.30 78.06,391.27 76.90,391.28 75.68,391.35 74.40,391.49 73.07,391.72 71.70,392.06 70.26,392.53 68.74,393.13 67.17,393.81 65.57,394.56 64.01,395.38 62.48,396.22 61.02,397.02 59.64,397.77 58.29,398.50 56.91,399.28 55.54,400.08 54.23,400.86 53.01,401.60 51.94,402.28 51.04,402.87 50.34,403.29" fill="#dcd4d8" opacity="0.92"/><polygon points="64.33,402.82 64.94,402.78 65.75,402.72 66.70,402.61 67.74,402.47 68.84,402.34 69.96,402.23 71.04,402.16 72.06,402.16 73.08,402.23 74.17,402.35 75.31,402.51 76.47,402.64 77.62,402.78 78.74,402.92 79.81,403.08 80.78,403.23 81.65,403.38 82.45,403.55 83.19,403.72 83.89,403.91 84.56,404.10 85.22,404.31 85.88,404.54 86.54,404.77 87.17,405.01 87.78,405.27 88.39,405.56 88.99,405.85 89.60,406.16 90.22,406.46 90.84,406.76 91.47,407.04 92.12,407.31 92.78,407.57 93.45,407.82 94.10,408.06 94.70,408.28 95.24,408.48 95.69,408.64 96.03,408.77 96.97,406.23 96.62,406.11 96.16,405.94 95.63,405.74 95.03,405.53 94.40,405.29 93.75,405.05 93.12,404.80 92.53,404.56 91.97,404.31 91.40,404.04 90.81,403.74 90.19,403.43 89.55,403.12 88.88,402.81 88.18,402.51 87.46,402.23 86.76,401.98 86.06,401.75 85.35,401.52 84.61,401.31 83.84,401.10 83.02,400.91 82.15,400.73 81.22,400.57 80.21,400.41 79.12,400.25 77.95,400.10 76.75,399.96 75.52,399.87 74.29,399.88 73.09,399.93 71.94,400.04 70.80,400.23 69.65,400.51 68.52,400.85 67.43,401.23 66.44,401.61 65.56,401.99 64.83,402.34 64.27,402.58" fill="#dcd4d8" opacity="0.92"/><polygon points="56.03,413.12 56.66,412.99 57.51,412.88 58.51,412.71 59.62,412.51 60.79,412.29 61.97,412.06 63.12,411.84 64.18,411.65 65.19,411.47 66.21,411.29 67.23,411.12 68.25,410.95 69.27,410.78 70.27,410.63 71.24,410.44 72.20,410.26 73.15,410.08 74.07,409.90 74.98,409.73 75.87,409.56 76.73,409.42 77.58,409.31 78.41,409.22 79.24,409.18 80.06,409.17 80.88,409.19 81.70,409.23 82.50,409.31 83.30,409.40 84.09,409.53 84.87,409.68 85.63,409.85 86.38,410.06 87.13,410.32 87.89,410.62 88.65,410.95 89.42,411.29 90.17,411.63 90.92,411.94 91.64,412.22 92.34,412.45 93.03,412.67 93.71,412.86 94.35,413.04 94.93,413.20 95.45,413.34 95.88,413.45 96.21,413.54 96.79,411.46 96.44,411.36 96.00,411.25 95.49,411.11 94.92,410.96 94.30,410.79 93.65,410.60 93.00,410.40 92.36,410.18 91.72,409.94 91.03,409.65 90.30,409.32 89.52,408.97 88.72,408.63 87.88,408.29 87.03,408.00 86.17,407.75 85.31,407.56 84.46,407.40 83.60,407.26 82.73,407.16 81.85,407.08 80.97,407.03 80.07,407.01 79.16,407.02 78.25,407.07 77.33,407.16 76.41,407.29 75.50,407.44 74.58,407.60 73.66,407.78 72.74,407.96 71.80,408.14 70.83,408.32 69.85,408.52 68.85,408.77 67.85,409.03 66.84,409.30 65.83,409.58 64.82,409.86 63.82,410.15 62.77,410.47 61.65,410.83 60.51,411.21 59.38,411.60 58.32,411.99 57.37,412.35 56.57,412.68 55.97,412.88" fill="#dcd4d8" opacity="0.92"/><polygon points="49.83,422.12 50.61,421.93 51.65,421.76 52.88,421.53 54.25,421.26 55.72,420.95 57.22,420.62 58.73,420.28 60.18,419.94 61.63,419.57 63.11,419.15 64.63,418.70 66.16,418.25 67.68,417.77 69.19,417.33 70.68,416.96 72.15,416.66 73.61,416.45 75.07,416.29 76.53,416.17 78.00,416.10 79.47,416.07 80.95,416.08 82.45,416.11 83.95,416.18 85.54,416.29 87.28,416.48 89.08,416.72 90.87,416.99 92.57,417.26 94.10,417.51 95.40,417.72 96.37,417.87 96.63,416.13 95.67,415.99 94.38,415.78 92.85,415.52 91.13,415.25 89.32,414.98 87.49,414.74 85.70,414.55 84.05,414.42 82.50,414.36 80.98,414.32 79.46,414.32 77.94,414.35 76.42,414.42 74.91,414.54 73.38,414.71 71.85,414.94 70.30,415.24 68.73,415.64 67.17,416.09 65.62,416.58 64.11,417.13 62.63,417.67 61.20,418.19 59.82,418.66 58.41,419.11 56.94,419.57 55.47,420.03 54.05,420.48 52.72,420.91 51.53,421.31 50.54,421.66 49.77,421.88" fill="#dcd4d8" opacity="0.92"/><polygon points="61.94,424.61 62.79,424.48 63.93,424.27 65.26,423.96 66.72,423.61 68.23,423.24 69.71,422.90 71.08,422.62 72.26,422.43 73.31,422.32 74.30,422.24 75.23,422.16 76.13,422.11 77.00,422.10 77.87,422.13 78.73,422.20 79.59,422.30 80.46,422.45 81.34,422.66 82.23,422.91 83.11,423.21 83.98,423.53 84.82,423.87 85.63,424.23 86.37,424.57 87.01,424.91 87.60,425.29 88.17,425.70 88.73,426.14 89.31,426.60 89.90,427.06 90.53,427.51 91.19,427.93 91.88,428.30 92.59,428.63 93.29,428.94 93.97,429.23 94.61,429.48 95.17,429.69 95.62,429.87 95.96,430.01 97.04,427.39 96.67,427.24 96.19,427.05 95.64,426.84 95.04,426.60 94.41,426.34 93.77,426.06 93.16,425.77 92.61,425.47 92.11,425.16 91.60,424.79 91.07,424.37 90.49,423.91 89.87,423.43 89.19,422.94 88.44,422.46 87.63,422.03 86.80,421.64 85.93,421.26 85.01,420.89 84.05,420.53 83.06,420.20 82.05,419.91 81.03,419.68 80.01,419.50 79.01,419.38 78.03,419.30 77.04,419.27 76.03,419.28 75.01,419.34 73.95,419.46 72.87,419.68 71.74,419.97 70.48,420.36 69.09,420.88 67.64,421.48 66.20,422.13 64.84,422.78 63.61,423.41 62.60,423.97 61.86,424.39" fill="#dcd4d8" opacity="0.92"/><polygon points="47.81,431.99 48.56,431.73 49.56,431.35 50.72,430.90 52.01,430.43 53.35,429.96 54.69,429.55 55.97,429.23 57.11,429.04 58.17,428.98 59.24,429.02 60.34,429.13 61.44,429.30 62.55,429.50 63.67,429.71 64.79,429.90 65.89,430.04 66.96,430.15 68.00,430.25 69.03,430.35 70.04,430.45 71.04,430.54 72.02,430.62 72.99,430.69 73.96,430.74 74.91,430.77 75.82,430.76 76.69,430.73 77.54,430.70 78.36,430.68 79.18,430.69 80.01,430.73 80.86,430.83 81.76,431.00 82.69,431.21 83.66,431.46 84.64,431.75 85.64,432.06 86.64,432.37 87.63,432.69 88.61,433.00 89.62,433.32 90.70,433.68 91.80,434.05 92.88,434.43 93.91,434.79 94.83,435.11 95.60,435.39 96.19,435.59 96.81,433.81 96.23,433.60 95.46,433.33 94.53,433.01 93.51,432.65 92.41,432.27 91.30,431.89 90.21,431.52 89.19,431.20 88.21,430.89 87.21,430.57 86.20,430.25 85.18,429.94 84.16,429.64 83.14,429.38 82.14,429.15 81.14,428.97 80.17,428.85 79.24,428.80 78.34,428.79 77.48,428.81 76.62,428.84 75.78,428.87 74.93,428.88 74.04,428.86 73.12,428.80 72.17,428.73 71.20,428.65 70.21,428.57 69.21,428.47 68.19,428.37 67.15,428.27 66.11,428.16 65.07,428.03 64.00,427.85 62.89,427.64 61.75,427.44 60.58,427.26 59.37,427.13 58.15,427.09 56.89,427.16 55.58,427.38 54.18,427.73 52.76,428.17 51.37,428.65 50.06,429.13 48.88,429.58 47.91,429.95 47.19,430.21" fill="#dcd4d8" opacity="0.92"/><polygon points="56.05,438.61 56.76,438.57 57.68,438.43 58.75,438.19 59.91,437.91 61.11,437.61 62.30,437.33 63.43,437.09 64.45,436.92 65.39,436.80 66.29,436.71 67.16,436.65 68.02,436.62 68.90,436.58 69.84,436.51 70.86,436.47 72.00,436.46 73.29,436.47 74.73,436.52 76.26,436.59 77.84,436.69 79.41,436.82 80.94,436.83 82.37,436.87 83.64,436.94 84.82,437.08 86.01,437.30 87.19,437.57 88.34,437.87 89.42,438.16 90.40,438.40 91.26,438.56 91.95,438.61 92.05,438.39 91.56,437.92 90.91,437.35 90.10,436.72 89.16,436.06 88.10,435.39 86.93,434.74 85.67,434.15 84.36,433.66 82.96,433.24 81.43,432.87 79.83,432.53 78.16,432.38 76.50,432.28 74.90,432.20 73.38,432.15 72.00,432.14 70.75,432.15 69.60,432.20 68.51,432.28 67.48,432.46 66.49,432.70 65.52,432.99 64.56,433.31 63.55,433.68 62.46,434.15 61.32,434.71 60.19,435.35 59.09,436.01 58.08,436.68 57.19,437.32 56.47,437.91 55.95,438.39" fill="#dcd4d8" opacity="0.85"/><polygon points="85.99,414.12 86.86,414.32 88.09,414.61 89.57,414.91 91.19,415.09 92.81,415.26 94.31,415.41 95.56,415.54 96.44,415.64 96.56,414.56 95.67,414.47 94.42,414.34 92.93,414.18 91.31,414.01 89.69,413.85 88.17,413.84 86.91,413.86 86.01,413.88" fill="#dcd4d8" opacity="0.92"/><polygon points="52.04,408.61 52.66,408.42 53.51,408.22 54.51,407.95 55.61,407.66 56.78,407.35 57.95,407.03 59.07,406.71 60.10,406.46 61.14,406.26 62.25,406.09 63.40,405.89 64.54,405.69 65.61,405.52 66.58,405.35 67.40,405.19 68.01,405.12 67.99,404.88 67.37,404.94 66.54,404.94 65.56,404.96 64.46,404.99 63.30,405.06 62.12,405.15 60.97,405.33 59.90,405.54 58.82,405.80 57.68,406.13 56.52,406.53 55.39,406.97 54.32,407.41 53.37,407.81 52.58,408.18 51.96,408.39" fill="#dcd4d8" opacity="0.92"/><polygon points="70.01,427.12 70.81,427.05 71.88,427.00 73.15,426.91 74.56,426.81 76.01,426.72 77.45,426.60 78.79,426.53 79.97,426.54 81.07,426.65 82.22,426.84 83.38,427.05 84.52,427.30 85.58,427.55 86.54,427.78 87.36,427.95 87.97,428.12 88.03,427.88 87.44,427.70 86.68,427.36 85.77,426.98 84.73,426.58 83.61,426.18 82.43,425.83 81.23,425.59 80.03,425.46 78.76,425.45 77.37,425.52 75.90,425.68 74.44,425.94 73.06,426.22 71.81,426.50 70.76,426.75 69.99,426.88" fill="#dcd4d8" opacity="0.92"/><polygon points="74.01,397.62 74.61,397.58 75.41,397.58 76.35,397.57 77.40,397.55 78.52,397.55 79.67,397.59 80.82,397.66 81.93,397.77 83.13,397.98 84.48,398.29 85.92,398.66 87.39,399.01 88.80,399.36 90.09,399.67 91.18,399.90 91.97,400.12 92.03,399.88 91.25,399.64 90.22,399.23 88.99,398.76 87.61,398.26 86.17,397.77 84.71,397.38 83.32,397.05 82.07,396.83 80.88,396.72 79.67,396.71 78.49,396.79 77.35,396.91 76.30,397.06 75.37,397.21 74.59,397.35 73.99,397.38" fill="#dcd4d8" opacity="0.92"/></g>
</g>
<g clip-path="url(#clip01)">
<rect x="104" y="389.5" width="48" height="47.8" filter="url(#n_liver0)"/>
</g>
<g clip-path="url(#clip02)">
<rect x="159" y="389.5" width="48" height="47.8" filter="url(#n_spleen0)"/>
<g><g filter="url(#spk)"><ellipse cx="196" cy="392.5" rx="13" ry="7" fill="url(#pinkR)" opacity="0.9"/><ellipse cx="161" cy="429.5" rx="6" ry="12" fill="url(#pinkR)" opacity="0.7"/><ellipse cx="171" cy="425.5" rx="12" ry="10" fill="url(#lavR)" opacity="0.5"/><ellipse cx="205" cy="419.5" rx="4" ry="10" fill="url(#pinkR)" opacity="0.5"/><ellipse cx="189" cy="411.5" rx="10" ry="14" fill="url(#lavR)" opacity="0.3"/></g></g>
</g>
<g clip-path="url(#clip03)">
<rect x="213" y="389.5" width="48" height="47.8" filter="url(#n_lung0)"/>
<g><g filter="url(#lumpy)"><path d="M225.4,391.0 C230.2,396.5 230.2,408.5 225.4,408.7 C220.8,408.5 220.8,396.5 225.4,391.0Z" fill="#e2d8e0"/><path d="M238.3,423.3 C242.5,426.5 242.5,438.5 238.3,438.5 C234.2,438.5 234.5,427.5 238.3,423.3Z" fill="#e2d8e0"/><ellipse cx="246.0" cy="408.5" rx="1.2" ry="3.5" transform="rotate(20 246.0 408.5)" fill="#e2d8e0"/><ellipse cx="231.2" cy="420.0" rx="1.8" ry="2.4" transform="rotate(0 231.2 420.0)" fill="#e2d8e0"/><ellipse cx="249.0" cy="403.5" rx="1.2" ry="2.5" transform="rotate(0 249.0 403.5)" fill="#e2d8e0"/><ellipse cx="242.0" cy="413.5" rx="1.0" ry="2.5" transform="rotate(30 242.0 413.5)" fill="#e2d8e0"/><ellipse cx="253.0" cy="411.5" rx="1.0" ry="2.4" transform="rotate(0 253.0 411.5)" fill="#e2d8e0"/><ellipse cx="234.0" cy="405.5" rx="0.9" ry="1.6" transform="rotate(0 234.0 405.5)" fill="#e2d8e0"/><ellipse cx="218.0" cy="419.5" rx="1.0" ry="1.4" transform="rotate(0 218.0 419.5)" fill="#e2d8e0"/><ellipse cx="250.0" cy="427.5" rx="1.0" ry="1.6" transform="rotate(0 250.0 427.5)" fill="#e2d8e0"/><ellipse cx="237.0" cy="392.5" rx="1.2" ry="2.0" transform="rotate(0 237.0 392.5)" fill="#e2d8e0"/><ellipse cx="244.0" cy="395.5" rx="1.0" ry="1.6" transform="rotate(0 244.0 395.5)" fill="#e2d8e0"/><ellipse cx="256.0" cy="401.5" rx="1.0" ry="1.8" transform="rotate(0 256.0 401.5)" fill="#e2d8e0"/><ellipse cx="217.3" cy="435.1" rx="0.50" ry="1.17" transform="rotate(151 217.3 435.1)" fill="#e2d8e0" opacity="0.85"/><ellipse cx="248.9" cy="404.0" rx="0.65" ry="1.15" transform="rotate(174 248.9 404.0)" fill="#e2d8e0" opacity="0.85"/><ellipse cx="244.8" cy="415.4" rx="0.67" ry="0.87" transform="rotate(129 244.8 415.4)" fill="#e2d8e0" opacity="0.85"/><ellipse cx="233.6" cy="415.1" rx="0.84" ry="1.07" transform="rotate(7 233.6 415.1)" fill="#e2d8e0" opacity="0.85"/><ellipse cx="224.1" cy="423.4" rx="0.80" ry="1.25" transform="rotate(9 224.1 423.4)" fill="#e2d8e0" opacity="0.85"/><ellipse cx="224.1" cy="413.6" rx="0.92" ry="0.68" transform="rotate(138 224.1 413.6)" fill="#e2d8e0" opacity="0.85"/><ellipse cx="232.7" cy="404.2" rx="0.98" ry="0.60" transform="rotate(168 232.7 404.2)" fill="#e2d8e0" opacity="0.85"/><ellipse cx="227.9" cy="406.9" rx="0.54" ry="0.92" transform="rotate(152 227.9 406.9)" fill="#e2d8e0" opacity="0.85"/><ellipse cx="223.6" cy="416.1" rx="0.71" ry="0.77" transform="rotate(23 223.6 416.1)" fill="#e2d8e0" opacity="0.85"/><ellipse cx="246.5" cy="409.4" rx="0.73" ry="1.04" transform="rotate(19 246.5 409.4)" fill="#e2d8e0" opacity="0.85"/><ellipse cx="252.3" cy="432.3" rx="0.58" ry="1.23" transform="rotate(126 252.3 432.3)" fill="#e2d8e0" opacity="0.85"/><ellipse cx="227.3" cy="402.5" rx="0.46" ry="0.87" transform="rotate(81 227.3 402.5)" fill="#e2d8e0" opacity="0.85"/><ellipse cx="236.4" cy="412.6" rx="0.78" ry="0.61" transform="rotate(40 236.4 412.6)" fill="#e2d8e0" opacity="0.85"/><ellipse cx="239.8" cy="412.2" rx="0.52" ry="0.75" transform="rotate(176 239.8 412.2)" fill="#e2d8e0" opacity="0.85"/><ellipse cx="251.4" cy="424.4" rx="0.65" ry="0.88" transform="rotate(127 251.4 424.4)" fill="#e2d8e0" opacity="0.85"/><ellipse cx="240.0" cy="420.2" rx="0.42" ry="1.14" transform="rotate(36 240.0 420.2)" fill="#e2d8e0" opacity="0.85"/><ellipse cx="228.7" cy="415.0" rx="1.06" ry="0.87" transform="rotate(116 228.7 415.0)" fill="#e2d8e0" opacity="0.85"/><ellipse cx="223.0" cy="434.6" rx="0.57" ry="0.99" transform="rotate(123 223.0 434.6)" fill="#e2d8e0" opacity="0.85"/><ellipse cx="246.6" cy="410.9" rx="0.85" ry="0.51" transform="rotate(177 246.6 410.9)" fill="#e2d8e0" opacity="0.85"/><ellipse cx="239.8" cy="418.1" rx="0.58" ry="0.93" transform="rotate(116 239.8 418.1)" fill="#e2d8e0" opacity="0.85"/><ellipse cx="232.8" cy="395.3" rx="0.54" ry="1.29" transform="rotate(37 232.8 395.3)" fill="#e2d8e0" opacity="0.85"/><ellipse cx="237.7" cy="423.6" rx="0.55" ry="1.23" transform="rotate(86 237.7 423.6)" fill="#e2d8e0" opacity="0.85"/><ellipse cx="258.5" cy="399.3" rx="0.70" ry="0.83" transform="rotate(49 258.5 399.3)" fill="#e2d8e0" opacity="0.85"/><ellipse cx="233.5" cy="410.0" rx="0.68" ry="1.28" transform="rotate(59 233.5 410.0)" fill="#e2d8e0" opacity="0.85"/><ellipse cx="215.7" cy="425.5" rx="0.70" ry="0.52" transform="rotate(136 215.7 425.5)" fill="#e2d8e0" opacity="0.85"/><ellipse cx="247.8" cy="420.9" rx="0.97" ry="0.74" transform="rotate(151 247.8 420.9)" fill="#e2d8e0" opacity="0.85"/><ellipse cx="230.5" cy="430.7" rx="1.10" ry="1.00" transform="rotate(76 230.5 430.7)" fill="#e2d8e0" opacity="0.85"/><ellipse cx="248.3" cy="424.0" rx="0.75" ry="0.57" transform="rotate(64 248.3 424.0)" fill="#e2d8e0" opacity="0.85"/><ellipse cx="245.7" cy="390.2" rx="0.69" ry="1.32" transform="rotate(129 245.7 390.2)" fill="#e2d8e0" opacity="0.85"/><ellipse cx="225.5" cy="396.0" rx="0.80" ry="1.05" transform="rotate(52 225.5 396.0)" fill="#e2d8e0" opacity="0.85"/><ellipse cx="237.8" cy="437.1" rx="0.86" ry="0.99" transform="rotate(11 237.8 437.1)" fill="#e2d8e0" opacity="0.85"/><ellipse cx="235.8" cy="390.6" rx="1.07" ry="0.97" transform="rotate(108 235.8 390.6)" fill="#e2d8e0" opacity="0.85"/><ellipse cx="245.7" cy="391.4" rx="0.97" ry="1.13" transform="rotate(13 245.7 391.4)" fill="#e2d8e0" opacity="0.85"/><ellipse cx="256.9" cy="431.1" rx="1.09" ry="0.58" transform="rotate(165 256.9 431.1)" fill="#e2d8e0" opacity="0.85"/><ellipse cx="250.4" cy="401.7" rx="0.46" ry="1.11" transform="rotate(11 250.4 401.7)" fill="#e2d8e0" opacity="0.85"/><ellipse cx="239.3" cy="428.2" rx="0.68" ry="0.80" transform="rotate(75 239.3 428.2)" fill="#e2d8e0" opacity="0.85"/><ellipse cx="218.5" cy="392.5" rx="0.80" ry="1.24" transform="rotate(179 218.5 392.5)" fill="#e2d8e0" opacity="0.85"/><ellipse cx="218.0" cy="404.0" rx="0.97" ry="0.76" transform="rotate(138 218.0 404.0)" fill="#e2d8e0" opacity="0.85"/><ellipse cx="258.2" cy="430.7" rx="0.84" ry="1.16" transform="rotate(154 258.2 430.7)" fill="#e2d8e0" opacity="0.85"/><ellipse cx="219.8" cy="405.7" rx="0.91" ry="0.93" transform="rotate(138 219.8 405.7)" fill="#e2d8e0" opacity="0.85"/><ellipse cx="259.8" cy="424.3" rx="0.81" ry="1.15" transform="rotate(167 259.8 424.3)" fill="#e2d8e0" opacity="0.85"/><ellipse cx="217.7" cy="391.8" rx="0.95" ry="1.27" transform="rotate(119 217.7 391.8)" fill="#e2d8e0" opacity="0.85"/><ellipse cx="234.9" cy="402.3" rx="1.09" ry="1.13" transform="rotate(177 234.9 402.3)" fill="#e2d8e0" opacity="0.85"/><ellipse cx="244.7" cy="430.5" rx="0.56" ry="1.15" transform="rotate(17 244.7 430.5)" fill="#e2d8e0" opacity="0.85"/><ellipse cx="228.7" cy="411.0" rx="0.77" ry="1.39" transform="rotate(113 228.7 411.0)" fill="#e2d8e0" opacity="0.85"/></g></g>
</g>
<g clip-path="url(#clip04)">
<rect x="268" y="389.5" width="48" height="47.8" filter="url(#n_kidney0)"/>
<g><line x1="273.4" y1="413.4" x2="276.5" y2="409.3" stroke="#ecdcec" stroke-width="0.65" stroke-linecap="round" opacity="0.6"/><line x1="302.9" y1="412.9" x2="303.4" y2="407.7" stroke="#ecdcec" stroke-width="0.65" stroke-linecap="round" opacity="0.6"/><line x1="270.6" y1="411.7" x2="273.1" y2="411.1" stroke="#ecdcec" stroke-width="0.65" stroke-linecap="round" opacity="0.6"/><line x1="312.1" y1="406.8" x2="314.8" y2="404.4" stroke="#ecdcec" stroke-width="0.65" stroke-linecap="round" opacity="0.6"/><line x1="278.5" y1="399.4" x2="277.1" y2="396.7" stroke="#ecdcec" stroke-width="0.65" stroke-linecap="round" opacity="0.6"/><line x1="296.5" y1="436.0" x2="299.6" y2="435.5" stroke="#ecdcec" stroke-width="0.65" stroke-linecap="round" opacity="0.6"/><line x1="297.0" y1="434.0" x2="292.3" y2="431.5" stroke="#ecdcec" stroke-width="0.65" stroke-linecap="round" opacity="0.6"/><line x1="299.5" y1="396.6" x2="298.7" y2="394.3" stroke="#ecdcec" stroke-width="0.65" stroke-linecap="round" opacity="0.6"/><line x1="303.8" y1="417.4" x2="306.5" y2="415.9" stroke="#ecdcec" stroke-width="0.65" stroke-linecap="round" opacity="0.6"/><line x1="311.0" y1="402.7" x2="312.7" y2="399.1" stroke="#ecdcec" stroke-width="0.65" stroke-linecap="round" opacity="0.6"/><line x1="309.1" y1="395.8" x2="313.5" y2="395.4" stroke="#ecdcec" stroke-width="0.65" stroke-linecap="round" opacity="0.6"/><line x1="297.2" y1="426.5" x2="297.3" y2="421.3" stroke="#ecdcec" stroke-width="0.65" stroke-linecap="round" opacity="0.6"/><line x1="282.9" y1="419.7" x2="280.9" y2="415.9" stroke="#ecdcec" stroke-width="0.65" stroke-linecap="round" opacity="0.6"/><line x1="307.5" y1="408.3" x2="310.5" y2="405.5" stroke="#ecdcec" stroke-width="0.65" stroke-linecap="round" opacity="0.6"/><line x1="308.7" y1="433.9" x2="305.4" y2="430.6" stroke="#ecdcec" stroke-width="0.65" stroke-linecap="round" opacity="0.6"/><line x1="306.8" y1="434.8" x2="310.5" y2="431.5" stroke="#ecdcec" stroke-width="0.65" stroke-linecap="round" opacity="0.6"/><line x1="294.7" y1="414.2" x2="290.6" y2="412.2" stroke="#ecdcec" stroke-width="0.65" stroke-linecap="round" opacity="0.6"/><line x1="299.4" y1="431.9" x2="301.5" y2="429.8" stroke="#ecdcec" stroke-width="0.65" stroke-linecap="round" opacity="0.6"/><line x1="301.5" y1="396.5" x2="302.3" y2="394.1" stroke="#ecdcec" stroke-width="0.65" stroke-linecap="round" opacity="0.6"/><line x1="277.5" y1="406.4" x2="279.6" y2="402.3" stroke="#ecdcec" stroke-width="0.65" stroke-linecap="round" opacity="0.6"/><line x1="305.7" y1="416.8" x2="302.1" y2="416.7" stroke="#ecdcec" stroke-width="0.65" stroke-linecap="round" opacity="0.6"/><line x1="272.1" y1="400.4" x2="274.8" y2="397.1" stroke="#ecdcec" stroke-width="0.65" stroke-linecap="round" opacity="0.6"/><line x1="278.9" y1="411.0" x2="277.2" y2="405.5" stroke="#ecdcec" stroke-width="0.65" stroke-linecap="round" opacity="0.6"/><line x1="302.4" y1="421.6" x2="302.1" y2="416.8" stroke="#ecdcec" stroke-width="0.65" stroke-linecap="round" opacity="0.6"/><line x1="293.0" y1="424.0" x2="295.4" y2="422.3" stroke="#ecdcec" stroke-width="0.65" stroke-linecap="round" opacity="0.6"/><line x1="311.0" y1="392.9" x2="308.8" y2="390.7" stroke="#ecdcec" stroke-width="0.65" stroke-linecap="round" opacity="0.6"/><line x1="274.7" y1="397.1" x2="270.3" y2="395.3" stroke="#ecdcec" stroke-width="0.65" stroke-linecap="round" opacity="0.6"/><line x1="271.0" y1="436.8" x2="271.5" y2="433.0" stroke="#ecdcec" stroke-width="0.65" stroke-linecap="round" opacity="0.6"/><line x1="292.4" y1="407.2" x2="289.1" y2="404.8" stroke="#ecdcec" stroke-width="0.65" stroke-linecap="round" opacity="0.6"/><line x1="297.0" y1="402.4" x2="294.7" y2="400.7" stroke="#ecdcec" stroke-width="0.65" stroke-linecap="round" opacity="0.6"/><line x1="285.5" y1="434.3" x2="290.1" y2="434.0" stroke="#ecdcec" stroke-width="0.65" stroke-linecap="round" opacity="0.6"/><line x1="289.3" y1="403.4" x2="285.2" y2="400.6" stroke="#ecdcec" stroke-width="0.65" stroke-linecap="round" opacity="0.6"/><line x1="317.0" y1="409.5" x2="314.8" y2="407.0" stroke="#ecdcec" stroke-width="0.65" stroke-linecap="round" opacity="0.6"/><line x1="282.1" y1="437.4" x2="283.2" y2="431.5" stroke="#ecdcec" stroke-width="0.65" stroke-linecap="round" opacity="0.6"/><line x1="279.9" y1="391.0" x2="278.3" y2="388.9" stroke="#ecdcec" stroke-width="0.65" stroke-linecap="round" opacity="0.6"/><line x1="296.5" y1="421.0" x2="301.2" y2="418.1" stroke="#ecdcec" stroke-width="0.65" stroke-linecap="round" opacity="0.6"/><line x1="283.6" y1="423.4" x2="286.2" y2="420.3" stroke="#ecdcec" stroke-width="0.65" stroke-linecap="round" opacity="0.6"/><line x1="276.4" y1="437.5" x2="277.3" y2="435.2" stroke="#ecdcec" stroke-width="0.65" stroke-linecap="round" opacity="0.6"/><line x1="283.5" y1="428.4" x2="286.3" y2="427.4" stroke="#ecdcec" stroke-width="0.65" stroke-linecap="round" opacity="0.6"/><line x1="268.1" y1="427.3" x2="268.2" y2="422.3" stroke="#ecdcec" stroke-width="0.65" stroke-linecap="round" opacity="0.6"/><line x1="277.9" y1="409.1" x2="274.8" y2="406.6" stroke="#ecdcec" stroke-width="0.65" stroke-linecap="round" opacity="0.6"/><line x1="277.2" y1="431.6" x2="274.3" y2="428.3" stroke="#ecdcec" stroke-width="0.65" stroke-linecap="round" opacity="0.6"/><line x1="297.6" y1="421.3" x2="298.4" y2="418.5" stroke="#ecdcec" stroke-width="0.65" stroke-linecap="round" opacity="0.6"/><line x1="294.5" y1="395.6" x2="297.6" y2="394.1" stroke="#ecdcec" stroke-width="0.65" stroke-linecap="round" opacity="0.6"/><line x1="296.0" y1="402.1" x2="295.5" y2="398.3" stroke="#ecdcec" stroke-width="0.65" stroke-linecap="round" opacity="0.6"/><line x1="303.3" y1="431.0" x2="300.7" y2="430.6" stroke="#ecdcec" stroke-width="0.65" stroke-linecap="round" opacity="0.6"/><line x1="290.6" y1="390.9" x2="287.8" y2="390.0" stroke="#ecdcec" stroke-width="0.65" stroke-linecap="round" opacity="0.6"/><line x1="272.0" y1="420.9" x2="272.5" y2="418.2" stroke="#ecdcec" stroke-width="0.65" stroke-linecap="round" opacity="0.6"/><g filter="url(#spk)"><ellipse cx="274" cy="399.5" rx="12" ry="14" fill="url(#pinkR)" opacity="0.5"/><ellipse cx="308" cy="411.5" rx="12" ry="16" fill="url(#pinkR)" opacity="0.5"/><ellipse cx="290" cy="433.5" rx="14" ry="8" fill="url(#pinkR)" opacity="0.5"/></g></g>
</g>
<g clip-path="url(#clip05)">
<rect x="322" y="389.5" width="48" height="47.8" filter="url(#n_ki670)"/>
<g><circle cx="322.1" cy="394.5" r="0.75" fill="#c88448" opacity="0.57"/><circle cx="368.1" cy="415.2" r="0.91" fill="#b86e34" opacity="0.60"/><circle cx="357.8" cy="421.4" r="0.62" fill="#a8622c" opacity="0.81"/><circle cx="347.3" cy="399.0" r="0.85" fill="#c07a40" opacity="0.56"/><circle cx="367.6" cy="408.7" r="0.65" fill="#cc8a50" opacity="0.69"/><circle cx="350.7" cy="401.1" r="0.91" fill="#d49a62" opacity="0.75"/><circle cx="348.3" cy="435.7" r="0.97" fill="#cc8a50" opacity="0.60"/><circle cx="328.7" cy="428.0" r="0.74" fill="#c07a40" opacity="0.81"/><circle cx="364.0" cy="420.9" r="0.66" fill="#d49a62" opacity="0.81"/><circle cx="331.0" cy="420.4" r="0.66" fill="#c07a40" opacity="0.64"/><circle cx="335.9" cy="417.0" r="0.79" fill="#c88448" opacity="0.84"/><circle cx="368.6" cy="436.8" r="1.05" fill="#cc8a50" opacity="0.86"/><circle cx="348.9" cy="434.9" r="0.97" fill="#cc8a50" opacity="0.58"/><circle cx="330.9" cy="434.1" r="0.85" fill="#c88448" opacity="0.88"/><circle cx="354.3" cy="403.0" r="0.70" fill="#b86e34" opacity="0.59"/><circle cx="331.4" cy="405.4" r="0.75" fill="#c07a40" opacity="0.75"/><circle cx="327.3" cy="393.8" r="1.04" fill="#c07a40" opacity="0.89"/><circle cx="331.4" cy="397.0" r="1.05" fill="#b86e34" opacity="0.72"/><circle cx="345.9" cy="427.6" r="0.69" fill="#cc8a50" opacity="0.89"/><circle cx="345.5" cy="417.9" r="0.98" fill="#d49a62" opacity="0.60"/><circle cx="357.0" cy="423.0" r="1.04" fill="#c07a40" opacity="0.64"/><circle cx="359.0" cy="437.3" r="0.72" fill="#c07a40" opacity="0.58"/><circle cx="350.1" cy="410.8" r="1.05" fill="#b86e34" opacity="0.59"/><circle cx="363.9" cy="391.4" r="0.86" fill="#b86e34" opacity="0.83"/><circle cx="367.9" cy="431.5" r="0.89" fill="#a8622c" opacity="0.71"/><circle cx="355.6" cy="414.7" r="0.98" fill="#d49a62" opacity="0.63"/><circle cx="331.0" cy="419.1" r="0.70" fill="#d49a62" opacity="0.66"/><circle cx="339.7" cy="414.6" r="0.72" fill="#b86e34" opacity="0.88"/><circle cx="355.3" cy="417.4" r="0.63" fill="#c88448" opacity="0.59"/><circle cx="342.3" cy="395.9" r="0.74" fill="#cc8a50" opacity="0.62"/><circle cx="365.1" cy="404.0" r="0.84" fill="#cc8a50" opacity="0.81"/><circle cx="362.0" cy="390.6" r="0.86" fill="#cc8a50" opacity="0.64"/><circle cx="331.4" cy="428.9" r="0.73" fill="#d49a62" opacity="0.56"/><circle cx="343.2" cy="423.7" r="0.67" fill="#cc8a50" opacity="0.67"/><circle cx="355.7" cy="407.0" r="0.94" fill="#c07a40" opacity="0.89"/><circle cx="364.9" cy="423.0" r="0.99" fill="#d49a62" opacity="0.88"/><circle cx="335.1" cy="397.9" r="0.57" fill="#d49a62" opacity="0.60"/><circle cx="361.1" cy="429.8" r="1.04" fill="#cc8a50" opacity="0.68"/><circle cx="358.6" cy="403.7" r="1.01" fill="#a8622c" opacity="0.66"/><circle cx="365.3" cy="436.5" r="0.67" fill="#b86e34" opacity="0.85"/><circle cx="348.0" cy="404.7" r="0.60" fill="#a8622c" opacity="0.80"/><circle cx="322.5" cy="433.4" r="0.80" fill="#cc8a50" opacity="0.79"/><circle cx="346.9" cy="431.1" r="0.70" fill="#d49a62" opacity="0.69"/><circle cx="332.0" cy="432.4" r="0.93" fill="#c07a40" opacity="0.84"/><circle cx="333.4" cy="423.6" r="0.57" fill="#d49a62" opacity="0.79"/><circle cx="337.4" cy="437.2" r="0.95" fill="#c07a40" opacity="0.66"/><circle cx="357.2" cy="426.3" r="0.76" fill="#c07a40" opacity="0.66"/><circle cx="360.6" cy="434.8" r="0.66" fill="#d49a62" opacity="0.74"/><circle cx="325.3" cy="413.2" r="0.79" fill="#cc8a50" opacity="0.72"/><circle cx="344.9" cy="422.6" r="1.00" fill="#c88448" opacity="0.78"/><circle cx="333.0" cy="437.7" r="0.78" fill="#cc8a50" opacity="0.57"/><circle cx="349.4" cy="433.6" r="0.71" fill="#d49a62" opacity="0.62"/><circle cx="332.2" cy="391.8" r="0.98" fill="#d49a62" opacity="0.56"/><circle cx="357.3" cy="411.1" r="0.75" fill="#c88448" opacity="0.83"/><circle cx="368.3" cy="414.3" r="0.71" fill="#b86e34" opacity="0.74"/><circle cx="360.0" cy="411.2" r="0.62" fill="#a8622c" opacity="0.66"/><circle cx="356.2" cy="398.6" r="0.87" fill="#d49a62" opacity="0.63"/><circle cx="338.2" cy="436.0" r="0.76" fill="#cc8a50" opacity="0.84"/><circle cx="350.8" cy="429.2" r="0.76" fill="#c07a40" opacity="0.62"/><circle cx="332.6" cy="401.7" r="1.00" fill="#b86e34" opacity="0.59"/><circle cx="363.2" cy="423.7" r="0.71" fill="#c88448" opacity="0.82"/><circle cx="342.7" cy="392.8" r="0.60" fill="#a8622c" opacity="0.85"/><circle cx="344.9" cy="396.0" r="0.77" fill="#b86e34" opacity="0.57"/><circle cx="350.9" cy="404.4" r="0.97" fill="#a8622c" opacity="0.57"/><circle cx="337.4" cy="422.8" r="0.97" fill="#c88448" opacity="0.86"/><circle cx="348.5" cy="418.0" r="0.93" fill="#cc8a50" opacity="0.60"/><circle cx="336.4" cy="408.1" r="0.77" fill="#cc8a50" opacity="0.85"/><circle cx="369.3" cy="401.7" r="0.59" fill="#a8622c" opacity="0.61"/><circle cx="355.2" cy="396.0" r="1.03" fill="#c88448" opacity="0.84"/><circle cx="364.1" cy="396.0" r="0.78" fill="#b86e34" opacity="0.61"/><circle cx="346.6" cy="422.4" r="0.84" fill="#d49a62" opacity="0.72"/><circle cx="331.3" cy="412.6" r="0.56" fill="#cc8a50" opacity="0.78"/><circle cx="330.7" cy="395.7" r="0.98" fill="#b86e34" opacity="0.62"/><circle cx="326.2" cy="411.6" r="0.80" fill="#b86e34" opacity="0.83"/><circle cx="325.0" cy="433.0" r="0.87" fill="#cc8a50" opacity="0.83"/><circle cx="324.7" cy="389.9" r="0.58" fill="#cc8a50" opacity="0.75"/><circle cx="333.2" cy="407.2" r="0.76" fill="#a8622c" opacity="0.57"/><circle cx="336.1" cy="429.2" r="0.58" fill="#d49a62" opacity="0.61"/><circle cx="335.9" cy="420.8" r="0.72" fill="#a8622c" opacity="0.60"/><circle cx="369.2" cy="431.2" r="0.90" fill="#c07a40" opacity="0.66"/><circle cx="333.7" cy="431.6" r="0.85" fill="#cc8a50" opacity="0.73"/><circle cx="342.4" cy="437.6" r="0.87" fill="#cc8a50" opacity="0.80"/><circle cx="352.5" cy="400.8" r="0.66" fill="#c07a40" opacity="0.60"/><circle cx="355.4" cy="420.8" r="0.60" fill="#cc8a50" opacity="0.78"/><circle cx="345.5" cy="405.9" r="0.63" fill="#d49a62" opacity="0.79"/><circle cx="367.5" cy="402.6" r="0.73" fill="#cc8a50" opacity="0.89"/><circle cx="344.3" cy="424.1" r="0.74" fill="#d49a62" opacity="0.70"/><circle cx="347.9" cy="424.6" r="0.56" fill="#a8622c" opacity="0.67"/><circle cx="360.9" cy="435.6" r="0.79" fill="#c07a40" opacity="0.73"/><circle cx="355.9" cy="435.5" r="0.98" fill="#d49a62" opacity="0.72"/><circle cx="347.2" cy="416.1" r="0.55" fill="#a8622c" opacity="0.79"/><circle cx="369.4" cy="435.2" r="0.69" fill="#d49a62" opacity="0.65"/><circle cx="343.7" cy="396.8" r="0.85" fill="#d49a62" opacity="0.62"/><circle cx="345.6" cy="400.3" r="0.85" fill="#c88448" opacity="0.76"/><circle cx="334.9" cy="390.7" r="1.02" fill="#c88448" opacity="0.90"/><circle cx="363.7" cy="390.3" r="0.75" fill="#c07a40" opacity="0.71"/><circle cx="348.8" cy="410.9" r="1.03" fill="#d49a62" opacity="0.77"/><circle cx="340.3" cy="403.8" r="0.95" fill="#c07a40" opacity="0.67"/><circle cx="368.0" cy="418.7" r="0.74" fill="#b86e34" opacity="0.59"/><circle cx="333.9" cy="392.4" r="0.89" fill="#d49a62" opacity="0.57"/><circle cx="348.3" cy="399.7" r="0.60" fill="#c07a40" opacity="0.82"/><circle cx="340.2" cy="431.6" r="0.57" fill="#a8622c" opacity="0.62"/><circle cx="334.1" cy="410.9" r="0.59" fill="#c07a40" opacity="0.58"/><circle cx="328.1" cy="407.4" r="0.97" fill="#cc8a50" opacity="0.66"/><circle cx="361.8" cy="407.1" r="0.86" fill="#c07a40" opacity="0.85"/><circle cx="364.5" cy="430.3" r="0.99" fill="#d49a62" opacity="0.63"/><circle cx="344.6" cy="422.7" r="0.66" fill="#a8622c" opacity="0.78"/><circle cx="322.7" cy="391.8" r="0.83" fill="#cc8a50" opacity="0.90"/><circle cx="351.1" cy="401.2" r="0.66" fill="#c07a40" opacity="0.71"/><circle cx="328.6" cy="416.8" r="0.99" fill="#c07a40" opacity="0.79"/><circle cx="340.7" cy="417.7" r="0.59" fill="#cc8a50" opacity="0.72"/><circle cx="347.4" cy="403.3" r="0.82" fill="#d49a62" opacity="0.73"/><circle cx="326.3" cy="416.5" r="0.63" fill="#c07a40" opacity="0.87"/><circle cx="361.4" cy="401.2" r="0.80" fill="#c88448" opacity="0.82"/><circle cx="354.7" cy="430.2" r="0.95" fill="#c88448" opacity="0.87"/><circle cx="322.4" cy="432.2" r="0.88" fill="#d49a62" opacity="0.68"/><circle cx="361.2" cy="414.6" r="0.74" fill="#cc8a50" opacity="0.62"/><circle cx="355.6" cy="422.5" r="0.84" fill="#c88448" opacity="0.77"/><circle cx="348.1" cy="435.0" r="0.88" fill="#b86e34" opacity="0.75"/><circle cx="356.6" cy="431.3" r="0.57" fill="#cc8a50" opacity="0.85"/><circle cx="355.8" cy="414.2" r="0.85" fill="#cc8a50" opacity="0.64"/><circle cx="367.9" cy="410.3" r="0.85" fill="#c88448" opacity="0.76"/><circle cx="361.3" cy="436.5" r="1.05" fill="#a8622c" opacity="0.66"/><circle cx="347.0" cy="420.9" r="0.99" fill="#cc8a50" opacity="0.68"/><circle cx="368.1" cy="424.4" r="0.75" fill="#c88448" opacity="0.77"/><circle cx="369.8" cy="418.2" r="0.92" fill="#b86e34" opacity="0.69"/><circle cx="356.1" cy="412.2" r="0.86" fill="#c88448" opacity="0.81"/><circle cx="330.2" cy="418.7" r="0.96" fill="#c07a40" opacity="0.63"/><circle cx="325.6" cy="398.5" r="0.59" fill="#a8622c" opacity="0.73"/><circle cx="356.1" cy="422.2" r="0.82" fill="#c88448" opacity="0.89"/><circle cx="348.3" cy="400.7" r="1.01" fill="#d49a62" opacity="0.79"/><circle cx="324.5" cy="402.8" r="0.97" fill="#c07a40" opacity="0.81"/><circle cx="364.0" cy="417.3" r="0.60" fill="#cc8a50" opacity="0.69"/><circle cx="346.5" cy="424.4" r="0.87" fill="#cc8a50" opacity="0.77"/><circle cx="358.2" cy="420.4" r="0.87" fill="#d49a62" opacity="0.77"/><circle cx="359.4" cy="410.5" r="0.92" fill="#a8622c" opacity="0.86"/><circle cx="346.6" cy="435.7" r="1.03" fill="#cc8a50" opacity="0.62"/><circle cx="325.3" cy="429.2" r="0.90" fill="#a8622c" opacity="0.67"/><circle cx="336.6" cy="430.0" r="0.68" fill="#d49a62" opacity="0.59"/><circle cx="327.8" cy="390.3" r="0.64" fill="#d49a62" opacity="0.55"/><circle cx="339.8" cy="390.5" r="1.01" fill="#c88448" opacity="0.66"/><circle cx="345.2" cy="407.0" r="0.67" fill="#c88448" opacity="0.64"/><circle cx="340.2" cy="430.1" r="0.93" fill="#b86e34" opacity="0.78"/><circle cx="362.3" cy="435.6" r="0.69" fill="#b86e34" opacity="0.86"/><circle cx="345.7" cy="395.6" r="0.82" fill="#d49a62" opacity="0.85"/><circle cx="331.1" cy="405.9" r="0.69" fill="#a8622c" opacity="0.75"/><circle cx="360.4" cy="423.9" r="0.80" fill="#c88448" opacity="0.86"/><circle cx="347.5" cy="391.6" r="0.69" fill="#c07a40" opacity="0.76"/><circle cx="331.6" cy="427.4" r="0.80" fill="#c07a40" opacity="0.71"/><circle cx="324.3" cy="431.2" r="0.65" fill="#cc8a50" opacity="0.89"/><circle cx="342.9" cy="433.5" r="0.89" fill="#d49a62" opacity="0.61"/><circle cx="343.9" cy="401.8" r="0.70" fill="#d49a62" opacity="0.68"/><circle cx="359.4" cy="429.6" r="0.90" fill="#cc8a50" opacity="0.76"/><circle cx="328.2" cy="395.5" r="0.86" fill="#a8622c" opacity="0.71"/><circle cx="340.6" cy="416.1" r="0.99" fill="#a8622c" opacity="0.77"/><circle cx="366.3" cy="406.1" r="0.81" fill="#c07a40" opacity="0.72"/><circle cx="353.4" cy="392.6" r="1.04" fill="#c88448" opacity="0.85"/><circle cx="370.2" cy="403.9" r="0.98" fill="#cc8a50" opacity="0.60"/><circle cx="333.5" cy="437.5" r="0.73" fill="#c07a40" opacity="0.79"/><circle cx="356.0" cy="417.5" r="0.58" fill="#c88448" opacity="0.88"/><circle cx="340.8" cy="391.4" r="0.82" fill="#a8622c" opacity="0.77"/><circle cx="339.0" cy="413.9" r="0.64" fill="#b86e34" opacity="0.70"/><circle cx="330.6" cy="401.0" r="0.66" fill="#b86e34" opacity="0.57"/><circle cx="341.7" cy="415.1" r="0.67" fill="#c07a40" opacity="0.77"/><circle cx="363.1" cy="395.6" r="0.64" fill="#cc8a50" opacity="0.75"/><circle cx="357.3" cy="390.0" r="0.69" fill="#b86e34" opacity="0.57"/><circle cx="362.0" cy="415.5" r="1.00" fill="#a8622c" opacity="0.71"/><circle cx="356.3" cy="425.7" r="0.95" fill="#d49a62" opacity="0.68"/><circle cx="369.4" cy="417.8" r="1.02" fill="#c07a40" opacity="0.89"/><circle cx="327.9" cy="415.1" r="0.82" fill="#b86e34" opacity="0.85"/><circle cx="340.5" cy="392.6" r="1.04" fill="#b86e34" opacity="0.83"/><circle cx="340.3" cy="392.9" r="1.00" fill="#c88448" opacity="0.63"/><circle cx="340.4" cy="407.8" r="0.90" fill="#c88448" opacity="0.76"/><circle cx="325.0" cy="393.6" r="0.81" fill="#d49a62" opacity="0.61"/><circle cx="346.0" cy="433.6" r="0.81" fill="#c88448" opacity="0.68"/><circle cx="349.9" cy="422.0" r="1.03" fill="#a8622c" opacity="0.71"/><circle cx="350.4" cy="422.5" r="0.75" fill="#a8622c" opacity="0.56"/><circle cx="323.5" cy="411.5" r="0.72" fill="#cc8a50" opacity="0.86"/><circle cx="333.8" cy="427.3" r="1.01" fill="#d49a62" opacity="0.58"/><circle cx="362.1" cy="437.6" r="0.55" fill="#c88448" opacity="0.76"/><circle cx="363.1" cy="402.2" r="0.82" fill="#c07a40" opacity="0.88"/><circle cx="363.5" cy="409.6" r="0.74" fill="#cc8a50" opacity="0.86"/><circle cx="334.9" cy="389.3" r="0.86" fill="#c88448" opacity="0.55"/><circle cx="351.1" cy="410.1" r="1.05" fill="#d49a62" opacity="0.80"/><circle cx="357.2" cy="407.6" r="0.90" fill="#b86e34" opacity="0.76"/><circle cx="356.3" cy="395.1" r="0.83" fill="#c88448" opacity="0.69"/><circle cx="338.4" cy="421.6" r="0.78" fill="#c07a40" opacity="0.60"/><circle cx="360.6" cy="411.6" r="1.02" fill="#a8622c" opacity="0.64"/><circle cx="339.5" cy="409.7" r="0.96" fill="#c07a40" opacity="0.64"/><circle cx="335.2" cy="415.5" r="0.99" fill="#cc8a50" opacity="0.56"/><circle cx="326.3" cy="419.2" r="0.77" fill="#b86e34" opacity="0.89"/><circle cx="336.6" cy="416.1" r="0.86" fill="#c88448" opacity="0.86"/><circle cx="325.2" cy="423.3" r="0.82" fill="#c07a40" opacity="0.82"/><circle cx="345.7" cy="413.2" r="0.57" fill="#b86e34" opacity="0.89"/><circle cx="322.2" cy="437.4" r="0.79" fill="#c07a40" opacity="0.77"/><circle cx="330.4" cy="437.9" r="0.55" fill="#b86e34" opacity="0.85"/><circle cx="321.6" cy="431.6" r="0.63" fill="#b86e34" opacity="0.62"/><circle cx="343.8" cy="427.0" r="0.75" fill="#c88448" opacity="0.70"/><circle cx="361.3" cy="410.2" r="0.71" fill="#cc8a50" opacity="0.58"/><circle cx="344.1" cy="408.4" r="0.56" fill="#b86e34" opacity="0.68"/><circle cx="355.7" cy="413.3" r="0.92" fill="#b86e34" opacity="0.57"/><circle cx="355.6" cy="400.8" r="0.88" fill="#b86e34" opacity="0.87"/><circle cx="340.6" cy="389.7" r="0.68" fill="#d49a62" opacity="0.70"/><circle cx="334.0" cy="392.1" r="1.02" fill="#c88448" opacity="0.81"/><circle cx="325.3" cy="389.6" r="0.78" fill="#c07a40" opacity="0.61"/><circle cx="342.5" cy="395.2" r="0.67" fill="#d49a62" opacity="0.83"/><circle cx="349.2" cy="426.9" r="0.71" fill="#c07a40" opacity="0.66"/><circle cx="343.2" cy="408.2" r="0.88" fill="#cc8a50" opacity="0.73"/><circle cx="331.3" cy="414.0" r="0.63" fill="#c07a40" opacity="0.56"/><circle cx="355.9" cy="429.4" r="0.67" fill="#b86e34" opacity="0.56"/><circle cx="330.3" cy="430.0" r="0.59" fill="#c88448" opacity="0.85"/><circle cx="344.7" cy="409.5" r="0.94" fill="#b86e34" opacity="0.67"/><circle cx="323.4" cy="390.0" r="0.88" fill="#cc8a50" opacity="0.79"/><circle cx="322.3" cy="421.5" r="0.70" fill="#b86e34" opacity="0.77"/><circle cx="325.0" cy="416.8" r="0.55" fill="#cc8a50" opacity="0.77"/><circle cx="342.9" cy="433.7" r="0.63" fill="#c88448" opacity="0.74"/><circle cx="358.0" cy="419.3" r="0.90" fill="#c88448" opacity="0.88"/><circle cx="361.9" cy="416.5" r="0.90" fill="#d49a62" opacity="0.67"/><circle cx="337.5" cy="422.7" r="0.62" fill="#c88448" opacity="0.71"/><circle cx="357.6" cy="423.4" r="0.64" fill="#a8622c" opacity="0.60"/><circle cx="328.5" cy="430.7" r="0.96" fill="#b86e34" opacity="0.83"/><circle cx="336.5" cy="437.1" r="0.99" fill="#a8622c" opacity="0.79"/><circle cx="368.1" cy="437.9" r="0.94" fill="#c07a40" opacity="0.81"/><circle cx="356.1" cy="412.3" r="0.60" fill="#cc8a50" opacity="0.72"/><circle cx="342.3" cy="432.4" r="0.97" fill="#cc8a50" opacity="0.85"/><circle cx="354.1" cy="420.8" r="0.64" fill="#d49a62" opacity="0.74"/><circle cx="349.0" cy="403.0" r="0.92" fill="#c07a40" opacity="0.72"/><circle cx="337.4" cy="397.6" r="0.82" fill="#b86e34" opacity="0.82"/><circle cx="360.8" cy="410.6" r="0.79" fill="#c07a40" opacity="0.77"/><circle cx="363.7" cy="391.6" r="0.78" fill="#d49a62" opacity="0.79"/><circle cx="341.3" cy="403.9" r="0.91" fill="#c07a40" opacity="0.76"/><circle cx="352.2" cy="419.5" r="0.80" fill="#b86e34" opacity="0.58"/><circle cx="346.1" cy="434.9" r="0.93" fill="#c88448" opacity="0.88"/><circle cx="356.0" cy="421.8" r="0.64" fill="#d49a62" opacity="0.88"/><circle cx="322.7" cy="390.2" r="0.57" fill="#c07a40" opacity="0.79"/><circle cx="329.3" cy="411.4" r="0.85" fill="#c07a40" opacity="0.71"/><circle cx="324.6" cy="390.5" r="0.69" fill="#b86e34" opacity="0.67"/><circle cx="343.1" cy="398.8" r="1.04" fill="#b86e34" opacity="0.57"/><circle cx="327.0" cy="421.0" r="1.04" fill="#d49a62" opacity="0.65"/><circle cx="333.1" cy="399.4" r="0.88" fill="#a8622c" opacity="0.60"/><circle cx="328.6" cy="436.7" r="0.88" fill="#c07a40" opacity="0.70"/><circle cx="347.7" cy="406.9" r="0.78" fill="#c88448" opacity="0.68"/><circle cx="337.8" cy="409.9" r="0.72" fill="#c07a40" opacity="0.74"/><circle cx="323.8" cy="403.0" r="0.77" fill="#a8622c" opacity="0.89"/><circle cx="325.8" cy="409.9" r="0.64" fill="#d49a62" opacity="0.62"/><circle cx="352.9" cy="411.9" r="0.63" fill="#c88448" opacity="0.76"/><circle cx="330.5" cy="398.3" r="0.80" fill="#c07a40" opacity="0.67"/><circle cx="355.6" cy="416.3" r="0.93" fill="#c07a40" opacity="0.75"/><circle cx="328.5" cy="417.0" r="0.89" fill="#b86e34" opacity="0.78"/><circle cx="348.8" cy="403.2" r="0.74" fill="#a8622c" opacity="0.65"/><circle cx="341.9" cy="432.7" r="0.80" fill="#b86e34" opacity="0.80"/><circle cx="357.5" cy="402.3" r="0.98" fill="#d49a62" opacity="0.59"/><circle cx="366.8" cy="403.6" r="0.92" fill="#a8622c" opacity="0.72"/><circle cx="348.8" cy="402.3" r="0.59" fill="#cc8a50" opacity="0.76"/><circle cx="355.1" cy="410.0" r="0.56" fill="#a8622c" opacity="0.74"/><circle cx="356.0" cy="425.5" r="0.93" fill="#cc8a50" opacity="0.85"/><circle cx="344.2" cy="409.4" r="0.57" fill="#cc8a50" opacity="0.71"/><circle cx="323.8" cy="425.1" r="0.72" fill="#c88448" opacity="0.65"/><circle cx="357.2" cy="389.8" r="0.57" fill="#b86e34" opacity="0.57"/><circle cx="347.1" cy="390.7" r="0.58" fill="#c07a40" opacity="0.79"/><circle cx="351.7" cy="398.0" r="0.67" fill="#cc8a50" opacity="0.61"/><circle cx="324.4" cy="420.4" r="0.69" fill="#c07a40" opacity="0.86"/><circle cx="332.5" cy="426.3" r="0.99" fill="#cc8a50" opacity="0.89"/><circle cx="337.7" cy="431.2" r="0.75" fill="#d49a62" opacity="0.64"/><circle cx="333.8" cy="405.9" r="0.71" fill="#b86e34" opacity="0.71"/><circle cx="325.2" cy="399.8" r="0.78" fill="#a8622c" opacity="0.85"/><circle cx="334.5" cy="424.2" r="1.04" fill="#c88448" opacity="0.57"/><circle cx="337.1" cy="415.9" r="0.67" fill="#c07a40" opacity="0.74"/><circle cx="344.0" cy="417.8" r="0.80" fill="#a8622c" opacity="0.64"/><circle cx="351.3" cy="432.6" r="0.57" fill="#c88448" opacity="0.86"/><circle cx="362.1" cy="428.3" r="0.76" fill="#b86e34" opacity="0.73"/><circle cx="334.9" cy="409.4" r="0.82" fill="#d49a62" opacity="0.63"/><circle cx="348.1" cy="426.8" r="0.55" fill="#d49a62" opacity="0.85"/><circle cx="369.5" cy="415.5" r="0.93" fill="#c07a40" opacity="0.76"/><circle cx="367.8" cy="391.0" r="0.82" fill="#b86e34" opacity="0.85"/><circle cx="362.9" cy="393.4" r="0.86" fill="#cc8a50" opacity="0.65"/><circle cx="359.7" cy="433.3" r="0.82" fill="#d49a62" opacity="0.64"/><circle cx="345.6" cy="416.6" r="0.76" fill="#c88448" opacity="0.60"/><circle cx="364.9" cy="434.5" r="0.70" fill="#c88448" opacity="0.67"/><circle cx="322.5" cy="433.6" r="0.76" fill="#c88448" opacity="0.81"/><circle cx="358.2" cy="412.8" r="0.82" fill="#c07a40" opacity="0.88"/><circle cx="336.9" cy="398.7" r="0.80" fill="#b86e34" opacity="0.60"/><circle cx="337.1" cy="416.9" r="0.79" fill="#c88448" opacity="0.72"/><circle cx="344.5" cy="409.6" r="0.72" fill="#cc8a50" opacity="0.88"/><circle cx="331.5" cy="409.9" r="1.00" fill="#cc8a50" opacity="0.88"/><circle cx="360.2" cy="403.3" r="0.59" fill="#c88448" opacity="0.61"/><circle cx="333.3" cy="396.7" r="0.97" fill="#b86e34" opacity="0.80"/><circle cx="346.3" cy="411.7" r="0.74" fill="#d49a62" opacity="0.86"/><circle cx="346.0" cy="417.7" r="0.62" fill="#cc8a50" opacity="0.88"/><circle cx="326.6" cy="399.3" r="0.60" fill="#c88448" opacity="0.84"/><circle cx="322.5" cy="392.4" r="0.72" fill="#c88448" opacity="0.74"/><circle cx="356.7" cy="434.1" r="0.56" fill="#c07a40" opacity="0.80"/><circle cx="360.7" cy="437.9" r="0.92" fill="#d49a62" opacity="0.87"/><circle cx="355.3" cy="400.6" r="0.99" fill="#c88448" opacity="0.81"/><circle cx="332.6" cy="391.0" r="0.87" fill="#d49a62" opacity="0.74"/><circle cx="345.7" cy="401.0" r="0.68" fill="#b86e34" opacity="0.81"/><circle cx="322.7" cy="421.7" r="0.84" fill="#a8622c" opacity="0.75"/><circle cx="338.0" cy="430.2" r="1.04" fill="#d49a62" opacity="0.70"/><circle cx="350.6" cy="426.6" r="0.59" fill="#c07a40" opacity="0.81"/><circle cx="352.2" cy="436.7" r="0.63" fill="#cc8a50" opacity="0.76"/><circle cx="325.6" cy="394.5" r="0.93" fill="#cc8a50" opacity="0.74"/><circle cx="361.1" cy="432.6" r="0.85" fill="#a8622c" opacity="0.72"/><circle cx="367.9" cy="409.8" r="0.78" fill="#c07a40" opacity="0.86"/><circle cx="361.1" cy="395.5" r="1.00" fill="#c07a40" opacity="0.90"/><circle cx="356.8" cy="402.6" r="1.04" fill="#d49a62" opacity="0.89"/><circle cx="339.3" cy="418.0" r="0.92" fill="#cc8a50" opacity="0.75"/><circle cx="334.8" cy="398.3" r="0.62" fill="#b86e34" opacity="0.57"/><circle cx="360.6" cy="435.6" r="0.88" fill="#d49a62" opacity="0.88"/><circle cx="369.4" cy="422.2" r="0.55" fill="#c07a40" opacity="0.67"/><circle cx="366.7" cy="408.2" r="0.67" fill="#cc8a50" opacity="0.88"/><circle cx="345.8" cy="412.5" r="0.95" fill="#b86e34" opacity="0.79"/><circle cx="338.2" cy="392.1" r="0.65" fill="#c88448" opacity="0.75"/><circle cx="341.2" cy="392.2" r="0.78" fill="#c07a40" opacity="0.59"/><circle cx="337.3" cy="418.6" r="0.99" fill="#b86e34" opacity="0.57"/><circle cx="341.0" cy="428.7" r="0.99" fill="#b86e34" opacity="0.69"/><circle cx="324.0" cy="433.7" r="0.66" fill="#c88448" opacity="0.85"/><circle cx="352.8" cy="430.7" r="0.81" fill="#d49a62" opacity="0.87"/><circle cx="360.8" cy="432.7" r="1.02" fill="#b86e34" opacity="0.87"/><circle cx="368.7" cy="395.3" r="0.66" fill="#b86e34" opacity="0.56"/><circle cx="361.9" cy="412.0" r="0.96" fill="#a8622c" opacity="0.69"/><circle cx="335.9" cy="416.2" r="0.71" fill="#a8622c" opacity="0.69"/><circle cx="360.9" cy="431.4" r="0.88" fill="#d49a62" opacity="0.56"/><circle cx="355.7" cy="395.2" r="0.92" fill="#b86e34" opacity="0.76"/><circle cx="368.2" cy="407.5" r="0.58" fill="#cc8a50" opacity="0.70"/><circle cx="348.9" cy="395.6" r="0.70" fill="#a8622c" opacity="0.81"/><circle cx="334.8" cy="392.6" r="0.72" fill="#c07a40" opacity="0.82"/><circle cx="363.5" cy="428.7" r="0.89" fill="#c07a40" opacity="0.74"/><circle cx="369.4" cy="415.9" r="0.73" fill="#d49a62" opacity="0.76"/><circle cx="337.9" cy="426.4" r="0.55" fill="#d49a62" opacity="0.78"/><circle cx="342.3" cy="414.8" r="0.75" fill="#cc8a50" opacity="0.61"/><circle cx="365.1" cy="409.5" r="0.70" fill="#a8622c" opacity="0.70"/><circle cx="366.5" cy="435.4" r="0.63" fill="#cc8a50" opacity="0.73"/><circle cx="344.2" cy="411.3" r="0.63" fill="#d49a62" opacity="0.81"/><circle cx="348.8" cy="432.9" r="0.63" fill="#b86e34" opacity="0.71"/><circle cx="326.1" cy="406.8" r="0.84" fill="#c07a40" opacity="0.68"/><circle cx="335.9" cy="393.0" r="0.69" fill="#c07a40" opacity="0.67"/><circle cx="354.6" cy="435.8" r="0.91" fill="#a8622c" opacity="0.72"/><circle cx="323.6" cy="433.1" r="0.59" fill="#c07a40" opacity="0.67"/><circle cx="350.7" cy="423.2" r="0.87" fill="#c07a40" opacity="0.86"/><circle cx="365.4" cy="408.8" r="0.93" fill="#c07a40" opacity="0.86"/><circle cx="351.4" cy="433.1" r="0.63" fill="#a8622c" opacity="0.87"/><circle cx="369.2" cy="418.6" r="0.73" fill="#c07a40" opacity="0.60"/><circle cx="334.1" cy="395.7" r="0.62" fill="#b86e34" opacity="0.63"/><circle cx="336.9" cy="418.2" r="0.59" fill="#cc8a50" opacity="0.61"/><circle cx="329.5" cy="395.0" r="0.78" fill="#a8622c" opacity="0.86"/><circle cx="334.4" cy="429.5" r="0.66" fill="#a8622c" opacity="0.69"/><circle cx="337.3" cy="417.2" r="0.82" fill="#cc8a50" opacity="0.67"/><circle cx="337.8" cy="417.8" r="0.80" fill="#d49a62" opacity="0.86"/><circle cx="346.4" cy="416.2" r="0.91" fill="#c07a40" opacity="0.62"/><circle cx="328.9" cy="404.2" r="0.88" fill="#c07a40" opacity="0.89"/><circle cx="348.7" cy="396.7" r="0.95" fill="#b86e34" opacity="0.77"/><circle cx="359.9" cy="434.0" r="0.76" fill="#cc8a50" opacity="0.81"/><circle cx="343.7" cy="423.3" r="0.66" fill="#c07a40" opacity="0.83"/><circle cx="362.1" cy="407.0" r="0.58" fill="#cc8a50" opacity="0.64"/><circle cx="327.5" cy="425.1" r="0.64" fill="#d49a62" opacity="0.67"/><circle cx="330.8" cy="436.0" r="0.76" fill="#c07a40" opacity="0.81"/><circle cx="347.7" cy="406.5" r="0.63" fill="#c88448" opacity="0.78"/><circle cx="356.6" cy="436.2" r="0.88" fill="#c07a40" opacity="0.82"/><circle cx="363.4" cy="426.1" r="0.56" fill="#b86e34" opacity="0.87"/><circle cx="348.7" cy="403.0" r="0.67" fill="#a8622c" opacity="0.90"/><circle cx="362.0" cy="418.4" r="0.86" fill="#a8622c" opacity="0.72"/><circle cx="367.1" cy="427.1" r="0.86" fill="#a8622c" opacity="0.69"/><circle cx="339.3" cy="413.4" r="0.75" fill="#d49a62" opacity="0.71"/><circle cx="330.0" cy="414.3" r="0.93" fill="#b86e34" opacity="0.69"/><circle cx="350.7" cy="418.2" r="0.93" fill="#cc8a50" opacity="0.60"/><circle cx="348.3" cy="408.6" r="0.71" fill="#c88448" opacity="0.84"/><circle cx="356.4" cy="435.5" r="0.91" fill="#a8622c" opacity="0.74"/><circle cx="327.2" cy="432.0" r="0.84" fill="#c88448" opacity="0.75"/><circle cx="331.7" cy="432.9" r="0.77" fill="#b86e34" opacity="0.67"/><circle cx="354.2" cy="428.1" r="0.58" fill="#cc8a50" opacity="0.79"/><circle cx="346.5" cy="404.8" r="0.58" fill="#b86e34" opacity="0.72"/><circle cx="365.7" cy="431.1" r="0.65" fill="#d49a62" opacity="0.75"/><circle cx="349.4" cy="389.1" r="0.84" fill="#c88448" opacity="0.88"/><circle cx="340.3" cy="409.7" r="0.58" fill="#cc8a50" opacity="0.90"/><circle cx="336.7" cy="394.7" r="0.77" fill="#c07a40" opacity="0.77"/><circle cx="365.3" cy="436.2" r="0.95" fill="#cc8a50" opacity="0.70"/><circle cx="366.2" cy="427.8" r="0.82" fill="#c07a40" opacity="0.80"/><circle cx="356.8" cy="389.2" r="0.62" fill="#d49a62" opacity="0.68"/><circle cx="335.6" cy="392.1" r="1.00" fill="#c88448" opacity="0.75"/><circle cx="366.5" cy="417.7" r="1.01" fill="#c07a40" opacity="0.78"/><circle cx="351.7" cy="393.4" r="0.86" fill="#cc8a50" opacity="0.67"/><circle cx="336.6" cy="397.9" r="1.00" fill="#c88448" opacity="0.85"/><circle cx="363.4" cy="435.4" r="0.83" fill="#a8622c" opacity="0.77"/><circle cx="333.4" cy="428.8" r="0.85" fill="#c88448" opacity="0.73"/><circle cx="345.8" cy="437.6" r="0.81" fill="#a8622c" opacity="0.59"/><circle cx="327.3" cy="390.3" r="0.71" fill="#c07a40" opacity="0.80"/><circle cx="343.1" cy="413.6" r="0.91" fill="#d49a62" opacity="0.67"/><circle cx="345.3" cy="416.7" r="0.67" fill="#a8622c" opacity="0.67"/><circle cx="350.8" cy="424.8" r="0.82" fill="#d49a62" opacity="0.65"/><circle cx="330.4" cy="429.4" r="0.93" fill="#c88448" opacity="0.60"/><circle cx="332.8" cy="408.9" r="0.65" fill="#a8622c" opacity="0.78"/><circle cx="360.0" cy="410.5" r="0.79" fill="#b86e34" opacity="0.87"/><circle cx="352.3" cy="425.8" r="0.71" fill="#d49a62" opacity="0.64"/><circle cx="325.6" cy="391.9" r="0.65" fill="#b86e34" opacity="0.59"/><circle cx="342.0" cy="394.6" r="0.70" fill="#b86e34" opacity="0.67"/><circle cx="362.1" cy="398.2" r="0.67" fill="#cc8a50" opacity="0.64"/><circle cx="346.4" cy="430.3" r="0.73" fill="#c88448" opacity="0.71"/><circle cx="354.7" cy="402.4" r="1.05" fill="#c07a40" opacity="0.82"/><circle cx="369.2" cy="434.5" r="0.84" fill="#b86e34" opacity="0.73"/><circle cx="347.5" cy="427.1" r="0.65" fill="#a8622c" opacity="0.68"/><circle cx="335.3" cy="424.6" r="0.64" fill="#cc8a50" opacity="0.81"/><circle cx="352.5" cy="402.0" r="0.71" fill="#d49a62" opacity="0.68"/><circle cx="358.8" cy="426.2" r="0.62" fill="#b86e34" opacity="0.85"/><circle cx="330.9" cy="408.8" r="0.97" fill="#a8622c" opacity="0.77"/><circle cx="328.1" cy="419.9" r="1.00" fill="#c88448" opacity="0.77"/><circle cx="367.5" cy="416.5" r="0.85" fill="#a8622c" opacity="0.72"/><circle cx="335.9" cy="426.6" r="0.91" fill="#c88448" opacity="0.90"/><circle cx="336.5" cy="394.4" r="0.93" fill="#b86e34" opacity="0.76"/><circle cx="332.6" cy="418.4" r="0.55" fill="#c07a40" opacity="0.87"/><circle cx="365.8" cy="412.9" r="0.94" fill="#cc8a50" opacity="0.72"/><circle cx="324.0" cy="415.1" r="0.72" fill="#c88448" opacity="0.80"/><circle cx="335.8" cy="417.4" r="0.94" fill="#c07a40" opacity="0.58"/><circle cx="335.1" cy="422.5" r="0.97" fill="#c88448" opacity="0.63"/><circle cx="351.2" cy="433.2" r="0.67" fill="#b86e34" opacity="0.85"/><circle cx="370.2" cy="407.8" r="0.84" fill="#d49a62" opacity="0.70"/><circle cx="331.0" cy="407.1" r="0.88" fill="#c88448" opacity="0.67"/><circle cx="364.0" cy="405.2" r="0.91" fill="#d49a62" opacity="0.55"/><circle cx="328.2" cy="415.3" r="0.73" fill="#c07a40" opacity="0.66"/><circle cx="336.8" cy="430.2" r="0.57" fill="#a8622c" opacity="0.83"/><circle cx="347.1" cy="425.4" r="1.00" fill="#c07a40" opacity="0.88"/><circle cx="322.5" cy="395.2" r="0.79" fill="#b86e34" opacity="0.71"/><circle cx="354.5" cy="413.6" r="0.83" fill="#cc8a50" opacity="0.84"/><circle cx="344.2" cy="392.2" r="1.05" fill="#cc8a50" opacity="0.60"/><circle cx="335.0" cy="428.6" r="1.05" fill="#a8622c" opacity="0.75"/><circle cx="357.7" cy="430.9" r="0.58" fill="#cc8a50" opacity="0.70"/><circle cx="350.6" cy="433.4" r="0.60" fill="#c88448" opacity="0.58"/><circle cx="345.0" cy="424.7" r="0.74" fill="#d49a62" opacity="0.71"/><circle cx="368.1" cy="391.2" r="0.79" fill="#cc8a50" opacity="0.65"/><circle cx="324.0" cy="398.7" r="1.04" fill="#b86e34" opacity="0.73"/><circle cx="350.2" cy="422.3" r="0.99" fill="#b86e34" opacity="0.57"/><circle cx="330.6" cy="397.6" r="0.55" fill="#b86e34" opacity="0.66"/><circle cx="369.7" cy="392.1" r="0.82" fill="#b86e34" opacity="0.82"/><circle cx="343.2" cy="426.3" r="0.99" fill="#d49a62" opacity="0.77"/><circle cx="346.0" cy="425.5" r="0.57" fill="#c07a40" opacity="0.60"/><circle cx="360.9" cy="433.9" r="0.63" fill="#cc8a50" opacity="0.65"/><circle cx="326.3" cy="413.4" r="0.76" fill="#d49a62" opacity="0.85"/><circle cx="326.7" cy="431.8" r="0.64" fill="#c88448" opacity="0.63"/><circle cx="325.0" cy="413.4" r="1.00" fill="#a8622c" opacity="0.69"/><circle cx="339.1" cy="392.4" r="1.03" fill="#a8622c" opacity="0.79"/><circle cx="363.7" cy="408.1" r="0.73" fill="#d49a62" opacity="0.87"/><rect x="323.8" y="433.5" width="9.6" height="1.8" fill="#4a3c34" opacity="0.45"/></g>
</g>
<g clip-path="url(#clip10)">
<rect x="48" y="443.0" width="48" height="47.8" filter="url(#n_heart1)"/>
<g><polygon points="50.76,442.47 50.73,443.15 50.69,444.03 50.64,445.07 50.59,446.25 50.53,447.53 50.47,448.88 50.42,450.27 50.36,451.67 50.29,453.15 50.22,454.77 50.13,456.49 50.05,458.25 49.98,460.01 49.91,461.72 49.87,463.33 49.86,464.80 49.86,466.10 49.87,467.30 49.90,468.40 49.95,469.46 50.01,470.48 50.10,471.50 50.22,472.53 50.37,473.61 50.55,474.73 50.77,475.84 51.02,476.95 51.29,478.05 51.58,479.16 51.88,480.26 52.18,481.37 52.48,482.49 52.81,483.69 53.18,484.99 53.58,486.34 53.97,487.66 54.35,488.92 54.69,490.05 54.98,491.00 55.19,491.71 56.61,491.29 56.40,490.57 56.11,489.62 55.77,488.49 55.39,487.24 55.00,485.91 54.61,484.58 54.24,483.29 53.92,482.11 53.61,480.99 53.31,479.88 53.02,478.78 52.73,477.69 52.47,476.61 52.22,475.53 52.01,474.46 51.83,473.39 51.69,472.35 51.58,471.35 51.49,470.37 51.43,469.38 51.39,468.36 51.36,467.27 51.35,466.09 51.34,464.80 51.36,463.36 51.40,461.77 51.46,460.07 51.54,458.31 51.62,456.56 51.70,454.84 51.78,453.21 51.84,451.73 51.90,450.33 51.96,448.94 52.02,447.59 52.07,446.31 52.13,445.14 52.17,444.09 52.21,443.22 52.24,442.53" fill="#dcd4d8" opacity="0.92"/><polygon points="55.89,442.47 55.86,443.18 55.83,444.13 55.79,445.27 55.75,446.52 55.69,447.84 55.64,449.17 55.57,450.46 55.49,451.64 55.39,452.73 55.26,453.83 55.10,454.92 54.95,456.02 54.80,457.13 54.68,458.25 54.61,459.37 54.59,460.51 54.63,461.63 54.72,462.73 54.84,463.82 54.99,464.91 55.17,466.00 55.37,467.10 55.58,468.21 55.81,469.36 56.05,470.53 56.31,471.70 56.60,472.87 56.90,474.06 57.22,475.28 57.55,476.54 57.88,477.84 58.21,479.19 58.58,480.71 58.99,482.42 59.43,484.23 59.86,486.05 60.28,487.80 60.66,489.38 60.98,490.71 61.21,491.69 62.79,491.31 62.55,490.33 62.23,489.00 61.86,487.42 61.44,485.67 61.00,483.85 60.57,482.04 60.15,480.33 59.79,478.81 59.45,477.44 59.11,476.13 58.79,474.88 58.47,473.66 58.17,472.48 57.89,471.32 57.63,470.18 57.39,469.04 57.17,467.91 56.96,466.80 56.77,465.72 56.59,464.67 56.45,463.62 56.33,462.58 56.25,461.54 56.21,460.49 56.22,459.44 56.30,458.39 56.41,457.32 56.55,456.24 56.71,455.15 56.86,454.04 57.00,452.91 57.11,451.76 57.19,450.55 57.25,449.25 57.31,447.91 57.37,446.58 57.41,445.32 57.45,444.19 57.48,443.24 57.51,442.53" fill="#dcd4d8" opacity="0.92"/><polygon points="62.09,442.49 62.08,443.17 62.07,444.04 62.05,445.09 62.04,446.27 62.03,447.56 62.03,448.92 62.05,450.32 62.09,451.74 62.15,453.24 62.23,454.87 62.32,456.59 62.43,458.36 62.55,460.12 62.66,461.83 62.78,463.44 62.89,464.90 63.00,466.21 63.12,467.43 63.28,468.56 63.46,469.62 63.64,470.64 63.81,471.62 63.98,472.60 64.15,473.58 64.31,474.61 64.49,475.69 64.67,476.78 64.84,477.83 65.02,478.82 65.20,479.70 65.37,480.44 65.48,481.01 65.72,480.99 65.74,480.42 65.80,479.66 65.84,478.76 65.87,477.75 65.88,476.68 65.88,475.58 65.87,474.48 65.85,473.42 65.82,472.40 65.77,471.40 65.72,470.40 65.66,469.38 65.60,468.31 65.53,467.19 65.42,466.00 65.31,464.70 65.20,463.26 65.09,461.66 64.97,459.96 64.86,458.21 64.75,456.45 64.65,454.74 64.57,453.13 64.51,451.66 64.48,450.28 64.46,448.90 64.46,447.56 64.46,446.29 64.48,445.12 64.50,444.08 64.51,443.20 64.51,442.51" fill="#dcd4d8" opacity="0.92"/><polygon points="67.39,442.48 67.35,443.90 67.29,445.83 67.21,448.13 67.14,450.67 67.07,453.31 67.01,455.92 66.98,458.36 66.99,460.51 67.04,462.35 67.12,464.02 67.22,465.57 67.34,467.05 67.47,468.53 67.61,470.07 67.75,471.72 67.89,473.54 68.05,475.68 68.22,478.11 68.41,480.72 68.60,483.36 68.78,485.89 68.95,488.19 69.09,490.12 69.19,491.54 70.41,491.46 70.30,490.03 70.16,488.10 70.00,485.80 69.81,483.27 69.62,480.63 69.43,478.03 69.26,475.59 69.11,473.46 68.96,471.62 68.82,469.96 68.68,468.42 68.55,466.95 68.43,465.48 68.33,463.95 68.25,462.31 68.21,460.49 68.20,458.37 68.23,455.94 68.28,453.34 68.35,450.71 68.43,448.17 68.50,445.87 68.57,443.94 68.61,442.52" fill="#dcd4d8" opacity="0.92"/><polygon points="72.02,442.52 72.05,443.91 72.09,445.77 72.14,447.98 72.20,450.43 72.26,453.02 72.31,455.64 72.37,458.18 72.42,460.52 72.47,462.75 72.52,465.00 72.57,467.25 72.62,469.49 72.67,471.70 72.72,473.85 72.77,475.93 72.82,477.93 72.88,479.90 72.95,481.92 73.03,483.91 73.10,485.82 73.17,487.60 73.23,489.18 73.28,490.51 73.32,491.53 75.08,491.47 75.04,490.44 74.98,489.11 74.92,487.53 74.85,485.75 74.78,483.84 74.71,481.86 74.64,479.85 74.58,477.87 74.52,475.89 74.47,473.81 74.42,471.66 74.37,469.46 74.32,467.22 74.27,464.96 74.23,462.71 74.18,460.48 74.12,458.14 74.07,455.60 74.01,452.98 73.95,450.39 73.90,447.94 73.85,445.73 73.81,443.87 73.78,442.48" fill="#dcd4d8" opacity="0.92"/><polygon points="77.08,446.99 77.02,447.93 76.89,449.19 76.73,450.69 76.57,452.34 76.40,454.08 76.24,455.82 76.10,457.48 76.00,458.98 75.92,460.34 75.85,461.66 75.78,462.95 75.71,464.22 75.66,465.47 75.62,466.71 75.60,467.95 75.63,469.20 75.68,470.52 75.77,471.92 75.87,473.35 76.00,474.75 76.13,476.07 76.26,477.26 76.34,478.25 76.38,479.01 76.62,478.99 76.58,478.24 76.52,477.24 76.49,476.05 76.45,474.72 76.41,473.32 76.38,471.89 76.37,470.50 76.37,469.20 76.41,467.96 76.43,466.73 76.47,465.50 76.52,464.26 76.59,463.00 76.66,461.71 76.73,460.39 76.80,459.02 76.88,457.53 76.94,455.87 77.01,454.13 77.08,452.38 77.15,450.71 77.20,449.21 77.26,447.95 77.32,447.01" fill="#dcd4d8" opacity="0.92"/><polygon points="80.26,442.37 80.19,443.09 80.10,444.04 80.00,445.17 79.89,446.43 79.76,447.75 79.63,449.08 79.50,450.36 79.36,451.54 79.22,452.64 79.06,453.73 78.89,454.83 78.72,455.92 78.54,457.02 78.37,458.11 78.21,459.22 78.06,460.32 77.92,461.42 77.78,462.51 77.63,463.60 77.50,464.70 77.37,465.81 77.27,466.92 77.19,468.04 77.15,469.17 77.14,470.25 77.15,471.29 77.18,472.31 77.24,473.33 77.32,474.39 77.41,475.50 77.53,476.71 77.66,478.04 77.83,479.61 78.04,481.44 78.28,483.41 78.54,485.42 78.80,487.36 79.03,489.12 79.22,490.59 79.36,491.67 82.04,491.33 81.90,490.24 81.70,488.77 81.47,487.01 81.22,485.07 80.96,483.07 80.72,481.11 80.51,479.31 80.34,477.76 80.21,476.45 80.10,475.26 80.01,474.17 79.93,473.16 79.88,472.19 79.85,471.23 79.84,470.26 79.85,469.23 79.89,468.19 79.96,467.14 80.06,466.08 80.18,465.01 80.31,463.94 80.45,462.86 80.60,461.77 80.74,460.68 80.88,459.60 81.04,458.52 81.21,457.43 81.38,456.34 81.56,455.24 81.73,454.13 81.89,453.00 82.04,451.86 82.18,450.65 82.32,449.35 82.45,448.00 82.58,446.67 82.69,445.42 82.79,444.28 82.88,443.34 82.94,442.63" fill="#dcd4d8" opacity="0.92"/><polygon points="86.48,442.38 86.43,443.10 86.36,444.05 86.29,445.18 86.20,446.43 86.09,447.74 85.98,449.06 85.84,450.32 85.70,451.47 85.52,452.53 85.31,453.60 85.07,454.68 84.82,455.76 84.57,456.87 84.32,457.98 84.09,459.11 83.90,460.25 83.74,461.37 83.59,462.47 83.45,463.58 83.33,464.69 83.22,465.81 83.15,466.94 83.10,468.07 83.08,469.20 83.09,470.32 83.13,471.44 83.19,472.57 83.27,473.69 83.39,474.82 83.53,475.95 83.71,477.08 83.91,478.22 84.17,479.40 84.49,480.60 84.85,481.80 85.22,482.99 85.60,484.12 85.95,485.20 86.28,486.19 86.55,487.07 86.79,487.88 87.01,488.65 87.22,489.38 87.40,490.03 87.57,490.63 87.72,491.15 87.84,491.59 87.94,491.94 91.06,491.06 90.96,490.71 90.84,490.27 90.69,489.75 90.52,489.15 90.33,488.49 90.12,487.76 89.90,486.98 89.65,486.13 89.36,485.20 89.03,484.18 88.67,483.11 88.30,481.99 87.95,480.86 87.61,479.73 87.32,478.63 87.09,477.58 86.90,476.55 86.74,475.50 86.61,474.45 86.50,473.41 86.42,472.36 86.36,471.31 86.33,470.25 86.32,469.20 86.34,468.16 86.38,467.12 86.45,466.07 86.55,465.02 86.67,463.96 86.80,462.89 86.95,461.82 87.10,460.75 87.28,459.70 87.49,458.65 87.73,457.58 87.98,456.50 88.23,455.39 88.48,454.26 88.71,453.11 88.90,451.93 89.06,450.69 89.20,449.37 89.32,448.01 89.43,446.67 89.52,445.41 89.60,444.27 89.66,443.33 89.72,442.62" fill="#dcd4d8" opacity="0.92"/><polygon points="92.85,442.44 92.82,443.41 92.77,444.70 92.73,446.24 92.67,447.94 92.61,449.74 92.56,451.56 92.50,453.32 92.45,454.94 92.39,456.46 92.34,457.97 92.29,459.47 92.23,460.97 92.18,462.46 92.13,463.96 92.09,465.45 92.05,466.95 92.01,468.45 91.97,469.95 91.94,471.44 91.91,472.94 91.88,474.44 91.86,475.95 91.85,477.47 91.85,479.00 91.85,480.64 91.87,482.41 91.90,484.23 91.93,486.03 91.97,487.74 92.00,489.28 92.03,490.57 92.05,491.53 95.55,491.47 95.54,490.50 95.51,489.21 95.48,487.67 95.44,485.97 95.41,484.17 95.38,482.36 95.36,480.61 95.35,479.00 95.36,477.49 95.37,475.98 95.39,474.49 95.42,473.00 95.45,471.52 95.48,470.03 95.52,468.54 95.55,467.05 95.59,465.55 95.64,464.07 95.69,462.58 95.74,461.09 95.80,459.60 95.85,458.10 95.90,456.58 95.95,455.06 96.01,453.43 96.06,451.67 96.12,449.86 96.18,448.06 96.23,446.35 96.28,444.81 96.32,443.52 96.35,442.56" fill="#dcd4d8" opacity="0.92"/><polygon points="48,479.0 49.6,483.0 50.6,491.0 48,491.0" fill="#dcd4d8"/></g>
</g>
<g clip-path="url(#clip11)">
<rect x="104" y="443.0" width="48" height="47.8" filter="url(#n_liver1)"/>
</g>
<g clip-path="url(#clip12)">
<rect x="159" y="443.0" width="48" height="47.8" filter="url(#n_spleen1)"/>
<g><g filter="url(#spk)"><rect x="159" y="443.0" width="13" height="48" fill="url(#pinkL)"/><ellipse cx="206" cy="461.0" rx="4" ry="20" fill="url(#pinkR)" opacity="0.7"/><ellipse cx="181" cy="443.0" rx="18" ry="4" fill="url(#pinkR)" opacity="0.6"/><ellipse cx="199" cy="489.0" rx="8" ry="4" fill="url(#pinkR)" opacity="0.5"/></g></g>
</g>
<g clip-path="url(#clip13)">
<rect x="213" y="443.0" width="48" height="47.8" filter="url(#n_lung1)"/>
<g><g filter="url(#lumpy)"><ellipse cx="217.8" cy="451.4" rx="2.4" ry="3.6" transform="rotate(0 217.8 451.4)" fill="#e2d8e0"/><ellipse cx="223.9" cy="453.3" rx="2.4" ry="3" transform="rotate(0 223.9 453.3)" fill="#e2d8e0"/><ellipse cx="232.3" cy="450.8" rx="2.4" ry="3" transform="rotate(0 232.3 450.8)" fill="#e2d8e0"/><ellipse cx="239.5" cy="455.0" rx="3" ry="3.6" transform="rotate(0 239.5 455.0)" fill="#e2d8e0"/><ellipse cx="244.8" cy="453.9" rx="2.4" ry="3.6" transform="rotate(0 244.8 453.9)" fill="#e2d8e0"/><ellipse cx="251.9" cy="450.2" rx="2.7" ry="3.6" transform="rotate(0 251.9 450.2)" fill="#e2d8e0"/><ellipse cx="258.0" cy="447.8" rx="3" ry="2.4" transform="rotate(0 258.0 447.8)" fill="#e2d8e0"/><ellipse cx="258.8" cy="459.3" rx="2.4" ry="3" transform="rotate(0 258.8 459.3)" fill="#e2d8e0"/><ellipse cx="216.0" cy="459.3" rx="1.8" ry="3" transform="rotate(0 216.0 459.3)" fill="#e2d8e0"/><ellipse cx="226.3" cy="460.0" rx="2.4" ry="2.4" transform="rotate(0 226.3 460.0)" fill="#e2d8e0"/><ellipse cx="234.7" cy="462.3" rx="2.4" ry="2.4" transform="rotate(0 234.7 462.3)" fill="#e2d8e0"/><ellipse cx="244.4" cy="462.9" rx="2.4" ry="1.8" transform="rotate(0 244.4 462.9)" fill="#e2d8e0"/><ellipse cx="219.6" cy="470.7" rx="3" ry="3.6" transform="rotate(0 219.6 470.7)" fill="#e2d8e0"/><ellipse cx="229.3" cy="469.5" rx="3" ry="2.4" transform="rotate(0 229.3 469.5)" fill="#e2d8e0"/><ellipse cx="244.4" cy="475.6" rx="5.4" ry="7" transform="rotate(0 244.4 475.6)" fill="#e2d8e0"/><ellipse cx="232.0" cy="479.0" rx="3.9" ry="5.1" transform="rotate(0 232.0 479.0)" fill="#e2d8e0"/><ellipse cx="257.8" cy="472.5" rx="4" ry="9" transform="rotate(0 257.8 472.5)" fill="#e2d8e0"/><ellipse cx="217.8" cy="482.8" rx="2.4" ry="3.6" transform="rotate(0 217.8 482.8)" fill="#e2d8e0"/><ellipse cx="225.0" cy="485.8" rx="2.4" ry="3" transform="rotate(0 225.0 485.8)" fill="#e2d8e0"/><ellipse cx="239.5" cy="486.4" rx="2.4" ry="4" transform="rotate(0 239.5 486.4)" fill="#e2d8e0"/><ellipse cx="249.8" cy="487.1" rx="3" ry="3" transform="rotate(0 249.8 487.1)" fill="#e2d8e0"/><ellipse cx="237.0" cy="467.0" rx="1.8" ry="2.4" transform="rotate(0 237.0 467.0)" fill="#e2d8e0"/><ellipse cx="224.5" cy="476.8" rx="1.8" ry="2.4" transform="rotate(0 224.5 476.8)" fill="#e2d8e0"/><ellipse cx="259.4" cy="469.9" rx="0.73" ry="0.97" transform="rotate(138 259.4 469.9)" fill="#e2d8e0" opacity="0.85"/><ellipse cx="260.5" cy="463.2" rx="0.56" ry="0.84" transform="rotate(12 260.5 463.2)" fill="#e2d8e0" opacity="0.85"/><ellipse cx="243.9" cy="490.6" rx="0.55" ry="1.18" transform="rotate(38 243.9 490.6)" fill="#e2d8e0" opacity="0.85"/><ellipse cx="257.6" cy="469.7" rx="0.67" ry="0.53" transform="rotate(28 257.6 469.7)" fill="#e2d8e0" opacity="0.85"/><ellipse cx="256.3" cy="452.0" rx="0.83" ry="1.00" transform="rotate(80 256.3 452.0)" fill="#e2d8e0" opacity="0.85"/><ellipse cx="247.3" cy="449.0" rx="0.87" ry="0.56" transform="rotate(39 247.3 449.0)" fill="#e2d8e0" opacity="0.85"/><ellipse cx="245.4" cy="452.1" rx="0.49" ry="0.95" transform="rotate(115 245.4 452.1)" fill="#e2d8e0" opacity="0.85"/><ellipse cx="213.3" cy="475.4" rx="0.81" ry="0.50" transform="rotate(102 213.3 475.4)" fill="#e2d8e0" opacity="0.85"/><ellipse cx="213.0" cy="469.6" rx="0.83" ry="0.85" transform="rotate(65 213.0 469.6)" fill="#e2d8e0" opacity="0.85"/><ellipse cx="251.1" cy="452.3" rx="0.73" ry="0.95" transform="rotate(8 251.1 452.3)" fill="#e2d8e0" opacity="0.85"/><ellipse cx="256.1" cy="451.7" rx="0.95" ry="0.92" transform="rotate(2 256.1 451.7)" fill="#e2d8e0" opacity="0.85"/><ellipse cx="227.5" cy="471.0" rx="0.72" ry="1.32" transform="rotate(5 227.5 471.0)" fill="#e2d8e0" opacity="0.85"/><ellipse cx="252.8" cy="484.4" rx="0.51" ry="0.96" transform="rotate(9 252.8 484.4)" fill="#e2d8e0" opacity="0.85"/><ellipse cx="240.8" cy="476.3" rx="0.60" ry="1.21" transform="rotate(44 240.8 476.3)" fill="#e2d8e0" opacity="0.85"/><ellipse cx="215.7" cy="466.2" rx="0.92" ry="0.77" transform="rotate(39 215.7 466.2)" fill="#e2d8e0" opacity="0.85"/><ellipse cx="244.4" cy="475.1" rx="0.49" ry="0.65" transform="rotate(112 244.4 475.1)" fill="#e2d8e0" opacity="0.85"/><ellipse cx="250.9" cy="449.9" rx="0.85" ry="1.09" transform="rotate(7 250.9 449.9)" fill="#e2d8e0" opacity="0.85"/><ellipse cx="245.7" cy="466.3" rx="0.47" ry="0.62" transform="rotate(46 245.7 466.3)" fill="#e2d8e0" opacity="0.85"/><ellipse cx="246.9" cy="450.2" rx="0.81" ry="1.28" transform="rotate(102 246.9 450.2)" fill="#e2d8e0" opacity="0.85"/><ellipse cx="246.2" cy="448.5" rx="1.07" ry="1.35" transform="rotate(155 246.2 448.5)" fill="#e2d8e0" opacity="0.85"/><ellipse cx="224.2" cy="471.4" rx="0.93" ry="0.62" transform="rotate(24 224.2 471.4)" fill="#e2d8e0" opacity="0.85"/><ellipse cx="256.2" cy="469.9" rx="1.04" ry="0.88" transform="rotate(169 256.2 469.9)" fill="#e2d8e0" opacity="0.85"/><ellipse cx="247.3" cy="452.3" rx="0.57" ry="1.34" transform="rotate(19 247.3 452.3)" fill="#e2d8e0" opacity="0.85"/><ellipse cx="259.3" cy="473.8" rx="1.06" ry="0.67" transform="rotate(8 259.3 473.8)" fill="#e2d8e0" opacity="0.85"/><ellipse cx="257.8" cy="468.8" rx="0.60" ry="1.04" transform="rotate(26 257.8 468.8)" fill="#e2d8e0" opacity="0.85"/><ellipse cx="246.5" cy="473.2" rx="0.86" ry="0.84" transform="rotate(73 246.5 473.2)" fill="#e2d8e0" opacity="0.85"/><ellipse cx="224.7" cy="446.0" rx="0.76" ry="0.80" transform="rotate(68 224.7 446.0)" fill="#e2d8e0" opacity="0.85"/><ellipse cx="218.8" cy="479.6" rx="0.80" ry="0.59" transform="rotate(81 218.8 479.6)" fill="#e2d8e0" opacity="0.85"/><ellipse cx="233.6" cy="483.1" rx="0.65" ry="0.78" transform="rotate(96 233.6 483.1)" fill="#e2d8e0" opacity="0.85"/><ellipse cx="253.5" cy="444.0" rx="1.07" ry="0.57" transform="rotate(5 253.5 444.0)" fill="#e2d8e0" opacity="0.85"/><ellipse cx="225.5" cy="476.4" rx="1.02" ry="0.87" transform="rotate(24 225.5 476.4)" fill="#e2d8e0" opacity="0.85"/><ellipse cx="231.9" cy="458.3" rx="0.77" ry="0.60" transform="rotate(130 231.9 458.3)" fill="#e2d8e0" opacity="0.85"/><ellipse cx="254.0" cy="455.2" rx="0.72" ry="1.39" transform="rotate(40 254.0 455.2)" fill="#e2d8e0" opacity="0.85"/><ellipse cx="213.3" cy="475.5" rx="0.73" ry="0.88" transform="rotate(44 213.3 475.5)" fill="#e2d8e0" opacity="0.85"/><ellipse cx="242.7" cy="486.4" rx="0.95" ry="0.82" transform="rotate(34 242.7 486.4)" fill="#e2d8e0" opacity="0.85"/></g></g>
</g>
<g clip-path="url(#clip14)">
<rect x="268" y="443.0" width="48" height="47.8" filter="url(#n_kidney1)"/>
<g><line x1="293.5" y1="454.0" x2="298.3" y2="450.7" stroke="#ecdcec" stroke-width="0.65" stroke-linecap="round" opacity="0.6"/><line x1="289.9" y1="476.3" x2="291.0" y2="473.4" stroke="#ecdcec" stroke-width="0.65" stroke-linecap="round" opacity="0.6"/><line x1="280.5" y1="477.1" x2="283.2" y2="475.4" stroke="#ecdcec" stroke-width="0.65" stroke-linecap="round" opacity="0.6"/><line x1="270.4" y1="453.2" x2="272.4" y2="451.4" stroke="#ecdcec" stroke-width="0.65" stroke-linecap="round" opacity="0.6"/><line x1="284.4" y1="467.0" x2="286.8" y2="464.3" stroke="#ecdcec" stroke-width="0.65" stroke-linecap="round" opacity="0.6"/><line x1="286.5" y1="454.8" x2="288.2" y2="451.2" stroke="#ecdcec" stroke-width="0.65" stroke-linecap="round" opacity="0.6"/><line x1="271.7" y1="484.3" x2="275.0" y2="480.8" stroke="#ecdcec" stroke-width="0.65" stroke-linecap="round" opacity="0.6"/><line x1="309.4" y1="463.6" x2="311.3" y2="460.3" stroke="#ecdcec" stroke-width="0.65" stroke-linecap="round" opacity="0.6"/><line x1="286.8" y1="476.1" x2="288.1" y2="474.1" stroke="#ecdcec" stroke-width="0.65" stroke-linecap="round" opacity="0.6"/><line x1="292.8" y1="460.5" x2="294.6" y2="458.7" stroke="#ecdcec" stroke-width="0.65" stroke-linecap="round" opacity="0.6"/><line x1="268.2" y1="471.5" x2="268.8" y2="468.6" stroke="#ecdcec" stroke-width="0.65" stroke-linecap="round" opacity="0.6"/><line x1="275.7" y1="447.2" x2="277.7" y2="445.1" stroke="#ecdcec" stroke-width="0.65" stroke-linecap="round" opacity="0.6"/><line x1="301.6" y1="462.4" x2="304.3" y2="458.4" stroke="#ecdcec" stroke-width="0.65" stroke-linecap="round" opacity="0.6"/><line x1="290.5" y1="486.1" x2="293.3" y2="484.0" stroke="#ecdcec" stroke-width="0.65" stroke-linecap="round" opacity="0.6"/><line x1="300.9" y1="477.0" x2="301.5" y2="474.6" stroke="#ecdcec" stroke-width="0.65" stroke-linecap="round" opacity="0.6"/><line x1="267.2" y1="461.3" x2="271.9" y2="457.9" stroke="#ecdcec" stroke-width="0.65" stroke-linecap="round" opacity="0.6"/><line x1="306.4" y1="450.3" x2="310.1" y2="447.1" stroke="#ecdcec" stroke-width="0.65" stroke-linecap="round" opacity="0.6"/><line x1="306.4" y1="482.4" x2="307.3" y2="479.7" stroke="#ecdcec" stroke-width="0.65" stroke-linecap="round" opacity="0.6"/><line x1="304.5" y1="480.8" x2="307.5" y2="476.1" stroke="#ecdcec" stroke-width="0.65" stroke-linecap="round" opacity="0.6"/><line x1="308.3" y1="451.4" x2="313.1" y2="448.0" stroke="#ecdcec" stroke-width="0.65" stroke-linecap="round" opacity="0.6"/><line x1="282.7" y1="447.8" x2="285.7" y2="444.7" stroke="#ecdcec" stroke-width="0.65" stroke-linecap="round" opacity="0.6"/><line x1="283.5" y1="446.8" x2="286.1" y2="444.7" stroke="#ecdcec" stroke-width="0.65" stroke-linecap="round" opacity="0.6"/><line x1="271.8" y1="489.5" x2="272.9" y2="486.4" stroke="#ecdcec" stroke-width="0.65" stroke-linecap="round" opacity="0.6"/><line x1="272.2" y1="492.6" x2="274.6" y2="487.6" stroke="#ecdcec" stroke-width="0.65" stroke-linecap="round" opacity="0.6"/><line x1="272.1" y1="477.1" x2="273.1" y2="471.6" stroke="#ecdcec" stroke-width="0.65" stroke-linecap="round" opacity="0.6"/><line x1="297.1" y1="485.7" x2="299.6" y2="482.5" stroke="#ecdcec" stroke-width="0.65" stroke-linecap="round" opacity="0.6"/><line x1="305.5" y1="455.7" x2="307.8" y2="453.2" stroke="#ecdcec" stroke-width="0.65" stroke-linecap="round" opacity="0.6"/><line x1="293.0" y1="469.7" x2="296.0" y2="467.7" stroke="#ecdcec" stroke-width="0.65" stroke-linecap="round" opacity="0.6"/><line x1="280.4" y1="478.0" x2="283.2" y2="473.2" stroke="#ecdcec" stroke-width="0.65" stroke-linecap="round" opacity="0.6"/><line x1="270.2" y1="454.8" x2="271.0" y2="452.3" stroke="#ecdcec" stroke-width="0.65" stroke-linecap="round" opacity="0.6"/><line x1="272.8" y1="461.0" x2="274.8" y2="457.9" stroke="#ecdcec" stroke-width="0.65" stroke-linecap="round" opacity="0.6"/><line x1="298.8" y1="477.6" x2="301.1" y2="473.3" stroke="#ecdcec" stroke-width="0.65" stroke-linecap="round" opacity="0.6"/><line x1="299.0" y1="470.5" x2="300.7" y2="468.3" stroke="#ecdcec" stroke-width="0.65" stroke-linecap="round" opacity="0.6"/><line x1="282.3" y1="477.8" x2="284.2" y2="473.1" stroke="#ecdcec" stroke-width="0.65" stroke-linecap="round" opacity="0.6"/><line x1="288.5" y1="466.5" x2="289.2" y2="463.1" stroke="#ecdcec" stroke-width="0.65" stroke-linecap="round" opacity="0.6"/><line x1="269.0" y1="492.8" x2="271.7" y2="488.5" stroke="#ecdcec" stroke-width="0.65" stroke-linecap="round" opacity="0.6"/><line x1="297.9" y1="457.2" x2="302.1" y2="454.6" stroke="#ecdcec" stroke-width="0.65" stroke-linecap="round" opacity="0.6"/><line x1="302.6" y1="467.0" x2="307.6" y2="463.7" stroke="#ecdcec" stroke-width="0.65" stroke-linecap="round" opacity="0.6"/><line x1="270.0" y1="464.6" x2="271.6" y2="460.9" stroke="#ecdcec" stroke-width="0.65" stroke-linecap="round" opacity="0.6"/><line x1="295.6" y1="451.4" x2="299.6" y2="448.3" stroke="#ecdcec" stroke-width="0.65" stroke-linecap="round" opacity="0.6"/><line x1="269.8" y1="477.5" x2="272.1" y2="475.0" stroke="#ecdcec" stroke-width="0.65" stroke-linecap="round" opacity="0.6"/><line x1="300.0" y1="492.2" x2="302.4" y2="487.5" stroke="#ecdcec" stroke-width="0.65" stroke-linecap="round" opacity="0.6"/><line x1="301.8" y1="452.2" x2="304.3" y2="447.9" stroke="#ecdcec" stroke-width="0.65" stroke-linecap="round" opacity="0.6"/><line x1="279.5" y1="455.5" x2="281.9" y2="453.4" stroke="#ecdcec" stroke-width="0.65" stroke-linecap="round" opacity="0.6"/><line x1="272.1" y1="455.6" x2="273.1" y2="452.7" stroke="#ecdcec" stroke-width="0.65" stroke-linecap="round" opacity="0.6"/><line x1="301.1" y1="472.6" x2="305.0" y2="469.8" stroke="#ecdcec" stroke-width="0.65" stroke-linecap="round" opacity="0.6"/><line x1="288.6" y1="446.1" x2="290.4" y2="443.6" stroke="#ecdcec" stroke-width="0.65" stroke-linecap="round" opacity="0.6"/><line x1="301.6" y1="489.1" x2="303.1" y2="485.1" stroke="#ecdcec" stroke-width="0.65" stroke-linecap="round" opacity="0.6"/><g filter="url(#spk)"><ellipse cx="274" cy="475.0" rx="10" ry="14" fill="url(#pinkR)" opacity="0.5"/><ellipse cx="302" cy="453.0" rx="12" ry="10" fill="url(#pinkR)" opacity="0.5"/></g></g>
</g>
<g clip-path="url(#clip15)">
<rect x="322" y="443.0" width="48" height="47.8" filter="url(#n_ki671)"/>
<g><circle cx="325.3" cy="453.0" r="0.70" fill="#b86e34" opacity="0.72"/><circle cx="356.8" cy="447.4" r="0.80" fill="#c07a40" opacity="0.73"/><circle cx="321.5" cy="479.5" r="0.61" fill="#c07a40" opacity="0.72"/><circle cx="359.4" cy="452.4" r="0.69" fill="#b86e34" opacity="0.71"/><circle cx="337.9" cy="444.2" r="0.81" fill="#c88448" opacity="0.61"/><circle cx="322.5" cy="444.9" r="0.57" fill="#cc8a50" opacity="0.63"/><circle cx="344.4" cy="478.2" r="0.80" fill="#a8622c" opacity="0.84"/><circle cx="357.7" cy="470.4" r="0.94" fill="#a8622c" opacity="0.65"/><circle cx="335.6" cy="446.4" r="0.88" fill="#cc8a50" opacity="0.70"/><circle cx="324.9" cy="465.9" r="0.96" fill="#d49a62" opacity="0.61"/><circle cx="334.2" cy="469.5" r="0.62" fill="#c07a40" opacity="0.62"/><circle cx="323.3" cy="442.8" r="1.03" fill="#c88448" opacity="0.66"/><circle cx="339.2" cy="466.0" r="1.02" fill="#b86e34" opacity="0.77"/><circle cx="347.2" cy="467.4" r="0.66" fill="#d49a62" opacity="0.75"/><circle cx="339.7" cy="483.1" r="1.03" fill="#b86e34" opacity="0.76"/><circle cx="333.6" cy="442.6" r="0.56" fill="#c07a40" opacity="0.76"/><circle cx="368.9" cy="487.7" r="0.59" fill="#cc8a50" opacity="0.70"/><circle cx="367.6" cy="457.3" r="1.01" fill="#a8622c" opacity="0.89"/><circle cx="331.8" cy="480.7" r="0.84" fill="#d49a62" opacity="0.79"/><circle cx="339.5" cy="447.1" r="0.93" fill="#a8622c" opacity="0.89"/><circle cx="330.4" cy="442.7" r="0.99" fill="#c88448" opacity="0.62"/><circle cx="347.5" cy="458.3" r="0.66" fill="#d49a62" opacity="0.66"/><circle cx="343.2" cy="464.6" r="1.00" fill="#c07a40" opacity="0.71"/><circle cx="363.0" cy="443.3" r="0.58" fill="#cc8a50" opacity="0.58"/><circle cx="364.8" cy="467.1" r="1.04" fill="#cc8a50" opacity="0.81"/><circle cx="325.2" cy="471.4" r="1.05" fill="#a8622c" opacity="0.83"/><circle cx="326.4" cy="489.3" r="0.56" fill="#c07a40" opacity="0.64"/><circle cx="337.1" cy="477.5" r="0.80" fill="#b86e34" opacity="0.77"/><circle cx="321.9" cy="476.3" r="0.56" fill="#a8622c" opacity="0.73"/><circle cx="358.3" cy="451.2" r="0.59" fill="#c88448" opacity="0.77"/><circle cx="332.6" cy="470.3" r="0.58" fill="#c88448" opacity="0.73"/><circle cx="327.8" cy="456.0" r="0.65" fill="#b86e34" opacity="0.66"/><circle cx="353.7" cy="479.6" r="0.57" fill="#d49a62" opacity="0.89"/><circle cx="361.2" cy="455.7" r="0.63" fill="#a8622c" opacity="0.62"/><circle cx="336.3" cy="488.7" r="0.56" fill="#cc8a50" opacity="0.82"/><circle cx="343.3" cy="455.0" r="1.01" fill="#cc8a50" opacity="0.88"/><circle cx="355.6" cy="454.1" r="0.90" fill="#b86e34" opacity="0.60"/><circle cx="360.0" cy="463.1" r="0.59" fill="#c07a40" opacity="0.83"/><circle cx="369.6" cy="457.3" r="0.81" fill="#d49a62" opacity="0.68"/><circle cx="349.3" cy="470.1" r="1.02" fill="#cc8a50" opacity="0.85"/><circle cx="363.6" cy="477.7" r="0.72" fill="#c07a40" opacity="0.86"/><circle cx="340.1" cy="452.2" r="0.89" fill="#c07a40" opacity="0.77"/><circle cx="350.9" cy="475.1" r="0.56" fill="#a8622c" opacity="0.75"/><circle cx="335.2" cy="453.8" r="0.99" fill="#d49a62" opacity="0.65"/><circle cx="354.3" cy="473.2" r="0.99" fill="#c88448" opacity="0.57"/><circle cx="348.5" cy="443.3" r="1.04" fill="#b86e34" opacity="0.79"/><circle cx="330.0" cy="473.2" r="1.02" fill="#c07a40" opacity="0.84"/><circle cx="347.6" cy="450.5" r="0.95" fill="#c07a40" opacity="0.80"/><circle cx="362.3" cy="469.8" r="0.64" fill="#d49a62" opacity="0.71"/><circle cx="352.6" cy="464.1" r="0.83" fill="#c07a40" opacity="0.59"/><circle cx="327.4" cy="479.1" r="0.98" fill="#cc8a50" opacity="0.72"/><circle cx="367.8" cy="463.5" r="0.60" fill="#d49a62" opacity="0.80"/><circle cx="332.3" cy="465.2" r="0.89" fill="#d49a62" opacity="0.59"/><circle cx="331.2" cy="465.2" r="0.66" fill="#b86e34" opacity="0.64"/><circle cx="323.5" cy="462.5" r="0.71" fill="#a8622c" opacity="0.71"/><circle cx="325.5" cy="479.7" r="0.60" fill="#cc8a50" opacity="0.67"/><circle cx="360.6" cy="480.0" r="0.66" fill="#d49a62" opacity="0.78"/><circle cx="362.3" cy="488.8" r="1.03" fill="#cc8a50" opacity="0.88"/><circle cx="358.8" cy="458.4" r="0.62" fill="#d49a62" opacity="0.71"/><circle cx="362.8" cy="480.4" r="0.70" fill="#c88448" opacity="0.64"/><circle cx="363.1" cy="445.5" r="0.62" fill="#d49a62" opacity="0.62"/><circle cx="343.4" cy="446.3" r="0.58" fill="#c07a40" opacity="0.62"/><circle cx="345.0" cy="445.8" r="1.04" fill="#a8622c" opacity="0.61"/><circle cx="331.0" cy="453.9" r="0.87" fill="#cc8a50" opacity="0.88"/><circle cx="353.7" cy="491.1" r="0.78" fill="#cc8a50" opacity="0.80"/><circle cx="342.7" cy="458.6" r="0.65" fill="#d49a62" opacity="0.70"/><circle cx="354.8" cy="464.2" r="0.82" fill="#c88448" opacity="0.81"/><circle cx="328.7" cy="467.9" r="0.85" fill="#b86e34" opacity="0.63"/><circle cx="328.8" cy="480.4" r="0.56" fill="#a8622c" opacity="0.58"/><circle cx="326.5" cy="473.5" r="0.91" fill="#c07a40" opacity="0.68"/><circle cx="333.2" cy="459.0" r="0.78" fill="#d49a62" opacity="0.70"/><circle cx="350.7" cy="471.1" r="0.82" fill="#a8622c" opacity="0.67"/><circle cx="322.8" cy="464.9" r="0.77" fill="#b86e34" opacity="0.82"/><circle cx="358.7" cy="444.6" r="0.89" fill="#c07a40" opacity="0.71"/><circle cx="326.7" cy="456.9" r="0.78" fill="#d49a62" opacity="0.55"/><circle cx="368.4" cy="442.9" r="1.05" fill="#d49a62" opacity="0.81"/><circle cx="330.2" cy="472.5" r="0.67" fill="#cc8a50" opacity="0.84"/><circle cx="335.1" cy="473.1" r="0.57" fill="#d49a62" opacity="0.81"/><circle cx="353.4" cy="486.5" r="0.69" fill="#c88448" opacity="0.65"/><circle cx="365.0" cy="455.9" r="0.89" fill="#a8622c" opacity="0.64"/><circle cx="330.0" cy="482.5" r="0.90" fill="#a8622c" opacity="0.85"/><circle cx="340.6" cy="452.3" r="0.58" fill="#cc8a50" opacity="0.88"/><circle cx="346.8" cy="457.2" r="0.74" fill="#d49a62" opacity="0.89"/><circle cx="335.8" cy="465.0" r="0.92" fill="#d49a62" opacity="0.81"/><circle cx="322.2" cy="486.7" r="0.87" fill="#a8622c" opacity="0.75"/><circle cx="341.0" cy="476.1" r="0.83" fill="#d49a62" opacity="0.64"/><circle cx="352.9" cy="460.0" r="1.01" fill="#d49a62" opacity="0.60"/><circle cx="340.8" cy="484.5" r="0.73" fill="#b86e34" opacity="0.83"/><circle cx="346.9" cy="450.1" r="0.97" fill="#d49a62" opacity="0.71"/><circle cx="359.0" cy="473.1" r="1.00" fill="#c88448" opacity="0.73"/><circle cx="360.7" cy="454.9" r="0.98" fill="#d49a62" opacity="0.80"/><circle cx="337.5" cy="446.8" r="0.73" fill="#c88448" opacity="0.56"/><circle cx="355.7" cy="477.9" r="0.89" fill="#b86e34" opacity="0.59"/><circle cx="331.1" cy="462.8" r="0.66" fill="#b86e34" opacity="0.87"/><circle cx="324.4" cy="450.8" r="0.90" fill="#d49a62" opacity="0.70"/><circle cx="351.7" cy="488.1" r="0.79" fill="#cc8a50" opacity="0.78"/><circle cx="357.4" cy="451.8" r="1.03" fill="#c07a40" opacity="0.82"/><circle cx="369.8" cy="482.3" r="1.05" fill="#c88448" opacity="0.64"/><circle cx="323.8" cy="475.4" r="1.03" fill="#cc8a50" opacity="0.69"/><circle cx="351.6" cy="451.9" r="0.94" fill="#a8622c" opacity="0.63"/><circle cx="327.7" cy="480.4" r="0.99" fill="#c88448" opacity="0.66"/><circle cx="346.9" cy="443.1" r="0.75" fill="#c07a40" opacity="0.79"/><circle cx="326.3" cy="485.3" r="0.87" fill="#c07a40" opacity="0.80"/><circle cx="332.4" cy="443.9" r="1.03" fill="#d49a62" opacity="0.89"/><circle cx="323.5" cy="485.2" r="0.58" fill="#c07a40" opacity="0.65"/><circle cx="346.7" cy="460.5" r="1.02" fill="#cc8a50" opacity="0.62"/><circle cx="328.5" cy="470.4" r="0.87" fill="#d49a62" opacity="0.68"/><circle cx="365.4" cy="447.2" r="0.65" fill="#b86e34" opacity="0.67"/><circle cx="328.7" cy="453.4" r="1.01" fill="#a8622c" opacity="0.70"/><circle cx="348.2" cy="468.1" r="1.00" fill="#a8622c" opacity="0.63"/><circle cx="345.8" cy="490.7" r="0.65" fill="#c88448" opacity="0.78"/><circle cx="360.9" cy="445.3" r="0.76" fill="#cc8a50" opacity="0.61"/><circle cx="339.2" cy="457.9" r="0.80" fill="#d49a62" opacity="0.64"/><circle cx="330.1" cy="485.8" r="0.74" fill="#cc8a50" opacity="0.57"/><circle cx="330.3" cy="448.6" r="0.91" fill="#cc8a50" opacity="0.73"/><circle cx="364.9" cy="444.5" r="0.83" fill="#cc8a50" opacity="0.63"/><circle cx="325.5" cy="466.6" r="0.95" fill="#c07a40" opacity="0.67"/><circle cx="332.3" cy="457.7" r="0.99" fill="#a8622c" opacity="0.87"/><circle cx="330.0" cy="488.7" r="0.58" fill="#a8622c" opacity="0.57"/><circle cx="325.5" cy="446.4" r="0.64" fill="#b86e34" opacity="0.76"/><circle cx="328.3" cy="449.9" r="0.68" fill="#a8622c" opacity="0.87"/><circle cx="361.4" cy="465.1" r="0.87" fill="#d49a62" opacity="0.81"/><circle cx="344.3" cy="481.0" r="1.02" fill="#b86e34" opacity="0.89"/><circle cx="360.4" cy="475.0" r="0.70" fill="#cc8a50" opacity="0.61"/><circle cx="335.9" cy="477.6" r="0.86" fill="#c07a40" opacity="0.77"/><circle cx="342.0" cy="444.0" r="0.89" fill="#b86e34" opacity="0.63"/><circle cx="329.2" cy="468.1" r="1.00" fill="#b86e34" opacity="0.62"/><circle cx="347.0" cy="444.2" r="0.75" fill="#c07a40" opacity="0.76"/><circle cx="358.3" cy="463.5" r="1.00" fill="#a8622c" opacity="0.77"/><circle cx="352.3" cy="448.2" r="0.71" fill="#b86e34" opacity="0.77"/><circle cx="334.2" cy="451.9" r="0.96" fill="#c88448" opacity="0.84"/><circle cx="321.8" cy="478.7" r="1.00" fill="#c88448" opacity="0.64"/><circle cx="347.7" cy="483.9" r="0.67" fill="#b86e34" opacity="0.59"/><circle cx="331.1" cy="484.5" r="0.83" fill="#a8622c" opacity="0.56"/><circle cx="321.9" cy="478.5" r="0.77" fill="#c07a40" opacity="0.89"/><circle cx="363.4" cy="459.5" r="0.63" fill="#cc8a50" opacity="0.86"/><circle cx="361.0" cy="467.2" r="0.89" fill="#c88448" opacity="0.86"/><circle cx="345.2" cy="483.2" r="0.89" fill="#cc8a50" opacity="0.67"/><circle cx="325.4" cy="481.5" r="0.70" fill="#c07a40" opacity="0.68"/><circle cx="353.4" cy="447.1" r="0.91" fill="#a8622c" opacity="0.76"/><circle cx="327.8" cy="480.2" r="0.97" fill="#a8622c" opacity="0.70"/><circle cx="322.7" cy="482.7" r="0.83" fill="#cc8a50" opacity="0.85"/><circle cx="331.9" cy="478.0" r="0.72" fill="#d49a62" opacity="0.65"/><circle cx="351.8" cy="472.6" r="0.98" fill="#a8622c" opacity="0.60"/><circle cx="345.9" cy="451.8" r="0.73" fill="#d49a62" opacity="0.65"/><circle cx="350.0" cy="484.1" r="0.60" fill="#b86e34" opacity="0.71"/><circle cx="346.1" cy="459.8" r="0.79" fill="#c07a40" opacity="0.60"/><circle cx="335.1" cy="470.1" r="0.91" fill="#d49a62" opacity="0.58"/><circle cx="339.3" cy="473.0" r="0.55" fill="#c88448" opacity="0.62"/><circle cx="336.8" cy="454.9" r="1.02" fill="#c07a40" opacity="0.81"/><circle cx="359.5" cy="447.5" r="0.69" fill="#d49a62" opacity="0.72"/><circle cx="334.7" cy="490.7" r="0.97" fill="#c07a40" opacity="0.71"/><circle cx="325.8" cy="461.2" r="0.81" fill="#cc8a50" opacity="0.58"/><circle cx="331.5" cy="490.4" r="1.01" fill="#d49a62" opacity="0.83"/><circle cx="332.6" cy="491.3" r="0.55" fill="#d49a62" opacity="0.81"/><circle cx="361.3" cy="442.6" r="0.97" fill="#b86e34" opacity="0.56"/><circle cx="355.1" cy="460.5" r="0.79" fill="#cc8a50" opacity="0.79"/><circle cx="364.8" cy="472.7" r="0.87" fill="#d49a62" opacity="0.85"/><circle cx="369.1" cy="455.4" r="0.77" fill="#c88448" opacity="0.82"/><circle cx="363.6" cy="473.0" r="0.61" fill="#b86e34" opacity="0.76"/><circle cx="327.8" cy="484.0" r="0.81" fill="#a8622c" opacity="0.82"/><circle cx="367.5" cy="478.0" r="0.69" fill="#cc8a50" opacity="0.70"/><circle cx="356.0" cy="461.9" r="0.80" fill="#b86e34" opacity="0.76"/><circle cx="365.1" cy="465.1" r="0.85" fill="#b86e34" opacity="0.65"/><circle cx="332.5" cy="490.3" r="0.91" fill="#a8622c" opacity="0.73"/><circle cx="341.8" cy="456.8" r="0.73" fill="#cc8a50" opacity="0.77"/><circle cx="365.0" cy="464.2" r="0.82" fill="#b86e34" opacity="0.88"/><circle cx="326.0" cy="462.1" r="0.71" fill="#d49a62" opacity="0.66"/><circle cx="368.5" cy="448.5" r="0.68" fill="#c88448" opacity="0.68"/><circle cx="331.6" cy="485.7" r="0.69" fill="#d49a62" opacity="0.78"/><circle cx="344.8" cy="455.3" r="0.59" fill="#cc8a50" opacity="0.58"/><circle cx="364.3" cy="458.9" r="0.96" fill="#b86e34" opacity="0.88"/><circle cx="336.7" cy="471.5" r="0.62" fill="#b86e34" opacity="0.85"/><circle cx="342.8" cy="478.4" r="0.66" fill="#c07a40" opacity="0.69"/><circle cx="362.1" cy="463.6" r="0.71" fill="#b86e34" opacity="0.58"/><circle cx="332.8" cy="464.4" r="0.55" fill="#c07a40" opacity="0.56"/><circle cx="323.3" cy="453.9" r="0.62" fill="#cc8a50" opacity="0.57"/><circle cx="326.6" cy="480.0" r="1.03" fill="#c88448" opacity="0.62"/><circle cx="351.1" cy="448.6" r="0.81" fill="#c88448" opacity="0.84"/><circle cx="324.1" cy="464.3" r="0.60" fill="#a8622c" opacity="0.67"/><circle cx="356.0" cy="455.3" r="0.61" fill="#c88448" opacity="0.58"/><circle cx="348.8" cy="451.1" r="0.72" fill="#c88448" opacity="0.68"/><circle cx="330.8" cy="453.2" r="1.03" fill="#b86e34" opacity="0.62"/><circle cx="342.0" cy="467.9" r="0.90" fill="#c07a40" opacity="0.89"/><circle cx="327.3" cy="470.5" r="1.00" fill="#c07a40" opacity="0.85"/><circle cx="354.4" cy="468.7" r="0.69" fill="#a8622c" opacity="0.64"/><circle cx="368.2" cy="464.1" r="0.70" fill="#c07a40" opacity="0.88"/><circle cx="343.1" cy="461.0" r="0.98" fill="#d49a62" opacity="0.74"/><circle cx="330.4" cy="471.5" r="0.90" fill="#d49a62" opacity="0.68"/><circle cx="346.6" cy="447.1" r="0.98" fill="#c88448" opacity="0.65"/><circle cx="344.5" cy="452.3" r="0.92" fill="#d49a62" opacity="0.62"/><circle cx="346.4" cy="472.6" r="0.82" fill="#b86e34" opacity="0.81"/><circle cx="323.7" cy="469.0" r="0.82" fill="#d49a62" opacity="0.60"/><circle cx="354.4" cy="455.4" r="0.65" fill="#b86e34" opacity="0.63"/><circle cx="367.3" cy="444.8" r="1.02" fill="#b86e34" opacity="0.80"/><circle cx="364.9" cy="459.6" r="0.68" fill="#c07a40" opacity="0.65"/><circle cx="351.6" cy="488.9" r="0.94" fill="#d49a62" opacity="0.81"/><circle cx="332.9" cy="479.2" r="0.85" fill="#d49a62" opacity="0.56"/><circle cx="343.0" cy="471.0" r="0.65" fill="#b86e34" opacity="0.62"/><circle cx="369.5" cy="455.9" r="1.02" fill="#cc8a50" opacity="0.72"/><circle cx="352.1" cy="458.7" r="0.70" fill="#c88448" opacity="0.63"/><circle cx="349.1" cy="480.1" r="0.71" fill="#cc8a50" opacity="0.90"/><circle cx="360.0" cy="457.0" r="0.96" fill="#cc8a50" opacity="0.63"/><circle cx="323.7" cy="482.4" r="0.64" fill="#a8622c" opacity="0.84"/><circle cx="336.3" cy="471.0" r="0.91" fill="#d49a62" opacity="0.87"/><circle cx="369.7" cy="464.1" r="0.63" fill="#a8622c" opacity="0.69"/><circle cx="353.5" cy="449.6" r="0.60" fill="#cc8a50" opacity="0.74"/><circle cx="366.3" cy="490.3" r="0.90" fill="#c88448" opacity="0.77"/><circle cx="325.2" cy="488.2" r="1.05" fill="#c07a40" opacity="0.57"/><circle cx="327.6" cy="489.9" r="0.63" fill="#b86e34" opacity="0.66"/><circle cx="328.6" cy="482.0" r="0.82" fill="#b86e34" opacity="0.59"/><circle cx="322.6" cy="474.7" r="0.79" fill="#cc8a50" opacity="0.80"/><circle cx="363.1" cy="483.9" r="0.87" fill="#b86e34" opacity="0.72"/><circle cx="328.8" cy="476.5" r="0.79" fill="#cc8a50" opacity="0.89"/><circle cx="328.7" cy="463.4" r="0.95" fill="#b86e34" opacity="0.61"/><circle cx="323.5" cy="445.8" r="0.88" fill="#c88448" opacity="0.85"/><circle cx="338.3" cy="449.7" r="0.92" fill="#cc8a50" opacity="0.80"/><circle cx="339.2" cy="453.6" r="0.58" fill="#b86e34" opacity="0.79"/><circle cx="339.6" cy="462.6" r="0.90" fill="#c07a40" opacity="0.72"/><circle cx="367.4" cy="466.9" r="0.69" fill="#b86e34" opacity="0.65"/><circle cx="340.6" cy="448.9" r="0.59" fill="#d49a62" opacity="0.84"/><circle cx="347.4" cy="455.4" r="1.02" fill="#c88448" opacity="0.88"/><circle cx="363.9" cy="472.4" r="0.79" fill="#b86e34" opacity="0.57"/><circle cx="348.2" cy="475.9" r="0.55" fill="#b86e34" opacity="0.56"/><circle cx="344.3" cy="454.0" r="0.81" fill="#c07a40" opacity="0.64"/><circle cx="342.0" cy="475.7" r="0.66" fill="#c07a40" opacity="0.78"/><circle cx="349.0" cy="446.0" r="0.78" fill="#c07a40" opacity="0.60"/><circle cx="351.2" cy="449.4" r="0.92" fill="#d49a62" opacity="0.81"/><circle cx="330.4" cy="473.9" r="0.90" fill="#b86e34" opacity="0.61"/><circle cx="338.4" cy="455.0" r="0.96" fill="#b86e34" opacity="0.66"/><circle cx="335.3" cy="474.9" r="0.63" fill="#cc8a50" opacity="0.68"/><circle cx="360.1" cy="485.1" r="0.57" fill="#d49a62" opacity="0.57"/><circle cx="329.9" cy="482.1" r="0.95" fill="#c07a40" opacity="0.78"/><circle cx="335.7" cy="445.2" r="1.00" fill="#b86e34" opacity="0.61"/><circle cx="335.9" cy="485.3" r="1.00" fill="#c88448" opacity="0.77"/><circle cx="357.4" cy="448.2" r="0.71" fill="#cc8a50" opacity="0.77"/><circle cx="340.0" cy="488.0" r="0.82" fill="#c88448" opacity="0.77"/><circle cx="330.9" cy="475.8" r="0.73" fill="#b86e34" opacity="0.65"/><circle cx="344.5" cy="473.0" r="0.84" fill="#c88448" opacity="0.70"/><circle cx="346.2" cy="479.1" r="1.00" fill="#d49a62" opacity="0.68"/><circle cx="346.6" cy="468.1" r="1.01" fill="#c88448" opacity="0.78"/><circle cx="360.5" cy="451.7" r="1.00" fill="#b86e34" opacity="0.72"/><circle cx="363.7" cy="479.0" r="0.88" fill="#b86e34" opacity="0.88"/><circle cx="335.5" cy="444.6" r="0.68" fill="#a8622c" opacity="0.78"/><circle cx="360.8" cy="449.2" r="0.61" fill="#c88448" opacity="0.76"/><circle cx="342.9" cy="450.4" r="0.75" fill="#cc8a50" opacity="0.78"/><circle cx="339.2" cy="484.8" r="0.60" fill="#b86e34" opacity="0.67"/><circle cx="366.4" cy="478.8" r="0.91" fill="#cc8a50" opacity="0.79"/><circle cx="346.8" cy="451.3" r="1.00" fill="#c07a40" opacity="0.65"/><circle cx="358.2" cy="475.8" r="0.86" fill="#cc8a50" opacity="0.68"/><circle cx="332.9" cy="485.7" r="0.76" fill="#d49a62" opacity="0.58"/><circle cx="337.9" cy="454.5" r="0.74" fill="#b86e34" opacity="0.71"/><circle cx="368.7" cy="455.1" r="1.03" fill="#b86e34" opacity="0.88"/><circle cx="353.8" cy="447.7" r="0.58" fill="#c88448" opacity="0.75"/><circle cx="365.0" cy="480.5" r="0.76" fill="#cc8a50" opacity="0.78"/><circle cx="341.4" cy="463.3" r="0.76" fill="#b86e34" opacity="0.56"/><circle cx="341.2" cy="468.2" r="1.03" fill="#d49a62" opacity="0.60"/><circle cx="337.3" cy="444.9" r="0.95" fill="#c07a40" opacity="0.87"/><circle cx="363.8" cy="485.3" r="0.96" fill="#cc8a50" opacity="0.86"/><circle cx="365.1" cy="451.5" r="0.90" fill="#cc8a50" opacity="0.81"/><circle cx="338.2" cy="447.3" r="0.76" fill="#cc8a50" opacity="0.55"/><circle cx="367.2" cy="480.4" r="0.75" fill="#c88448" opacity="0.77"/><circle cx="357.2" cy="474.5" r="0.78" fill="#d49a62" opacity="0.60"/><circle cx="327.0" cy="473.0" r="0.67" fill="#c88448" opacity="0.83"/><circle cx="336.0" cy="454.5" r="0.59" fill="#c88448" opacity="0.75"/><circle cx="353.1" cy="442.6" r="1.05" fill="#b86e34" opacity="0.85"/><circle cx="323.4" cy="472.8" r="0.63" fill="#d49a62" opacity="0.58"/><circle cx="341.9" cy="485.4" r="0.82" fill="#a8622c" opacity="0.61"/><circle cx="358.8" cy="444.4" r="0.72" fill="#cc8a50" opacity="0.71"/><circle cx="323.1" cy="458.2" r="0.74" fill="#c07a40" opacity="0.73"/><circle cx="359.7" cy="468.4" r="0.76" fill="#cc8a50" opacity="0.66"/><circle cx="338.1" cy="490.1" r="0.78" fill="#a8622c" opacity="0.82"/><circle cx="328.9" cy="479.6" r="0.61" fill="#a8622c" opacity="0.79"/><circle cx="332.8" cy="482.3" r="0.57" fill="#cc8a50" opacity="0.86"/><circle cx="345.1" cy="468.3" r="0.67" fill="#d49a62" opacity="0.69"/><circle cx="327.5" cy="468.3" r="0.96" fill="#d49a62" opacity="0.58"/><circle cx="336.9" cy="456.7" r="0.66" fill="#cc8a50" opacity="0.83"/><circle cx="364.4" cy="468.2" r="0.96" fill="#cc8a50" opacity="0.75"/><circle cx="354.4" cy="468.5" r="1.03" fill="#c07a40" opacity="0.80"/><circle cx="353.9" cy="451.9" r="0.79" fill="#cc8a50" opacity="0.67"/><circle cx="333.7" cy="479.7" r="0.99" fill="#d49a62" opacity="0.67"/><circle cx="321.6" cy="473.9" r="1.01" fill="#b86e34" opacity="0.59"/><circle cx="351.0" cy="474.5" r="1.05" fill="#cc8a50" opacity="0.57"/><circle cx="348.1" cy="467.7" r="0.88" fill="#a8622c" opacity="0.60"/><circle cx="367.1" cy="443.2" r="0.70" fill="#cc8a50" opacity="0.83"/><circle cx="329.4" cy="470.6" r="0.82" fill="#b86e34" opacity="0.78"/><circle cx="367.7" cy="476.8" r="0.98" fill="#cc8a50" opacity="0.78"/><circle cx="325.4" cy="477.9" r="0.94" fill="#a8622c" opacity="0.89"/><circle cx="323.1" cy="459.7" r="1.02" fill="#a8622c" opacity="0.81"/><circle cx="335.5" cy="474.1" r="0.59" fill="#c88448" opacity="0.70"/><circle cx="357.2" cy="486.3" r="0.77" fill="#c88448" opacity="0.73"/><circle cx="366.8" cy="455.6" r="0.98" fill="#cc8a50" opacity="0.55"/><circle cx="360.6" cy="444.0" r="0.97" fill="#cc8a50" opacity="0.68"/><circle cx="335.8" cy="473.3" r="0.71" fill="#c88448" opacity="0.69"/><circle cx="336.5" cy="481.7" r="0.84" fill="#cc8a50" opacity="0.62"/><circle cx="328.6" cy="461.7" r="0.63" fill="#cc8a50" opacity="0.89"/><circle cx="340.1" cy="465.1" r="0.74" fill="#b86e34" opacity="0.73"/><circle cx="322.2" cy="466.9" r="0.63" fill="#a8622c" opacity="0.77"/><circle cx="332.7" cy="469.0" r="0.78" fill="#c07a40" opacity="0.61"/><circle cx="359.2" cy="467.1" r="0.80" fill="#a8622c" opacity="0.83"/><circle cx="324.1" cy="481.3" r="0.68" fill="#b86e34" opacity="0.67"/><circle cx="344.3" cy="447.3" r="0.84" fill="#c07a40" opacity="0.58"/><circle cx="345.6" cy="481.3" r="0.98" fill="#a8622c" opacity="0.57"/><circle cx="370.0" cy="465.0" r="0.61" fill="#cc8a50" opacity="0.64"/><circle cx="324.0" cy="444.1" r="0.99" fill="#a8622c" opacity="0.81"/><circle cx="360.4" cy="474.7" r="0.83" fill="#c07a40" opacity="0.83"/><circle cx="334.0" cy="488.7" r="0.91" fill="#c88448" opacity="0.71"/><circle cx="351.0" cy="443.2" r="0.85" fill="#d49a62" opacity="0.87"/><circle cx="324.0" cy="450.3" r="0.83" fill="#a8622c" opacity="0.66"/><circle cx="363.6" cy="457.5" r="0.55" fill="#c88448" opacity="0.78"/><circle cx="324.2" cy="452.9" r="0.80" fill="#a8622c" opacity="0.57"/><circle cx="366.0" cy="465.1" r="0.93" fill="#a8622c" opacity="0.57"/><circle cx="339.9" cy="474.3" r="0.60" fill="#c07a40" opacity="0.72"/><circle cx="337.8" cy="453.8" r="0.59" fill="#c88448" opacity="0.66"/><circle cx="342.1" cy="478.6" r="0.89" fill="#c07a40" opacity="0.56"/><circle cx="351.2" cy="483.2" r="0.68" fill="#c07a40" opacity="0.75"/><circle cx="327.5" cy="480.6" r="0.59" fill="#d49a62" opacity="0.75"/><circle cx="324.9" cy="453.4" r="0.94" fill="#a8622c" opacity="0.81"/><circle cx="343.0" cy="447.6" r="1.00" fill="#cc8a50" opacity="0.73"/><circle cx="338.9" cy="456.4" r="0.72" fill="#c88448" opacity="0.86"/><circle cx="321.8" cy="476.5" r="1.02" fill="#c88448" opacity="0.65"/><circle cx="357.9" cy="466.4" r="0.76" fill="#b86e34" opacity="0.57"/><circle cx="361.9" cy="487.9" r="0.58" fill="#c07a40" opacity="0.64"/><circle cx="330.3" cy="480.8" r="0.56" fill="#a8622c" opacity="0.60"/><circle cx="326.8" cy="490.0" r="1.03" fill="#c07a40" opacity="0.59"/><circle cx="336.8" cy="449.6" r="0.68" fill="#c07a40" opacity="0.66"/><circle cx="331.2" cy="461.5" r="0.59" fill="#c88448" opacity="0.79"/><circle cx="333.3" cy="467.0" r="1.01" fill="#d49a62" opacity="0.76"/><circle cx="325.3" cy="449.3" r="0.93" fill="#cc8a50" opacity="0.55"/><circle cx="360.6" cy="470.1" r="0.56" fill="#b86e34" opacity="0.80"/><circle cx="347.8" cy="469.3" r="0.95" fill="#c88448" opacity="0.72"/><circle cx="367.2" cy="469.2" r="0.67" fill="#c88448" opacity="0.60"/><circle cx="338.9" cy="485.3" r="0.78" fill="#b86e34" opacity="0.83"/><circle cx="352.8" cy="478.4" r="0.84" fill="#a8622c" opacity="0.78"/><circle cx="340.2" cy="473.9" r="0.58" fill="#a8622c" opacity="0.81"/><circle cx="347.1" cy="490.1" r="0.98" fill="#c88448" opacity="0.74"/><circle cx="353.0" cy="453.7" r="0.82" fill="#d49a62" opacity="0.81"/><circle cx="346.2" cy="488.5" r="0.79" fill="#b86e34" opacity="0.57"/><circle cx="357.7" cy="469.2" r="0.62" fill="#c07a40" opacity="0.69"/><circle cx="344.1" cy="487.4" r="0.87" fill="#d49a62" opacity="0.83"/><circle cx="358.9" cy="468.2" r="0.79" fill="#cc8a50" opacity="0.73"/><circle cx="347.1" cy="455.9" r="0.73" fill="#a8622c" opacity="0.65"/><circle cx="321.7" cy="491.3" r="0.83" fill="#d49a62" opacity="0.65"/><circle cx="350.9" cy="454.3" r="0.59" fill="#b86e34" opacity="0.79"/><circle cx="334.4" cy="477.3" r="0.69" fill="#c88448" opacity="0.68"/><circle cx="366.9" cy="463.3" r="0.66" fill="#d49a62" opacity="0.79"/><circle cx="335.1" cy="443.8" r="1.02" fill="#d49a62" opacity="0.73"/><circle cx="369.6" cy="456.4" r="0.93" fill="#a8622c" opacity="0.68"/><circle cx="358.5" cy="486.6" r="1.03" fill="#c07a40" opacity="0.64"/><circle cx="337.7" cy="446.4" r="0.93" fill="#a8622c" opacity="0.58"/><circle cx="350.5" cy="463.7" r="0.78" fill="#cc8a50" opacity="0.88"/><circle cx="332.3" cy="468.0" r="0.99" fill="#c07a40" opacity="0.69"/><circle cx="361.6" cy="490.1" r="0.80" fill="#a8622c" opacity="0.57"/><circle cx="323.2" cy="465.0" r="0.78" fill="#c07a40" opacity="0.57"/><circle cx="347.2" cy="456.7" r="0.60" fill="#b86e34" opacity="0.63"/><circle cx="361.3" cy="489.7" r="0.88" fill="#d49a62" opacity="0.71"/><circle cx="334.6" cy="476.5" r="0.68" fill="#b86e34" opacity="0.69"/><circle cx="360.1" cy="479.9" r="0.74" fill="#b86e34" opacity="0.57"/><circle cx="351.2" cy="443.0" r="0.58" fill="#c88448" opacity="0.81"/><circle cx="323.6" cy="468.7" r="0.62" fill="#b86e34" opacity="0.79"/><circle cx="327.9" cy="457.0" r="0.82" fill="#d49a62" opacity="0.65"/><circle cx="324.7" cy="479.0" r="0.68" fill="#c88448" opacity="0.62"/><circle cx="341.9" cy="446.6" r="1.02" fill="#cc8a50" opacity="0.62"/><circle cx="325.9" cy="491.3" r="0.61" fill="#a8622c" opacity="0.87"/><circle cx="368.0" cy="451.4" r="0.76" fill="#c07a40" opacity="0.61"/><circle cx="328.5" cy="445.6" r="0.77" fill="#c88448" opacity="0.69"/><circle cx="321.7" cy="449.3" r="0.74" fill="#c88448" opacity="0.79"/><circle cx="367.1" cy="447.1" r="0.61" fill="#d49a62" opacity="0.70"/><circle cx="349.1" cy="447.8" r="0.59" fill="#c88448" opacity="0.75"/><circle cx="347.6" cy="448.9" r="0.89" fill="#c07a40" opacity="0.68"/><circle cx="369.6" cy="487.4" r="0.81" fill="#c88448" opacity="0.64"/><circle cx="369.7" cy="444.7" r="0.58" fill="#b86e34" opacity="0.62"/><circle cx="356.2" cy="481.8" r="0.58" fill="#a8622c" opacity="0.68"/><circle cx="341.0" cy="468.7" r="0.80" fill="#d49a62" opacity="0.60"/><circle cx="322.1" cy="469.4" r="0.68" fill="#a8622c" opacity="0.67"/><circle cx="332.7" cy="466.2" r="0.62" fill="#b86e34" opacity="0.73"/><circle cx="325.6" cy="449.8" r="0.64" fill="#a8622c" opacity="0.59"/><circle cx="363.8" cy="478.0" r="0.80" fill="#c88448" opacity="0.89"/><circle cx="333.8" cy="484.0" r="0.68" fill="#b86e34" opacity="0.82"/><circle cx="340.0" cy="455.3" r="0.93" fill="#cc8a50" opacity="0.68"/><circle cx="322.6" cy="470.1" r="0.71" fill="#c07a40" opacity="0.74"/><circle cx="353.3" cy="476.3" r="0.70" fill="#c07a40" opacity="0.67"/><circle cx="365.1" cy="460.0" r="0.69" fill="#cc8a50" opacity="0.86"/><circle cx="341.0" cy="484.0" r="0.58" fill="#c88448" opacity="0.68"/><circle cx="344.2" cy="453.5" r="0.65" fill="#c07a40" opacity="0.71"/><circle cx="336.3" cy="483.4" r="0.79" fill="#d49a62" opacity="0.84"/><circle cx="363.3" cy="469.3" r="1.01" fill="#a8622c" opacity="0.87"/><rect x="323.8" y="487.0" width="9.6" height="1.8" fill="#4a3c34" opacity="0.45"/></g>
</g>
<g clip-path="url(#clip20)">
<rect x="48" y="498.0" width="48" height="47.8" filter="url(#n_heart2)"/>
<g><polygon points="49.13,509.61 49.56,509.16 50.12,508.55 50.78,507.83 51.51,507.05 52.28,506.24 53.07,505.47 53.83,504.77 54.53,504.20 55.20,503.73 55.90,503.31 56.61,502.94 57.34,502.58 58.09,502.24 58.85,501.91 59.62,501.56 60.38,501.19 61.18,500.80 62.02,500.38 62.89,499.96 63.75,499.55 64.57,499.16 65.30,498.81 65.92,498.51 66.38,498.29 65.62,496.71 65.16,496.93 64.54,497.22 63.81,497.57 63.00,497.97 62.13,498.38 61.26,498.80 60.40,499.22 59.62,499.61 58.88,499.97 58.13,500.30 57.37,500.64 56.60,500.99 55.82,501.37 55.03,501.79 54.25,502.26 53.47,502.80 52.68,503.45 51.86,504.20 51.03,505.01 50.24,505.84 49.49,506.64 48.83,507.36 48.28,507.96 47.87,508.39" fill="#dcd4d8" opacity="0.92"/><polygon points="49.42,505.59 49.43,505.97 49.50,506.39 49.64,506.82 49.83,507.28 50.05,507.74 50.30,508.20 50.67,508.53 51.05,508.81 51.45,509.09 51.88,509.39 52.38,509.60 52.96,509.69 53.52,509.75 54.04,509.77 54.52,509.72 54.93,509.60 55.07,509.40 55.01,508.97 54.86,508.51 54.63,508.04 54.36,507.56 54.06,507.08 53.69,506.71 53.30,506.43 52.95,506.19 52.63,505.95 52.26,505.71 51.78,505.58 51.30,505.47 50.83,505.38 50.37,505.33 49.95,505.34 49.58,505.41" fill="#dcd4d8" opacity="0.92"/><polygon points="51.53,517.12 51.96,516.99 52.54,516.91 53.24,516.78 54.00,516.63 54.81,516.47 55.63,516.29 56.42,516.11 57.16,515.94 57.85,515.78 58.54,515.64 59.24,515.49 59.94,515.34 60.66,515.17 61.38,514.98 62.11,514.75 62.85,514.48 63.58,514.17 64.30,513.83 65.01,513.46 65.71,513.05 66.40,512.63 67.09,512.19 67.79,511.75 68.51,511.30 69.24,510.83 69.98,510.33 70.72,509.82 71.47,509.31 72.22,508.79 72.97,508.28 73.73,507.79 74.49,507.31 75.27,506.87 76.10,506.44 76.98,506.01 77.88,505.58 78.78,505.13 79.65,504.64 80.47,504.11 81.24,503.50 81.92,502.80 82.52,502.01 83.06,501.19 83.54,500.38 83.95,499.61 84.30,498.92 84.59,498.37 84.82,497.97 83.18,497.03 82.93,497.47 82.62,498.06 82.28,498.73 81.89,499.46 81.46,500.20 80.99,500.91 80.49,501.56 79.96,502.10 79.37,502.57 78.67,503.02 77.89,503.46 77.04,503.88 76.16,504.31 75.26,504.75 74.37,505.20 73.51,505.69 72.71,506.20 71.92,506.71 71.15,507.23 70.39,507.75 69.65,508.27 68.92,508.77 68.20,509.25 67.49,509.70 66.78,510.15 66.09,510.59 65.40,511.02 64.73,511.43 64.07,511.83 63.43,512.22 62.79,512.58 62.15,512.92 61.52,513.22 60.87,513.49 60.22,513.73 59.56,513.96 58.89,514.18 58.21,514.40 57.53,514.62 56.84,514.86 56.13,515.12 55.37,515.40 54.58,515.69 53.81,515.98 53.08,516.26 52.43,516.52 51.89,516.76 51.47,516.88" fill="#dcd4d8" opacity="0.92"/><polygon points="51.96,516.91 52.23,517.37 52.63,517.85 53.15,518.35 53.76,518.85 54.46,519.33 55.23,519.71 56.09,519.88 56.96,519.95 57.84,519.91 58.70,519.78 59.48,519.42 60.19,518.97 60.82,518.49 61.34,518.02 61.75,517.56 62.03,517.12 61.97,516.88 61.48,516.66 60.86,516.53 60.17,516.46 59.44,516.41 58.71,516.36 58.03,516.33 57.47,516.42 57.04,516.45 56.59,516.40 56.03,516.29 55.35,516.28 54.61,516.30 53.87,516.33 53.17,516.37 52.54,516.48 52.04,516.69" fill="#dcd4d8" opacity="0.92"/><polygon points="54.01,528.62 54.63,528.56 55.46,528.57 56.45,528.55 57.55,528.52 58.72,528.47 59.89,528.39 61.04,528.29 62.09,528.17 63.09,528.04 64.09,527.91 65.10,527.77 66.11,527.61 67.12,527.41 68.12,527.17 69.11,526.86 70.08,526.49 71.03,526.01 71.97,525.44 72.87,524.80 73.72,524.12 74.52,523.45 75.27,522.81 75.96,522.24 76.57,521.76 77.09,521.39 77.53,521.10 77.92,520.86 78.31,520.63 78.71,520.37 79.13,520.05 79.59,519.65 80.09,519.14 80.64,518.52 81.23,517.80 81.83,517.02 82.44,516.20 83.04,515.37 83.64,514.56 84.21,513.78 84.74,513.09 85.23,512.51 85.71,512.01 86.21,511.52 86.72,511.02 87.24,510.45 87.75,509.79 88.23,509.00 88.68,508.06 89.09,506.90 89.47,505.53 89.83,504.03 90.16,502.49 90.46,501.00 90.73,499.64 90.95,498.51 91.12,497.70 89.28,497.30 89.10,498.14 88.87,499.28 88.61,500.63 88.31,502.11 87.99,503.61 87.64,505.05 87.28,506.33 86.92,507.34 86.56,508.10 86.19,508.72 85.79,509.24 85.36,509.71 84.88,510.17 84.37,510.68 83.82,511.25 83.26,511.91 82.70,512.65 82.12,513.44 81.52,514.26 80.91,515.08 80.32,515.88 79.74,516.63 79.20,517.30 78.71,517.86 78.29,518.28 77.94,518.59 77.62,518.82 77.30,519.03 76.95,519.25 76.52,519.50 76.02,519.82 75.43,520.24 74.77,520.77 74.05,521.36 73.30,522.00 72.52,522.66 71.72,523.30 70.91,523.90 70.11,524.45 69.32,524.91 68.51,525.29 67.64,525.63 66.74,525.91 65.80,526.17 64.84,526.40 63.87,526.61 62.88,526.82 61.91,527.03 60.88,527.24 59.77,527.44 58.63,527.64 57.48,527.82 56.40,527.99 55.43,528.16 54.61,528.31 53.99,528.38" fill="#dcd4d8" opacity="0.92"/><polygon points="55.98,529.12 56.40,529.48 56.96,529.87 57.65,530.25 58.45,530.62 59.33,530.97 60.26,531.24 61.23,531.27 62.20,531.21 63.16,531.03 64.12,530.76 65.02,530.31 65.84,529.75 66.58,529.18 67.21,528.62 67.70,528.09 68.04,527.61 67.96,527.39 67.37,527.27 66.63,527.26 65.80,527.33 64.91,527.42 64.01,527.52 63.16,527.67 62.42,527.88 61.80,527.99 61.18,528.03 60.46,528.01 59.65,528.13 58.80,528.24 57.97,528.35 57.20,528.47 56.53,528.65 56.02,528.88" fill="#dcd4d8" opacity="0.92"/><polygon points="53.00,534.32 53.87,534.34 55.04,534.44 56.44,534.56 57.99,534.67 59.61,534.77 61.21,534.83 62.71,534.84 64.04,534.80 65.22,534.70 66.34,534.57 67.41,534.40 68.44,534.19 69.43,533.97 70.39,533.71 71.32,533.44 72.23,533.16 73.12,532.86 73.96,532.55 74.78,532.21 75.57,531.84 76.34,531.44 77.10,531.00 77.86,530.53 78.63,530.00 79.41,529.42 80.20,528.78 80.99,528.10 81.76,527.39 82.51,526.66 83.23,525.93 83.92,525.20 84.56,524.49 85.14,523.82 85.68,523.17 86.19,522.53 86.67,521.87 87.13,521.19 87.58,520.47 88.02,519.69 88.47,518.82 88.91,517.85 89.35,516.76 89.76,515.62 90.17,514.45 90.56,513.29 90.94,512.19 91.31,511.18 91.68,510.30 92.04,509.57 92.40,508.93 92.77,508.35 93.14,507.81 93.50,507.28 93.86,506.72 94.19,506.13 94.49,505.48 94.74,504.76 94.96,503.99 95.14,503.21 95.30,502.44 95.44,501.72 95.55,501.07 95.65,500.54 95.73,500.15 94.27,499.85 94.19,500.27 94.09,500.81 93.98,501.45 93.85,502.16 93.70,502.89 93.52,503.62 93.33,504.31 93.11,504.92 92.87,505.46 92.59,505.96 92.27,506.46 91.91,506.98 91.53,507.54 91.13,508.17 90.72,508.88 90.32,509.70 89.93,510.64 89.54,511.68 89.15,512.81 88.76,513.97 88.36,515.12 87.96,516.24 87.55,517.26 87.13,518.18 86.71,518.98 86.30,519.71 85.88,520.38 85.46,521.02 85.01,521.63 84.53,522.23 84.01,522.86 83.44,523.51 82.83,524.19 82.17,524.90 81.47,525.61 80.74,526.31 80.00,526.99 79.25,527.65 78.50,528.25 77.77,528.80 77.05,529.28 76.34,529.73 75.63,530.14 74.91,530.51 74.17,530.86 73.41,531.19 72.61,531.52 71.77,531.84 70.90,532.16 70.01,532.46 69.10,532.74 68.16,533.01 67.18,533.25 66.16,533.46 65.09,533.65 63.96,533.80 62.68,533.91 61.20,533.99 59.62,534.03 58.01,534.05 56.46,534.06 55.05,534.08 53.87,534.10 53.00,534.08" fill="#dcd4d8" opacity="0.92"/><polygon points="55.00,541.52 55.70,541.50 56.64,541.57 57.76,541.62 59.00,541.67 60.31,541.69 61.63,541.69 62.90,541.64 64.07,541.55 65.16,541.43 66.24,541.27 67.30,541.09 68.35,540.88 69.39,540.64 70.40,540.38 71.41,540.09 72.39,539.78 73.36,539.43 74.31,539.03 75.24,538.59 76.14,538.13 77.01,537.66 77.86,537.19 78.67,536.71 79.45,536.25 80.19,535.81 80.89,535.38 81.57,534.96 82.23,534.52 82.88,534.06 83.52,533.56 84.16,533.02 84.80,532.44 85.46,531.79 86.11,531.10 86.75,530.37 87.38,529.62 88.00,528.84 88.60,528.06 89.17,527.28 89.72,526.50 90.24,525.72 90.73,524.93 91.19,524.15 91.63,523.36 92.05,522.56 92.48,521.76 92.92,520.95 93.37,520.12 93.87,519.22 94.42,518.21 94.98,517.17 95.55,516.12 96.08,515.13 96.57,514.23 96.97,513.48 97.27,512.92 95.73,512.08 95.42,512.65 95.02,513.40 94.54,514.30 94.00,515.29 93.44,516.33 92.87,517.38 92.33,518.37 91.83,519.28 91.37,520.12 90.93,520.94 90.51,521.74 90.09,522.52 89.66,523.28 89.23,524.03 88.77,524.77 88.28,525.50 87.75,526.25 87.19,527.01 86.61,527.76 86.02,528.51 85.42,529.23 84.81,529.92 84.20,530.57 83.60,531.16 83.00,531.70 82.42,532.19 81.83,532.65 81.23,533.07 80.61,533.48 79.97,533.89 79.28,534.31 78.55,534.75 77.78,535.20 76.99,535.66 76.17,536.12 75.32,536.58 74.46,537.02 73.59,537.44 72.70,537.84 71.81,538.22 70.90,538.57 69.96,538.91 68.99,539.22 68.01,539.51 67.01,539.78 66.00,540.02 64.97,540.25 63.93,540.45 62.81,540.62 61.57,540.76 60.28,540.88 58.98,540.98 57.75,541.07 56.64,541.16 55.70,541.26 55.00,541.28" fill="#dcd4d8" opacity="0.92"/><polygon points="64.22,547.35 64.92,547.17 65.84,546.93 66.94,546.65 68.17,546.34 69.48,545.99 70.80,545.62 72.09,545.23 73.29,544.83 74.43,544.42 75.61,543.98 76.80,543.53 77.98,543.05 79.13,542.55 80.24,542.03 81.29,541.50 82.26,540.95 83.13,540.37 83.92,539.78 84.64,539.16 85.29,538.54 85.90,537.93 86.48,537.31 87.05,536.71 87.63,536.11 88.22,535.50 88.79,534.88 89.34,534.25 89.87,533.63 90.40,533.02 90.93,532.41 91.47,531.81 92.03,531.21 92.66,530.58 93.36,529.89 94.09,529.18 94.83,528.48 95.53,527.82 96.17,527.22 96.70,526.72 97.10,526.34 95.90,525.06 95.50,525.44 94.97,525.94 94.33,526.54 93.62,527.21 92.88,527.91 92.13,528.63 91.42,529.33 90.77,529.99 90.18,530.62 89.61,531.25 89.07,531.87 88.54,532.49 88.02,533.10 87.49,533.70 86.94,534.30 86.37,534.89 85.78,535.50 85.20,536.11 84.64,536.71 84.06,537.29 83.46,537.86 82.82,538.41 82.12,538.94 81.34,539.45 80.46,539.95 79.47,540.45 78.41,540.95 77.30,541.43 76.15,541.89 74.99,542.34 73.83,542.77 72.71,543.17 71.56,543.56 70.31,543.93 69.01,544.30 67.73,544.64 66.51,544.95 65.41,545.23 64.48,545.47 63.78,545.65" fill="#dcd4d8" opacity="0.92"/><polygon points="47.39,532.29 47.61,532.74 47.88,533.34 48.20,534.05 48.58,534.85 48.99,535.71 49.44,536.60 49.92,537.49 50.43,538.35 51.00,539.25 51.67,540.23 52.41,541.24 53.24,542.20 54.05,543.11 54.79,543.91 55.44,544.57 55.90,545.07 56.10,544.93 55.76,544.34 55.32,543.52 54.76,542.58 54.14,541.55 53.48,540.47 52.78,539.46 52.13,538.50 51.57,537.65 51.10,536.83 50.64,535.98 50.20,535.11 49.80,534.27 49.43,533.48 49.11,532.77 48.83,532.17 48.61,531.71" fill="#dcd4d8" opacity="0.92"/><polygon points="68.06,507.10 68.56,506.87 69.26,506.59 70.08,506.24 70.98,505.83 71.90,505.40 72.78,504.89 73.59,504.40 74.29,503.95 74.93,503.52 75.52,503.04 76.08,502.54 76.59,502.06 77.06,501.61 77.46,501.19 77.78,500.83 78.07,500.59 77.93,500.41 77.63,500.63 77.20,500.86 76.71,501.16 76.16,501.50 75.57,501.87 74.95,502.25 74.32,502.64 73.71,503.05 73.02,503.48 72.22,503.96 71.36,504.46 70.52,505.04 69.72,505.60 68.99,506.13 68.40,506.59 67.94,506.90" fill="#dcd4d8" opacity="0.92"/><polygon points="74.21,547.14 74.98,546.89 76.04,546.58 77.30,546.20 78.70,545.77 80.18,545.29 81.65,544.76 83.05,544.20 84.31,543.60 85.47,542.93 86.61,542.18 87.71,541.38 88.76,540.56 89.77,539.73 90.73,538.93 91.61,538.19 92.43,537.52 93.19,536.89 93.92,536.28 94.59,535.68 95.21,535.12 95.76,534.61 96.23,534.16 96.64,533.79 96.95,533.50 96.05,532.50 95.72,532.80 95.31,533.18 94.84,533.63 94.29,534.13 93.69,534.67 93.03,535.26 92.33,535.86 91.57,536.48 90.75,537.15 89.86,537.90 88.91,538.69 87.92,539.50 86.89,540.31 85.84,541.07 84.77,541.78 83.69,542.40 82.51,542.96 81.17,543.50 79.74,544.01 78.30,544.48 76.91,544.91 75.65,545.28 74.59,545.60 73.79,545.86" fill="#dcd4d8" opacity="0.92"/></g>
</g>
<g clip-path="url(#clip21)">
<rect x="104" y="498.0" width="48" height="47.8" filter="url(#n_liver2)"/>
</g>
<g clip-path="url(#clip22)">
<rect x="159" y="498.0" width="48" height="47.8" filter="url(#n_spleen2)"/>
<g><g filter="url(#spk)"><ellipse cx="163" cy="502.0" rx="10" ry="9" fill="url(#pinkR)" opacity="0.9"/><ellipse cx="204" cy="522.0" rx="5" ry="14" fill="url(#pinkR)" opacity="0.5"/><ellipse cx="161" cy="542.0" rx="5" ry="6" fill="url(#pinkR)" opacity="0.6"/><ellipse cx="189" cy="528.0" rx="14" ry="14" fill="url(#lavR)" opacity="0.3"/></g></g>
</g>
<g clip-path="url(#clip23)">
<rect x="213" y="498.0" width="48" height="47.8" filter="url(#n_lung2)"/>
<g><g filter="url(#lumpy)"><ellipse cx="228.7" cy="507.0" rx="4.8" ry="4.2" transform="rotate(0 228.7 507.0)" fill="#e2d8e0"/><ellipse cx="241.0" cy="504.0" rx="3.3" ry="4.8" transform="rotate(0 241.0 504.0)" fill="#e2d8e0"/><ellipse cx="248.0" cy="510.0" rx="4.8" ry="4.8" transform="rotate(0 248.0 510.0)" fill="#e2d8e0"/><ellipse cx="235.3" cy="517.9" rx="6.4" ry="6.4" transform="rotate(0 235.3 517.9)" fill="#e2d8e0"/><ellipse cx="243.0" cy="528.0" rx="6.2" ry="5.8" transform="rotate(0 243.0 528.0)" fill="#e2d8e0"/><ellipse cx="249.8" cy="533.0" rx="3" ry="3.6" transform="rotate(0 249.8 533.0)" fill="#e2d8e0"/><ellipse cx="214.8" cy="514.3" rx="1.8" ry="3" transform="rotate(0 214.8 514.3)" fill="#e2d8e0"/><ellipse cx="215.4" cy="505.8" rx="2.4" ry="1.8" transform="rotate(0 215.4 505.8)" fill="#e2d8e0"/><ellipse cx="217.8" cy="501.0" rx="2.4" ry="1.8" transform="rotate(0 217.8 501.0)" fill="#e2d8e0"/><ellipse cx="223.0" cy="522.0" rx="1.2" ry="1.5" transform="rotate(0 223.0 522.0)" fill="#e2d8e0"/><ellipse cx="219.0" cy="531.0" rx="1.0" ry="1.3" transform="rotate(0 219.0 531.0)" fill="#e2d8e0"/><ellipse cx="227.0" cy="536.0" rx="1.0" ry="1.3" transform="rotate(0 227.0 536.0)" fill="#e2d8e0"/><ellipse cx="217.0" cy="540.0" rx="1.0" ry="1.2" transform="rotate(0 217.0 540.0)" fill="#e2d8e0"/><ellipse cx="233.0" cy="542.0" rx="1.0" ry="1.2" transform="rotate(0 233.0 542.0)" fill="#e2d8e0"/><ellipse cx="254.0" cy="522.0" rx="1.5" ry="2.0" transform="rotate(0 254.0 522.0)" fill="#e2d8e0"/><ellipse cx="255.0" cy="502.0" rx="1.5" ry="2.0" transform="rotate(0 255.0 502.0)" fill="#e2d8e0"/><path d="M261,527.0 L256,534.0 L257,546.0 L261,546.0Z" fill="#d8d0d8"/><ellipse cx="215.0" cy="526.3" rx="0.41" ry="0.96" transform="rotate(176 215.0 526.3)" fill="#e2d8e0" opacity="0.85"/><ellipse cx="226.9" cy="544.8" rx="0.85" ry="1.30" transform="rotate(4 226.9 544.8)" fill="#e2d8e0" opacity="0.85"/><ellipse cx="248.3" cy="522.8" rx="0.82" ry="0.84" transform="rotate(176 248.3 522.8)" fill="#e2d8e0" opacity="0.85"/><ellipse cx="244.5" cy="532.8" rx="0.88" ry="0.99" transform="rotate(146 244.5 532.8)" fill="#e2d8e0" opacity="0.85"/><ellipse cx="242.6" cy="525.1" rx="0.50" ry="1.00" transform="rotate(28 242.6 525.1)" fill="#e2d8e0" opacity="0.85"/><ellipse cx="241.1" cy="518.5" rx="0.93" ry="1.03" transform="rotate(66 241.1 518.5)" fill="#e2d8e0" opacity="0.85"/><ellipse cx="237.9" cy="508.5" rx="1.09" ry="1.27" transform="rotate(71 237.9 508.5)" fill="#e2d8e0" opacity="0.85"/><ellipse cx="223.4" cy="519.4" rx="0.85" ry="0.90" transform="rotate(169 223.4 519.4)" fill="#e2d8e0" opacity="0.85"/><ellipse cx="215.4" cy="514.4" rx="0.76" ry="0.54" transform="rotate(84 215.4 514.4)" fill="#e2d8e0" opacity="0.85"/><ellipse cx="240.5" cy="512.6" rx="1.10" ry="0.81" transform="rotate(66 240.5 512.6)" fill="#e2d8e0" opacity="0.85"/><ellipse cx="241.6" cy="510.7" rx="0.73" ry="0.64" transform="rotate(10 241.6 510.7)" fill="#e2d8e0" opacity="0.85"/><ellipse cx="245.9" cy="511.4" rx="0.51" ry="0.73" transform="rotate(75 245.9 511.4)" fill="#e2d8e0" opacity="0.85"/><ellipse cx="220.0" cy="531.4" rx="0.91" ry="1.37" transform="rotate(8 220.0 531.4)" fill="#e2d8e0" opacity="0.85"/><ellipse cx="228.1" cy="530.3" rx="0.99" ry="0.72" transform="rotate(156 228.1 530.3)" fill="#e2d8e0" opacity="0.85"/><ellipse cx="215.0" cy="524.3" rx="0.42" ry="0.64" transform="rotate(129 215.0 524.3)" fill="#e2d8e0" opacity="0.85"/><ellipse cx="234.4" cy="541.7" rx="1.06" ry="0.90" transform="rotate(96 234.4 541.7)" fill="#e2d8e0" opacity="0.85"/><ellipse cx="231.2" cy="506.0" rx="0.69" ry="1.22" transform="rotate(74 231.2 506.0)" fill="#e2d8e0" opacity="0.85"/><ellipse cx="251.6" cy="504.5" rx="0.48" ry="1.38" transform="rotate(42 251.6 504.5)" fill="#e2d8e0" opacity="0.85"/><ellipse cx="219.9" cy="540.5" rx="0.93" ry="1.29" transform="rotate(156 219.9 540.5)" fill="#e2d8e0" opacity="0.85"/><ellipse cx="218.8" cy="525.6" rx="0.85" ry="0.74" transform="rotate(109 218.8 525.6)" fill="#e2d8e0" opacity="0.85"/><ellipse cx="230.0" cy="513.3" rx="0.68" ry="1.00" transform="rotate(33 230.0 513.3)" fill="#e2d8e0" opacity="0.85"/><ellipse cx="248.4" cy="515.7" rx="0.68" ry="0.87" transform="rotate(102 248.4 515.7)" fill="#e2d8e0" opacity="0.85"/><ellipse cx="259.3" cy="540.5" rx="0.76" ry="0.61" transform="rotate(13 259.3 540.5)" fill="#e2d8e0" opacity="0.85"/><ellipse cx="253.7" cy="498.5" rx="0.59" ry="0.96" transform="rotate(1 253.7 498.5)" fill="#e2d8e0" opacity="0.85"/><ellipse cx="243.7" cy="540.7" rx="0.86" ry="1.13" transform="rotate(131 243.7 540.7)" fill="#e2d8e0" opacity="0.85"/><ellipse cx="243.4" cy="498.5" rx="0.42" ry="1.18" transform="rotate(137 243.4 498.5)" fill="#e2d8e0" opacity="0.85"/><ellipse cx="252.7" cy="533.1" rx="0.57" ry="0.52" transform="rotate(99 252.7 533.1)" fill="#e2d8e0" opacity="0.85"/><ellipse cx="215.0" cy="529.9" rx="0.62" ry="1.12" transform="rotate(135 215.0 529.9)" fill="#e2d8e0" opacity="0.85"/><ellipse cx="258.3" cy="522.8" rx="0.74" ry="0.66" transform="rotate(45 258.3 522.8)" fill="#e2d8e0" opacity="0.85"/><ellipse cx="215.2" cy="544.4" rx="0.50" ry="1.18" transform="rotate(3 215.2 544.4)" fill="#e2d8e0" opacity="0.85"/><ellipse cx="235.1" cy="506.9" rx="0.93" ry="0.61" transform="rotate(137 235.1 506.9)" fill="#e2d8e0" opacity="0.85"/><ellipse cx="251.5" cy="524.3" rx="0.78" ry="0.90" transform="rotate(125 251.5 524.3)" fill="#e2d8e0" opacity="0.85"/><ellipse cx="234.4" cy="539.9" rx="0.53" ry="0.61" transform="rotate(106 234.4 539.9)" fill="#e2d8e0" opacity="0.85"/><ellipse cx="222.1" cy="507.4" rx="0.84" ry="1.38" transform="rotate(25 222.1 507.4)" fill="#e2d8e0" opacity="0.85"/><ellipse cx="225.7" cy="509.9" rx="0.64" ry="1.08" transform="rotate(98 225.7 509.9)" fill="#e2d8e0" opacity="0.85"/><ellipse cx="223.7" cy="541.7" rx="0.52" ry="0.79" transform="rotate(158 223.7 541.7)" fill="#e2d8e0" opacity="0.85"/><ellipse cx="248.7" cy="531.1" rx="0.56" ry="0.70" transform="rotate(124 248.7 531.1)" fill="#e2d8e0" opacity="0.85"/><ellipse cx="226.9" cy="507.9" rx="0.77" ry="0.94" transform="rotate(69 226.9 507.9)" fill="#e2d8e0" opacity="0.85"/><ellipse cx="255.0" cy="512.0" rx="1.07" ry="0.82" transform="rotate(4 255.0 512.0)" fill="#e2d8e0" opacity="0.85"/><ellipse cx="231.4" cy="510.2" rx="0.48" ry="0.80" transform="rotate(72 231.4 510.2)" fill="#e2d8e0" opacity="0.85"/></g></g>
</g>
<g clip-path="url(#clip24)">
<rect x="268" y="498.0" width="48" height="47.8" filter="url(#n_kidney2)"/>
<g><line x1="274.0" y1="528.6" x2="276.2" y2="526.5" stroke="#ecdcec" stroke-width="0.65" stroke-linecap="round" opacity="0.6"/><line x1="295.7" y1="518.3" x2="298.6" y2="514.6" stroke="#ecdcec" stroke-width="0.65" stroke-linecap="round" opacity="0.6"/><line x1="268.7" y1="525.3" x2="271.4" y2="521.6" stroke="#ecdcec" stroke-width="0.65" stroke-linecap="round" opacity="0.6"/><line x1="309.5" y1="535.0" x2="310.9" y2="531.5" stroke="#ecdcec" stroke-width="0.65" stroke-linecap="round" opacity="0.6"/><line x1="272.6" y1="538.7" x2="275.7" y2="535.0" stroke="#ecdcec" stroke-width="0.65" stroke-linecap="round" opacity="0.6"/><line x1="288.3" y1="523.3" x2="290.2" y2="520.8" stroke="#ecdcec" stroke-width="0.65" stroke-linecap="round" opacity="0.6"/><line x1="273.4" y1="529.5" x2="276.6" y2="526.1" stroke="#ecdcec" stroke-width="0.65" stroke-linecap="round" opacity="0.6"/><line x1="278.6" y1="503.7" x2="281.1" y2="501.1" stroke="#ecdcec" stroke-width="0.65" stroke-linecap="round" opacity="0.6"/><line x1="291.5" y1="535.6" x2="293.5" y2="532.2" stroke="#ecdcec" stroke-width="0.65" stroke-linecap="round" opacity="0.6"/><line x1="310.6" y1="507.2" x2="312.6" y2="504.8" stroke="#ecdcec" stroke-width="0.65" stroke-linecap="round" opacity="0.6"/><line x1="297.1" y1="520.6" x2="299.5" y2="516.9" stroke="#ecdcec" stroke-width="0.65" stroke-linecap="round" opacity="0.6"/><line x1="298.3" y1="542.7" x2="301.9" y2="538.7" stroke="#ecdcec" stroke-width="0.65" stroke-linecap="round" opacity="0.6"/><line x1="289.2" y1="545.0" x2="291.9" y2="542.0" stroke="#ecdcec" stroke-width="0.65" stroke-linecap="round" opacity="0.6"/><line x1="308.3" y1="532.1" x2="311.1" y2="529.5" stroke="#ecdcec" stroke-width="0.65" stroke-linecap="round" opacity="0.6"/><line x1="295.4" y1="543.8" x2="298.2" y2="540.1" stroke="#ecdcec" stroke-width="0.65" stroke-linecap="round" opacity="0.6"/><line x1="313.1" y1="524.4" x2="316.4" y2="522.3" stroke="#ecdcec" stroke-width="0.65" stroke-linecap="round" opacity="0.6"/><line x1="312.3" y1="507.1" x2="314.4" y2="505.5" stroke="#ecdcec" stroke-width="0.65" stroke-linecap="round" opacity="0.6"/><line x1="309.2" y1="517.6" x2="311.5" y2="515.3" stroke="#ecdcec" stroke-width="0.65" stroke-linecap="round" opacity="0.6"/><line x1="311.8" y1="509.7" x2="314.5" y2="506.8" stroke="#ecdcec" stroke-width="0.65" stroke-linecap="round" opacity="0.6"/><line x1="277.8" y1="519.1" x2="279.4" y2="516.7" stroke="#ecdcec" stroke-width="0.65" stroke-linecap="round" opacity="0.6"/><line x1="278.5" y1="503.7" x2="279.6" y2="500.1" stroke="#ecdcec" stroke-width="0.65" stroke-linecap="round" opacity="0.6"/><line x1="272.9" y1="507.0" x2="274.6" y2="503.5" stroke="#ecdcec" stroke-width="0.65" stroke-linecap="round" opacity="0.6"/><line x1="302.4" y1="519.4" x2="303.5" y2="516.3" stroke="#ecdcec" stroke-width="0.65" stroke-linecap="round" opacity="0.6"/><line x1="281.4" y1="535.0" x2="283.1" y2="532.4" stroke="#ecdcec" stroke-width="0.65" stroke-linecap="round" opacity="0.6"/><line x1="305.1" y1="539.1" x2="308.3" y2="536.6" stroke="#ecdcec" stroke-width="0.65" stroke-linecap="round" opacity="0.6"/><line x1="298.4" y1="510.2" x2="299.3" y2="507.6" stroke="#ecdcec" stroke-width="0.65" stroke-linecap="round" opacity="0.6"/><line x1="303.6" y1="518.1" x2="308.2" y2="515.3" stroke="#ecdcec" stroke-width="0.65" stroke-linecap="round" opacity="0.6"/><line x1="311.6" y1="521.6" x2="312.6" y2="519.4" stroke="#ecdcec" stroke-width="0.65" stroke-linecap="round" opacity="0.6"/><line x1="276.5" y1="530.5" x2="280.6" y2="527.8" stroke="#ecdcec" stroke-width="0.65" stroke-linecap="round" opacity="0.6"/><line x1="300.5" y1="546.0" x2="303.2" y2="542.1" stroke="#ecdcec" stroke-width="0.65" stroke-linecap="round" opacity="0.6"/><line x1="306.3" y1="512.9" x2="310.0" y2="509.4" stroke="#ecdcec" stroke-width="0.65" stroke-linecap="round" opacity="0.6"/><line x1="308.3" y1="501.7" x2="310.9" y2="500.1" stroke="#ecdcec" stroke-width="0.65" stroke-linecap="round" opacity="0.6"/><line x1="273.5" y1="521.5" x2="276.1" y2="517.8" stroke="#ecdcec" stroke-width="0.65" stroke-linecap="round" opacity="0.6"/><line x1="309.7" y1="545.6" x2="310.7" y2="542.1" stroke="#ecdcec" stroke-width="0.65" stroke-linecap="round" opacity="0.6"/><line x1="311.4" y1="521.3" x2="312.4" y2="518.2" stroke="#ecdcec" stroke-width="0.65" stroke-linecap="round" opacity="0.6"/><line x1="267.4" y1="527.3" x2="269.5" y2="524.6" stroke="#ecdcec" stroke-width="0.65" stroke-linecap="round" opacity="0.6"/><line x1="311.7" y1="524.1" x2="313.0" y2="518.4" stroke="#ecdcec" stroke-width="0.65" stroke-linecap="round" opacity="0.6"/><line x1="303.8" y1="537.1" x2="305.0" y2="531.4" stroke="#ecdcec" stroke-width="0.65" stroke-linecap="round" opacity="0.6"/><line x1="291.1" y1="526.6" x2="293.6" y2="522.8" stroke="#ecdcec" stroke-width="0.65" stroke-linecap="round" opacity="0.6"/><line x1="279.1" y1="543.3" x2="283.1" y2="539.4" stroke="#ecdcec" stroke-width="0.65" stroke-linecap="round" opacity="0.6"/><line x1="313.1" y1="525.5" x2="315.0" y2="523.6" stroke="#ecdcec" stroke-width="0.65" stroke-linecap="round" opacity="0.6"/><line x1="272.2" y1="536.3" x2="273.9" y2="531.8" stroke="#ecdcec" stroke-width="0.65" stroke-linecap="round" opacity="0.6"/><line x1="274.0" y1="502.0" x2="276.6" y2="500.5" stroke="#ecdcec" stroke-width="0.65" stroke-linecap="round" opacity="0.6"/><line x1="278.3" y1="541.7" x2="279.6" y2="539.1" stroke="#ecdcec" stroke-width="0.65" stroke-linecap="round" opacity="0.6"/><line x1="289.6" y1="517.9" x2="291.8" y2="512.5" stroke="#ecdcec" stroke-width="0.65" stroke-linecap="round" opacity="0.6"/><line x1="290.2" y1="508.8" x2="292.2" y2="506.9" stroke="#ecdcec" stroke-width="0.65" stroke-linecap="round" opacity="0.6"/><line x1="283.7" y1="523.7" x2="284.9" y2="519.0" stroke="#ecdcec" stroke-width="0.65" stroke-linecap="round" opacity="0.6"/><line x1="270.0" y1="533.9" x2="271.2" y2="528.1" stroke="#ecdcec" stroke-width="0.65" stroke-linecap="round" opacity="0.6"/><g filter="url(#spk)"><ellipse cx="308" cy="540.0" rx="10" ry="8" fill="url(#pinkR)" opacity="0.5"/><ellipse cx="278" cy="510.0" rx="10" ry="10" fill="url(#pinkR)" opacity="0.5"/></g></g>
</g>
<g clip-path="url(#clip25)">
<rect x="322" y="498.0" width="48" height="47.8" filter="url(#n_ki672)"/>
<g><circle cx="349.4" cy="527.1" r="0.82" fill="#e0903a" opacity="0.61"/><circle cx="353.3" cy="539.0" r="0.86" fill="#e0903a" opacity="0.57"/><circle cx="353.3" cy="526.4" r="0.68" fill="#e0903a" opacity="0.89"/><circle cx="347.4" cy="518.5" r="0.87" fill="#e0903a" opacity="0.75"/><circle cx="324.5" cy="525.9" r="0.64" fill="#e0903a" opacity="0.84"/><circle cx="366.5" cy="523.6" r="0.76" fill="#e0903a" opacity="0.55"/><circle cx="332.2" cy="539.2" r="0.51" fill="#e0903a" opacity="0.63"/><circle cx="333.6" cy="510.5" r="0.45" fill="#e0903a" opacity="0.71"/><circle cx="327.3" cy="499.5" r="0.84" fill="#e0903a" opacity="0.80"/><circle cx="348.9" cy="503.7" r="0.52" fill="#e0903a" opacity="0.55"/><circle cx="337.2" cy="500.6" r="0.57" fill="#e0903a" opacity="0.58"/><circle cx="344.7" cy="514.5" r="0.69" fill="#e0903a" opacity="0.81"/><circle cx="336.8" cy="501.2" r="0.67" fill="#e0903a" opacity="0.65"/><circle cx="359.5" cy="503.1" r="0.84" fill="#e0903a" opacity="0.51"/><circle cx="348.0" cy="518.4" r="0.59" fill="#e0903a" opacity="0.86"/><circle cx="355.7" cy="505.5" r="0.67" fill="#e0903a" opacity="0.74"/><circle cx="323.6" cy="502.0" r="0.72" fill="#e0903a" opacity="0.79"/><circle cx="344.2" cy="517.4" r="0.68" fill="#e0903a" opacity="0.60"/><circle cx="364.1" cy="542.2" r="0.67" fill="#e0903a" opacity="0.51"/><circle cx="327.1" cy="506.5" r="0.77" fill="#e0903a" opacity="0.75"/><circle cx="335.7" cy="526.7" r="0.88" fill="#e0903a" opacity="0.83"/><circle cx="342.8" cy="535.2" r="0.87" fill="#e0903a" opacity="0.85"/><circle cx="358.0" cy="525.0" r="0.68" fill="#e0903a" opacity="0.84"/><circle cx="352.0" cy="531.2" r="0.55" fill="#e0903a" opacity="0.54"/><circle cx="331.5" cy="506.7" r="0.88" fill="#e0903a" opacity="0.53"/><circle cx="366.5" cy="533.5" r="0.71" fill="#e0903a" opacity="0.90"/><circle cx="354.6" cy="498.3" r="0.87" fill="#e0903a" opacity="0.67"/><circle cx="366.0" cy="535.4" r="0.51" fill="#e0903a" opacity="0.52"/><circle cx="323.0" cy="533.9" r="0.55" fill="#e0903a" opacity="0.55"/><circle cx="339.6" cy="534.8" r="0.84" fill="#e0903a" opacity="0.89"/><circle cx="358.2" cy="536.4" r="0.46" fill="#e0903a" opacity="0.50"/><circle cx="363.4" cy="526.5" r="0.60" fill="#e0903a" opacity="0.55"/><circle cx="343.6" cy="507.3" r="0.49" fill="#e0903a" opacity="0.58"/><circle cx="328.2" cy="502.6" r="0.64" fill="#e0903a" opacity="0.55"/><circle cx="360.4" cy="523.1" r="0.66" fill="#e0903a" opacity="0.76"/><circle cx="333.3" cy="499.1" r="0.49" fill="#e0903a" opacity="0.63"/><circle cx="339.3" cy="509.6" r="0.59" fill="#e0903a" opacity="0.83"/><circle cx="324.0" cy="505.3" r="0.89" fill="#e0903a" opacity="0.64"/><circle cx="327.6" cy="542.7" r="0.88" fill="#e0903a" opacity="0.63"/><circle cx="360.9" cy="499.9" r="0.56" fill="#e0903a" opacity="0.82"/><circle cx="346.8" cy="534.3" r="0.62" fill="#e0903a" opacity="0.85"/><circle cx="361.0" cy="511.1" r="0.78" fill="#e0903a" opacity="0.86"/><circle cx="352.1" cy="508.8" r="0.75" fill="#e0903a" opacity="0.88"/><circle cx="360.5" cy="518.4" r="0.63" fill="#e0903a" opacity="0.54"/><circle cx="358.9" cy="505.3" r="0.55" fill="#e0903a" opacity="0.51"/><circle cx="330.4" cy="517.5" r="0.49" fill="#e0903a" opacity="0.55"/><circle cx="347.1" cy="539.6" r="0.86" fill="#e0903a" opacity="0.73"/><circle cx="326.4" cy="538.2" r="0.85" fill="#e0903a" opacity="0.71"/><circle cx="340.4" cy="525.0" r="0.90" fill="#e0903a" opacity="0.70"/><circle cx="346.3" cy="512.3" r="0.69" fill="#e0903a" opacity="0.72"/><circle cx="335.6" cy="519.1" r="0.56" fill="#e0903a" opacity="0.60"/><circle cx="361.7" cy="540.7" r="0.84" fill="#e0903a" opacity="0.82"/><circle cx="331.3" cy="518.7" r="0.56" fill="#e0903a" opacity="0.74"/><circle cx="363.8" cy="540.9" r="0.61" fill="#e0903a" opacity="0.55"/><circle cx="335.5" cy="535.9" r="0.73" fill="#e0903a" opacity="0.83"/><ellipse cx="328" cy="521.0" rx="0.9" ry="1.8" fill="#e08a30"/><ellipse cx="368.5" cy="508.0" rx="0.8" ry="1.4" fill="#e08a30"/><rect x="323.8" y="542.0" width="9.6" height="1.8" fill="#4a3c34" opacity="0.45"/></g>
</g></svg></body></html>
